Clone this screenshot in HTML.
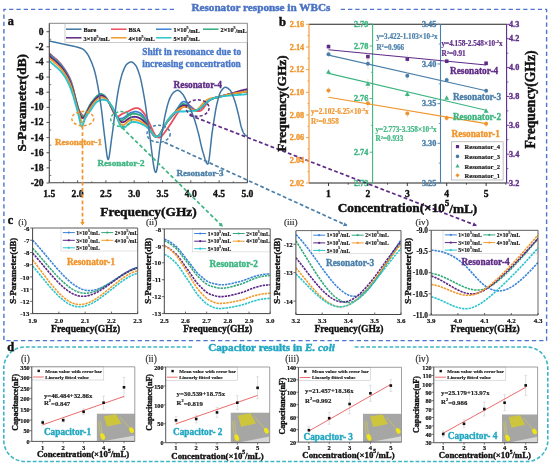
<!DOCTYPE html>
<html><head><meta charset="utf-8"><title>Resonator response in WBCs</title>
<style>html,body{margin:0;padding:0;background:#fff;width:550px;height:466px;overflow:hidden;}</style>
</head><body>
<svg width="550" height="466" viewBox="0 0 550 466" style="display:block;filter:blur(0.3px)" font-family='"Liberation Serif", serif'>
<rect x="0" y="0" width="550" height="466" fill="#ffffff"/>
<path d="M174.00,9.40 L3.90,9.40 L3.90,340.60 L546.60,340.60 L546.60,9.40 L340.00,9.40" fill="none" stroke="#4f74cc" stroke-width="1.4" stroke-dasharray="4.3 3" stroke-linejoin="round" stroke-linecap="butt" />
<text x="191.40" y="6.50" font-size="11.2" fill="#4a72c4" text-anchor="start" font-weight="bold" dominant-baseline="central"  stroke="#4a72c4" stroke-width="0.45">Resonator response in WBCs</text>
<text x="7.80" y="21.40" font-size="12.2" fill="#111" text-anchor="start" font-weight="bold" dominant-baseline="central"  stroke="#111" stroke-width="0.45">a</text>
<clipPath id="clipA"><rect x="49.3" y="23.3" width="198.1" height="159.5"/></clipPath>
<g clip-path="url(#clipA)">
<path d="M46.47,50.23 L47.26,51.14 L48.04,52.00 L48.83,52.80 L49.62,53.56 L50.40,54.29 L51.19,54.99 L51.98,55.68 L52.76,56.35 L53.55,57.01 L54.34,57.68 L55.12,58.36 L55.91,59.05 L56.70,59.77 L57.48,60.52 L58.27,61.31 L59.06,62.14 L59.84,63.02 L60.63,63.93 L61.42,64.89 L62.20,65.90 L62.99,66.94 L63.78,68.04 L64.56,69.18 L65.35,70.36 L66.14,71.59 L66.92,72.87 L67.71,74.20 L68.50,75.59 L69.28,77.12 L70.07,78.83 L70.86,80.78 L71.64,83.03 L72.43,85.64 L73.22,88.65 L74.01,92.07 L74.79,95.68 L75.58,99.26 L76.37,102.60 L77.15,105.47 L77.94,107.75 L78.73,109.54 L79.51,110.98 L80.30,112.22 L81.09,113.41 L81.87,114.68 L82.66,116.01 L83.45,117.15 L84.23,117.86 L85.02,117.95 L85.81,117.31 L86.59,115.83 L87.38,113.50 L88.17,110.71 L88.95,108.00 L89.74,105.80 L90.53,104.09 L91.31,102.79 L92.10,101.81 L92.89,101.06 L93.67,100.45 L94.46,99.87 L95.25,99.27 L96.03,98.62 L96.82,97.97 L97.61,97.32 L98.39,96.72 L99.18,96.19 L99.97,95.75 L100.75,95.44 L101.54,95.27 L102.33,95.27 L103.11,95.46 L103.90,95.84 L104.69,96.39 L105.47,97.13 L106.26,98.05 L107.05,99.14 L107.83,100.40 L108.62,101.84 L109.41,103.44 L110.19,105.16 L110.98,106.95 L111.77,108.74 L112.55,110.47 L113.34,112.10 L114.13,113.56 L114.91,114.79 L115.70,115.74 L116.49,116.35 L117.27,116.57 L118.06,116.46 L118.85,116.11 L119.63,115.60 L120.42,115.05 L121.21,114.53 L121.99,114.06 L122.78,113.65 L123.57,113.27 L124.36,112.92 L125.14,112.58 L125.93,112.26 L126.72,111.94 L127.50,111.60 L128.29,111.25 L129.08,110.87 L129.86,110.47 L130.65,110.05 L131.44,109.64 L132.22,109.25 L133.01,108.90 L133.80,108.58 L134.58,108.33 L135.37,108.15 L136.16,108.06 L136.94,108.06 L137.73,108.19 L138.52,108.43 L139.30,108.79 L140.09,109.26 L140.88,109.86 L141.66,110.57 L142.45,111.39 L143.24,112.33 L144.02,113.37 L144.81,114.53 L145.60,115.80 L146.38,117.17 L147.17,118.64 L147.96,120.18 L148.74,121.79 L149.53,123.44 L150.32,125.14 L151.10,126.85 L151.89,128.57 L152.68,130.26 L153.46,131.87 L154.25,133.36 L155.04,134.68 L155.82,135.80 L156.61,136.66 L157.40,137.22 L158.18,137.50 L158.97,137.52 L159.76,137.30 L160.54,136.88 L161.33,136.29 L162.12,135.54 L162.90,134.67 L163.69,133.72 L164.48,132.70 L165.26,131.64 L166.05,130.56 L166.84,129.46 L167.62,128.34 L168.41,127.19 L169.20,126.04 L169.98,124.86 L170.77,123.67 L171.56,122.47 L172.34,121.26 L173.13,120.04 L173.92,118.81 L174.71,117.57 L175.49,116.33 L176.28,115.10 L177.07,113.88 L177.85,112.69 L178.64,111.54 L179.43,110.45 L180.21,109.43 L181.00,108.49 L181.79,107.64 L182.57,106.90 L183.36,106.27 L184.15,105.78 L184.93,105.42 L185.72,105.18 L186.51,105.07 L187.29,105.09 L188.08,105.22 L188.87,105.47 L189.65,105.83 L190.44,106.30 L191.23,106.85 L192.01,107.46 L192.80,108.10 L193.59,108.74 L194.37,109.36 L195.16,109.92 L195.95,110.41 L196.73,110.78 L197.52,111.04 L198.31,111.17 L199.09,111.16 L199.88,111.00 L200.67,110.68 L201.45,110.18 L202.24,109.50 L203.03,108.64 L203.81,107.64 L204.60,106.53 L205.39,105.36 L206.17,104.18 L206.96,103.03 L207.75,101.94 L208.53,100.96 L209.32,100.13 L210.11,99.47 L210.89,98.95 L211.68,98.55 L212.47,98.24 L213.25,98.02 L214.04,97.86 L214.83,97.73 L215.61,97.61 L216.40,97.49 L217.19,97.36 L217.97,97.20 L218.76,97.02 L219.55,96.83 L220.33,96.63 L221.12,96.41 L221.91,96.20 L222.69,95.98 L223.48,95.75 L224.27,95.53 L225.06,95.32 L225.84,95.11 L226.63,94.91 L227.42,94.72 L228.20,94.53 L228.99,94.36 L229.78,94.19 L230.56,94.02 L231.35,93.86 L232.14,93.71 L232.92,93.57 L233.71,93.42 L234.50,93.29 L235.28,93.16 L236.07,93.03 L236.86,92.90 L237.64,92.78 L238.43,92.67 L239.22,92.55 L240.00,92.44 L240.79,92.33 L241.58,92.23 L242.36,92.12 L243.15,92.02 L243.94,91.91 L244.72,91.81 L245.51,91.71 L246.30,91.61 L247.08,91.50 L247.87,91.40 L248.66,91.30 L249.44,91.19 L250.23,91.09" fill="none" stroke="#ee4f5d" stroke-width="1.8" stroke-linejoin="round" stroke-linecap="round" />
<path d="M46.47,50.99 L47.26,51.89 L48.04,52.74 L48.83,53.55 L49.62,54.32 L50.40,55.06 L51.19,55.78 L51.98,56.47 L52.76,57.15 L53.55,57.82 L54.34,58.50 L55.12,59.17 L55.91,59.86 L56.70,60.56 L57.48,61.29 L58.27,62.05 L59.06,62.84 L59.84,63.66 L60.63,64.53 L61.42,65.45 L62.20,66.42 L62.99,67.44 L63.78,68.53 L64.56,69.68 L65.35,70.89 L66.14,72.18 L66.92,73.55 L67.71,75.00 L68.50,76.55 L69.28,78.22 L70.07,80.04 L70.86,82.03 L71.64,84.23 L72.43,86.65 L73.22,89.34 L74.01,92.27 L74.79,95.37 L75.58,98.55 L76.37,101.71 L77.15,104.77 L77.94,107.64 L78.73,110.24 L79.51,112.51 L80.30,114.38 L81.09,115.79 L81.87,116.65 L82.66,116.92 L83.45,116.64 L84.23,115.90 L85.02,114.82 L85.81,113.50 L86.59,112.01 L87.38,110.43 L88.17,108.83 L88.95,107.29 L89.74,105.85 L90.53,104.53 L91.31,103.30 L92.10,102.17 L92.89,101.10 L93.67,100.11 L94.46,99.17 L95.25,98.27 L96.03,97.43 L96.82,96.66 L97.61,95.97 L98.39,95.39 L99.18,94.93 L99.97,94.60 L100.75,94.43 L101.54,94.42 L102.33,94.60 L103.11,94.97 L103.90,95.51 L104.69,96.22 L105.47,97.08 L106.26,98.09 L107.05,99.23 L107.83,100.49 L108.62,101.86 L109.41,103.32 L110.19,104.86 L110.98,106.44 L111.77,108.04 L112.55,109.61 L113.34,111.15 L114.13,112.60 L114.91,113.96 L115.70,115.17 L116.49,116.23 L117.27,117.09 L118.06,117.77 L118.85,118.25 L119.63,118.56 L120.42,118.69 L121.21,118.66 L121.99,118.48 L122.78,118.17 L123.57,117.76 L124.36,117.27 L125.14,116.72 L125.93,116.13 L126.72,115.52 L127.50,114.91 L128.29,114.33 L129.08,113.80 L129.86,113.33 L130.65,112.91 L131.44,112.55 L132.22,112.25 L133.01,112.01 L133.80,111.84 L134.58,111.73 L135.37,111.69 L136.16,111.72 L136.94,111.82 L137.73,111.99 L138.52,112.24 L139.30,112.58 L140.09,113.01 L140.88,113.55 L141.66,114.21 L142.45,115.00 L143.24,115.92 L144.02,116.99 L144.81,118.21 L145.60,119.60 L146.38,121.15 L147.17,122.82 L147.96,124.57 L148.74,126.35 L149.53,128.12 L150.32,129.82 L151.10,131.41 L151.89,132.85 L152.68,134.11 L153.46,135.17 L154.25,136.00 L155.04,136.58 L155.82,136.89 L156.61,136.91 L157.40,136.61 L158.18,136.02 L158.97,135.18 L159.76,134.13 L160.54,132.92 L161.33,131.60 L162.12,130.20 L162.90,128.76 L163.69,127.34 L164.48,125.98 L165.26,124.71 L166.05,123.55 L166.84,122.48 L167.62,121.48 L168.41,120.53 L169.20,119.63 L169.98,118.75 L170.77,117.87 L171.56,116.98 L172.34,116.07 L173.13,115.11 L173.92,114.10 L174.71,113.01 L175.49,111.83 L176.28,110.57 L177.07,109.28 L177.85,107.98 L178.64,106.71 L179.43,105.51 L180.21,104.41 L181.00,103.44 L181.79,102.64 L182.57,102.05 L183.36,101.70 L184.15,101.61 L184.93,101.77 L185.72,102.14 L186.51,102.68 L187.29,103.35 L188.08,104.12 L188.87,104.96 L189.65,105.82 L190.44,106.67 L191.23,107.49 L192.01,108.25 L192.80,108.93 L193.59,109.50 L194.37,109.95 L195.16,110.25 L195.95,110.38 L196.73,110.32 L197.52,110.09 L198.31,109.72 L199.09,109.23 L199.88,108.63 L200.67,107.96 L201.45,107.23 L202.24,106.48 L203.03,105.71 L203.81,104.94 L204.60,104.18 L205.39,103.44 L206.17,102.72 L206.96,102.03 L207.75,101.39 L208.53,100.80 L209.32,100.27 L210.11,99.81 L210.89,99.39 L211.68,99.03 L212.47,98.71 L213.25,98.42 L214.04,98.16 L214.83,97.92 L215.61,97.70 L216.40,97.48 L217.19,97.27 L217.97,97.06 L218.76,96.85 L219.55,96.65 L220.33,96.44 L221.12,96.25 L221.91,96.05 L222.69,95.86 L223.48,95.67 L224.27,95.49 L225.06,95.31 L225.84,95.13 L226.63,94.96 L227.42,94.79 L228.20,94.62 L228.99,94.46 L229.78,94.31 L230.56,94.15 L231.35,94.00 L232.14,93.85 L232.92,93.71 L233.71,93.57 L234.50,93.43 L235.28,93.29 L236.07,93.16 L236.86,93.03 L237.64,92.90 L238.43,92.77 L239.22,92.65 L240.00,92.53 L240.79,92.41 L241.58,92.29 L242.36,92.17 L243.15,92.06 L243.94,91.94 L244.72,91.83 L245.51,91.72 L246.30,91.61 L247.08,91.51 L247.87,91.40 L248.66,91.29 L249.44,91.19 L250.23,91.09" fill="none" stroke="#3b84d8" stroke-width="1.8" stroke-linejoin="round" stroke-linecap="round" />
<path d="M46.47,52.13 L47.26,53.02 L48.04,53.87 L48.83,54.68 L49.62,55.46 L50.40,56.21 L51.19,56.93 L51.98,57.63 L52.76,58.31 L53.55,58.99 L54.34,59.67 L55.12,60.34 L55.91,61.03 L56.70,61.72 L57.48,62.43 L58.27,63.17 L59.06,63.93 L59.84,64.73 L60.63,65.57 L61.42,66.47 L62.20,67.41 L62.99,68.42 L63.78,69.50 L64.56,70.66 L65.35,71.89 L66.14,73.22 L66.92,74.64 L67.71,76.17 L68.50,77.81 L69.28,79.56 L70.07,81.45 L70.86,83.47 L71.64,85.63 L72.43,87.95 L73.22,90.42 L74.01,93.06 L74.79,95.81 L75.58,98.64 L76.37,101.51 L77.15,104.37 L77.94,107.17 L78.73,109.79 L79.51,112.11 L80.30,114.02 L81.09,115.42 L81.87,116.28 L82.66,116.54 L83.45,116.25 L84.23,115.52 L85.02,114.44 L85.81,113.12 L86.59,111.64 L87.38,110.06 L88.17,108.46 L88.95,106.91 L89.74,105.48 L90.53,104.15 L91.31,102.93 L92.10,101.80 L92.89,100.74 L93.67,99.74 L94.46,98.79 L95.25,97.88 L96.03,97.03 L96.82,96.24 L97.61,95.54 L98.39,94.95 L99.18,94.48 L99.97,94.16 L100.75,94.00 L101.54,94.02 L102.33,94.25 L103.11,94.67 L103.90,95.28 L104.69,96.06 L105.47,96.98 L106.26,98.04 L107.05,99.22 L107.83,100.50 L108.62,101.86 L109.41,103.29 L110.19,104.76 L110.98,106.27 L111.77,107.78 L112.55,109.30 L113.34,110.79 L114.13,112.24 L114.91,113.64 L115.70,114.95 L116.49,116.18 L117.27,117.30 L118.06,118.28 L118.85,119.10 L119.63,119.73 L120.42,120.14 L121.21,120.32 L121.99,120.27 L122.78,120.03 L123.57,119.64 L124.36,119.12 L125.14,118.51 L125.93,117.84 L126.72,117.16 L127.50,116.48 L128.29,115.86 L129.08,115.31 L129.86,114.84 L130.65,114.47 L131.44,114.17 L132.22,113.95 L133.01,113.80 L133.80,113.73 L134.58,113.72 L135.37,113.78 L136.16,113.89 L136.94,114.06 L137.73,114.28 L138.52,114.56 L139.30,114.91 L140.09,115.32 L140.88,115.83 L141.66,116.42 L142.45,117.11 L143.24,117.92 L144.02,118.84 L144.81,119.90 L145.60,121.09 L146.38,122.42 L147.17,123.86 L147.96,125.36 L148.74,126.91 L149.53,128.46 L150.32,129.97 L151.10,131.42 L151.89,132.77 L152.68,133.98 L153.46,135.02 L154.25,135.86 L155.04,136.48 L155.82,136.83 L156.61,136.89 L157.40,136.64 L158.18,136.08 L158.97,135.26 L159.76,134.23 L160.54,133.03 L161.33,131.70 L162.12,130.29 L162.90,128.84 L163.69,127.39 L164.48,125.99 L165.26,124.69 L166.05,123.47 L166.84,122.35 L167.62,121.30 L168.41,120.31 L169.20,119.36 L169.98,118.45 L170.77,117.56 L171.56,116.68 L172.34,115.79 L173.13,114.89 L173.92,113.95 L174.71,112.97 L175.49,111.93 L176.28,110.85 L177.07,109.75 L177.85,108.67 L178.64,107.64 L179.43,106.67 L180.21,105.81 L181.00,105.08 L181.79,104.51 L182.57,104.12 L183.36,103.95 L184.15,104.02 L184.93,104.30 L185.72,104.74 L186.51,105.32 L187.29,105.99 L188.08,106.70 L188.87,107.41 L189.65,108.09 L190.44,108.70 L191.23,109.23 L192.01,109.67 L192.80,110.01 L193.59,110.26 L194.37,110.41 L195.16,110.44 L195.95,110.37 L196.73,110.18 L197.52,109.88 L198.31,109.49 L199.09,109.01 L199.88,108.46 L200.67,107.85 L201.45,107.19 L202.24,106.48 L203.03,105.75 L203.81,105.01 L204.60,104.25 L205.39,103.50 L206.17,102.78 L206.96,102.08 L207.75,101.42 L208.53,100.81 L209.32,100.27 L210.11,99.79 L210.89,99.37 L211.68,99.01 L212.47,98.69 L213.25,98.40 L214.04,98.14 L214.83,97.91 L215.61,97.69 L216.40,97.48 L217.19,97.27 L217.97,97.06 L218.76,96.86 L219.55,96.65 L220.33,96.45 L221.12,96.25 L221.91,96.06 L222.69,95.86 L223.48,95.68 L224.27,95.49 L225.06,95.31 L225.84,95.13 L226.63,94.96 L227.42,94.79 L228.20,94.62 L228.99,94.46 L229.78,94.30 L230.56,94.15 L231.35,93.99 L232.14,93.85 L232.92,93.70 L233.71,93.56 L234.50,93.42 L235.28,93.28 L236.07,93.15 L236.86,93.02 L237.64,92.89 L238.43,92.77 L239.22,92.64 L240.00,92.52 L240.79,92.40 L241.58,92.29 L242.36,92.17 L243.15,92.06 L243.94,91.94 L244.72,91.83 L245.51,91.72 L246.30,91.61 L247.08,91.51 L247.87,91.40 L248.66,91.29 L249.44,91.19 L250.23,91.09" fill="none" stroke="#33a97a" stroke-width="1.8" stroke-linejoin="round" stroke-linecap="round" />
<path d="M46.47,52.88 L47.26,53.78 L48.04,54.63 L48.83,55.44 L49.62,56.22 L50.40,56.96 L51.19,57.67 L51.98,58.37 L52.76,59.06 L53.55,59.73 L54.34,60.41 L55.12,61.08 L55.91,61.77 L56.70,62.47 L57.48,63.19 L58.27,63.93 L59.06,64.71 L59.84,65.52 L60.63,66.38 L61.42,67.28 L62.20,68.24 L62.99,69.26 L63.78,70.34 L64.56,71.49 L65.35,72.72 L66.14,74.03 L66.92,75.42 L67.71,76.91 L68.50,78.50 L69.28,80.22 L70.07,82.07 L70.86,84.07 L71.64,86.25 L72.43,88.62 L73.22,91.20 L74.01,93.99 L74.79,96.91 L75.58,99.92 L76.37,102.94 L77.15,105.90 L77.94,108.73 L78.73,111.34 L79.51,113.64 L80.30,115.52 L81.09,116.93 L81.87,117.79 L82.66,118.05 L83.45,117.77 L84.23,117.03 L85.02,115.96 L85.81,114.64 L86.59,113.15 L87.38,111.57 L88.17,109.97 L88.95,108.42 L89.74,106.98 L90.53,105.65 L91.31,104.42 L92.10,103.28 L92.89,102.22 L93.67,101.23 L94.46,100.30 L95.25,99.42 L96.03,98.60 L96.82,97.84 L97.61,97.17 L98.39,96.61 L99.18,96.15 L99.97,95.82 L100.75,95.62 L101.54,95.58 L102.33,95.71 L103.11,96.00 L103.90,96.45 L104.69,97.05 L105.47,97.78 L106.26,98.64 L107.05,99.62 L107.83,100.70 L108.62,101.88 L109.41,103.15 L110.19,104.49 L110.98,105.88 L111.77,107.32 L112.55,108.80 L113.34,110.29 L114.13,111.78 L114.91,113.26 L115.70,114.72 L116.49,116.13 L117.27,117.50 L118.06,118.77 L118.85,119.91 L119.63,120.86 L120.42,121.58 L121.21,122.04 L121.99,122.24 L122.78,122.22 L123.57,122.02 L124.36,121.66 L125.14,121.19 L125.93,120.64 L126.72,120.04 L127.50,119.44 L128.29,118.87 L129.08,118.36 L129.86,117.92 L130.65,117.55 L131.44,117.26 L132.22,117.04 L133.01,116.88 L133.80,116.79 L134.58,116.77 L135.37,116.81 L136.16,116.92 L136.94,117.09 L137.73,117.31 L138.52,117.60 L139.30,117.95 L140.09,118.37 L140.88,118.85 L141.66,119.41 L142.45,120.04 L143.24,120.74 L144.02,121.52 L144.81,122.39 L145.60,123.33 L146.38,124.36 L147.17,125.45 L147.96,126.60 L148.74,127.79 L149.53,129.00 L150.32,130.22 L151.10,131.44 L151.89,132.63 L152.68,133.76 L153.46,134.78 L154.25,135.65 L155.04,136.32 L155.82,136.74 L156.61,136.88 L157.40,136.68 L158.18,136.17 L158.97,135.38 L159.76,134.37 L160.54,133.17 L161.33,131.84 L162.12,130.41 L162.90,128.94 L163.69,127.45 L164.48,126.01 L165.26,124.65 L166.05,123.39 L166.84,122.21 L167.62,121.10 L168.41,120.06 L169.20,119.07 L169.98,118.14 L170.77,117.23 L171.56,116.36 L172.34,115.50 L173.13,114.64 L173.92,113.79 L174.71,112.92 L175.49,112.03 L176.28,111.13 L177.07,110.24 L177.85,109.37 L178.64,108.54 L179.43,107.77 L180.21,107.08 L181.00,106.49 L181.79,106.01 L182.57,105.66 L183.36,105.47 L184.15,105.44 L184.93,105.56 L185.72,105.81 L186.51,106.16 L187.29,106.59 L188.08,107.07 L188.87,107.58 L189.65,108.10 L190.44,108.60 L191.23,109.07 L192.01,109.49 L192.80,109.85 L193.59,110.13 L194.37,110.32 L195.16,110.40 L195.95,110.37 L196.73,110.21 L197.52,109.92 L198.31,109.53 L199.09,109.05 L199.88,108.49 L200.67,107.87 L201.45,107.20 L202.24,106.48 L203.03,105.74 L203.81,104.99 L204.60,104.24 L205.39,103.49 L206.17,102.77 L206.96,102.07 L207.75,101.41 L208.53,100.81 L209.32,100.27 L210.11,99.79 L210.89,99.37 L211.68,99.00 L212.47,98.68 L213.25,98.39 L214.04,98.13 L214.83,97.90 L215.61,97.69 L216.40,97.48 L217.19,97.28 L217.97,97.09 L218.76,96.89 L219.55,96.70 L220.33,96.51 L221.12,96.32 L221.91,96.12 L222.69,95.93 L223.48,95.73 L224.27,95.53 L225.06,95.32 L225.84,95.10 L226.63,94.88 L227.42,94.66 L228.20,94.43 L228.99,94.19 L229.78,93.96 L230.56,93.72 L231.35,93.47 L232.14,93.23 L232.92,92.99 L233.71,92.74 L234.50,92.50 L235.28,92.25 L236.07,92.01 L236.86,91.78 L237.64,91.54 L238.43,91.31 L239.22,91.09 L240.00,90.87 L240.79,90.65 L241.58,90.45 L242.36,90.25 L243.15,90.06 L243.94,89.87 L244.72,89.70 L245.51,89.54 L246.30,89.39 L247.08,89.25 L247.87,89.12 L248.66,89.00 L249.44,88.90 L250.23,88.82" fill="none" stroke="#5b2585" stroke-width="1.8" stroke-linejoin="round" stroke-linecap="round" />
<path d="M46.47,54.77 L47.26,55.67 L48.04,56.53 L48.83,57.33 L49.62,58.11 L50.40,58.85 L51.19,59.56 L51.98,60.26 L52.76,60.94 L53.55,61.61 L54.34,62.28 L55.12,62.96 L55.91,63.65 L56.70,64.35 L57.48,65.08 L58.27,65.83 L59.06,66.61 L59.84,67.44 L60.63,68.30 L61.42,69.22 L62.20,70.18 L62.99,71.20 L63.78,72.29 L64.56,73.44 L65.35,74.66 L66.14,75.95 L66.92,77.33 L67.71,78.79 L68.50,80.35 L69.28,82.03 L70.07,83.86 L70.86,85.86 L71.64,88.05 L72.43,90.46 L73.22,93.11 L74.01,95.99 L74.79,99.01 L75.58,102.05 L76.37,105.00 L77.15,107.75 L77.94,110.26 L78.73,112.69 L79.51,115.22 L80.30,118.00 L81.09,120.69 L81.87,122.56 L82.66,122.90 L83.45,121.82 L84.23,119.91 L85.02,117.78 L85.81,115.90 L86.59,114.28 L87.38,112.86 L88.17,111.57 L88.95,110.32 L89.74,109.08 L90.53,107.85 L91.31,106.63 L92.10,105.44 L92.89,104.29 L93.67,103.21 L94.46,102.20 L95.25,101.28 L96.03,100.45 L96.82,99.72 L97.61,99.08 L98.39,98.55 L99.18,98.12 L99.97,97.81 L100.75,97.60 L101.54,97.52 L102.33,97.55 L103.11,97.69 L103.90,97.96 L104.69,98.34 L105.47,98.84 L106.26,99.44 L107.05,100.16 L107.83,100.99 L108.62,101.92 L109.41,102.95 L110.19,104.08 L110.98,105.31 L111.77,106.63 L112.55,108.02 L113.34,109.50 L114.13,111.05 L114.91,112.66 L115.70,114.33 L116.49,116.06 L117.27,117.83 L118.06,119.57 L118.85,121.21 L119.63,122.63 L120.42,123.77 L121.21,124.53 L121.99,124.92 L122.78,125.00 L123.57,124.81 L124.36,124.42 L125.14,123.87 L125.93,123.21 L126.72,122.51 L127.50,121.80 L128.29,121.15 L129.08,120.61 L129.86,120.18 L130.65,119.87 L131.44,119.65 L132.22,119.52 L133.01,119.47 L133.80,119.49 L134.58,119.58 L135.37,119.71 L136.16,119.89 L136.94,120.10 L137.73,120.34 L138.52,120.60 L139.30,120.88 L140.09,121.20 L140.88,121.56 L141.66,121.96 L142.45,122.41 L143.24,122.92 L144.02,123.49 L144.81,124.12 L145.60,124.82 L146.38,125.60 L147.17,126.44 L147.96,127.35 L148.74,128.31 L149.53,129.32 L150.32,130.37 L151.10,131.45 L151.89,132.56 L152.68,133.64 L153.46,134.64 L154.25,135.52 L155.04,136.22 L155.82,136.69 L156.61,136.86 L157.40,136.71 L158.18,136.22 L158.97,135.46 L159.76,134.47 L160.54,133.28 L161.33,131.94 L162.12,130.51 L162.90,129.01 L163.69,127.50 L164.48,126.03 L165.26,124.62 L166.05,123.31 L166.84,122.07 L167.62,120.91 L168.41,119.82 L169.20,118.79 L169.98,117.82 L170.77,116.90 L171.56,116.03 L172.34,115.20 L173.13,114.40 L173.92,113.63 L174.71,112.88 L175.49,112.14 L176.28,111.43 L177.07,110.74 L177.85,110.08 L178.64,109.46 L179.43,108.89 L180.21,108.38 L181.00,107.92 L181.79,107.53 L182.57,107.22 L183.36,106.99 L184.15,106.85 L184.93,106.79 L185.72,106.82 L186.51,106.93 L187.29,107.12 L188.08,107.38 L188.87,107.70 L189.65,108.10 L190.44,108.55 L191.23,109.03 L192.01,109.49 L192.80,109.91 L193.59,110.24 L194.37,110.45 L195.16,110.51 L195.95,110.36 L196.73,109.99 L197.52,109.44 L198.31,108.73 L199.09,107.90 L199.88,107.00 L200.67,106.05 L201.45,105.10 L202.24,104.19 L203.03,103.33 L203.81,102.55 L204.60,101.82 L205.39,101.17 L206.17,100.58 L206.96,100.05 L207.75,99.59 L208.53,99.20 L209.32,98.87 L210.11,98.60 L210.89,98.38 L211.68,98.20 L212.47,98.06 L213.25,97.93 L214.04,97.83 L214.83,97.72 L215.61,97.62 L216.40,97.49 L217.19,97.35 L217.97,97.19 L218.76,97.01 L219.55,96.82 L220.33,96.62 L221.12,96.41 L221.91,96.19 L222.69,95.97 L223.48,95.75 L224.27,95.53 L225.06,95.32 L225.84,95.11 L226.63,94.91 L227.42,94.72 L228.20,94.54 L228.99,94.36 L229.78,94.19 L230.56,94.03 L231.35,93.87 L232.14,93.72 L232.92,93.57 L233.71,93.43 L234.50,93.29 L235.28,93.16 L236.07,93.03 L236.86,92.91 L237.64,92.79 L238.43,92.67 L239.22,92.56 L240.00,92.45 L240.79,92.34 L241.58,92.23 L242.36,92.12 L243.15,92.02 L243.94,91.92 L244.72,91.81 L245.51,91.71 L246.30,91.61 L247.08,91.51 L247.87,91.40 L248.66,91.30 L249.44,91.19 L250.23,91.09" fill="none" stroke="#f39a2b" stroke-width="1.8" stroke-linejoin="round" stroke-linecap="round" />
<path d="M46.47,57.80 L47.26,58.70 L48.04,59.55 L48.83,60.36 L49.62,61.13 L50.40,61.88 L51.19,62.60 L51.98,63.30 L52.76,63.99 L53.55,64.67 L54.34,65.35 L55.12,66.02 L55.91,66.70 L56.70,67.40 L57.48,68.11 L58.27,68.84 L59.06,69.60 L59.84,70.40 L60.63,71.24 L61.42,72.12 L62.20,73.07 L62.99,74.08 L63.78,75.15 L64.56,76.31 L65.35,77.55 L66.14,78.88 L66.92,80.31 L67.71,81.85 L68.50,83.50 L69.28,85.26 L70.07,87.16 L70.86,89.18 L71.64,91.34 L72.43,93.64 L73.22,96.09 L74.01,98.69 L74.79,101.41 L75.58,104.23 L76.37,107.12 L77.15,110.06 L77.94,113.06 L78.73,116.22 L79.51,119.67 L80.30,123.17 L81.09,125.84 L81.87,126.73 L82.66,125.64 L83.45,123.36 L84.23,120.71 L85.02,118.47 L85.81,116.77 L86.59,115.47 L87.38,114.44 L88.17,113.53 L88.95,112.60 L89.74,111.56 L90.53,110.42 L91.31,109.20 L92.10,107.96 L92.89,106.74 L93.67,105.56 L94.46,104.48 L95.25,103.52 L96.03,102.70 L96.82,101.99 L97.61,101.40 L98.39,100.92 L99.18,100.53 L99.97,100.22 L100.75,100.00 L101.54,99.84 L102.33,99.75 L103.11,99.71 L103.90,99.75 L104.69,99.86 L105.47,100.07 L106.26,100.37 L107.05,100.78 L107.83,101.30 L108.62,101.95 L109.41,102.74 L110.19,103.66 L110.98,104.71 L111.77,105.90 L112.55,107.23 L113.34,108.70 L114.13,110.31 L114.91,112.06 L115.70,113.95 L116.49,115.98 L117.27,118.14 L118.06,120.35 L118.85,122.47 L119.63,124.37 L120.42,125.94 L121.21,127.06 L121.99,127.72 L122.78,128.00 L123.57,127.95 L124.36,127.63 L125.14,127.11 L125.93,126.44 L126.72,125.70 L127.50,124.93 L128.29,124.21 L129.08,123.58 L129.86,123.07 L130.65,122.68 L131.44,122.38 L132.22,122.17 L133.01,122.05 L133.80,122.00 L134.58,122.02 L135.37,122.10 L136.16,122.22 L136.94,122.39 L137.73,122.59 L138.52,122.82 L139.30,123.07 L140.09,123.36 L140.88,123.68 L141.66,124.03 L142.45,124.42 L143.24,124.84 L144.02,125.29 L144.81,125.78 L145.60,126.32 L146.38,126.89 L147.17,127.50 L147.96,128.17 L148.74,128.89 L149.53,129.68 L150.32,130.53 L151.10,131.46 L151.89,132.46 L152.68,133.49 L153.46,134.48 L154.25,135.37 L155.04,136.10 L155.82,136.62 L156.61,136.85 L157.40,136.74 L158.18,136.31 L158.97,135.59 L159.76,134.62 L160.54,133.45 L161.33,132.12 L162.12,130.67 L162.90,129.15 L163.69,127.60 L164.48,126.06 L165.26,124.56 L166.05,123.14 L166.84,121.79 L167.62,120.52 L168.41,119.32 L169.20,118.20 L169.98,117.16 L170.77,116.21 L171.56,115.34 L172.34,114.56 L173.13,113.88 L173.92,113.28 L174.71,112.78 L175.49,112.38 L176.28,112.07 L177.07,111.84 L177.85,111.67 L178.64,111.57 L179.43,111.51 L180.21,111.48 L181.00,111.48 L181.79,111.49 L182.57,111.51 L183.36,111.51 L184.15,111.50 L184.93,111.46 L185.72,111.42 L186.51,111.36 L187.29,111.30 L188.08,111.24 L188.87,111.18 L189.65,111.13 L190.44,111.09 L191.23,111.06 L192.01,111.02 L192.80,110.96 L193.59,110.87 L194.37,110.75 L195.16,110.58 L195.95,110.36 L196.73,110.07 L197.52,109.73 L198.31,109.32 L199.09,108.85 L199.88,108.34 L200.67,107.77 L201.45,107.15 L202.24,106.49 L203.03,105.79 L203.81,105.06 L204.60,104.31 L205.39,103.56 L206.17,102.83 L206.96,102.11 L207.75,101.44 L208.53,100.82 L209.32,100.26 L210.11,99.77 L210.89,99.34 L211.68,98.96 L212.47,98.63 L213.25,98.35 L214.04,98.09 L214.83,97.87 L215.61,97.67 L216.40,97.49 L217.19,97.31 L217.97,97.15 L218.76,96.99 L219.55,96.84 L220.33,96.71 L221.12,96.58 L221.91,96.46 L222.69,96.34 L223.48,96.23 L224.27,96.13 L225.06,96.03 L225.84,95.94 L226.63,95.86 L227.42,95.78 L228.20,95.70 L228.99,95.63 L229.78,95.56 L230.56,95.49 L231.35,95.43 L232.14,95.37 L232.92,95.31 L233.71,95.25 L234.50,95.20 L235.28,95.14 L236.07,95.09 L236.86,95.03 L237.64,94.98 L238.43,94.92 L239.22,94.87 L240.00,94.81 L240.79,94.75 L241.58,94.68 L242.36,94.62 L243.15,94.55 L243.94,94.48 L244.72,94.40 L245.51,94.32 L246.30,94.24 L247.08,94.15 L247.87,94.05 L248.66,93.95 L249.44,93.85 L250.23,93.73" fill="none" stroke="#2ac5cc" stroke-width="1.8" stroke-linejoin="round" stroke-linecap="round" />
<path d="M46.47,40.40 L46.88,40.49 L47.29,40.57 L47.70,40.66 L48.10,40.75 L48.51,40.84 L48.92,40.92 L49.33,41.01 L49.74,41.10 L50.15,41.19 L50.55,41.28 L50.96,41.36 L51.37,41.45 L51.78,41.54 L52.19,41.63 L52.60,41.72 L53.00,41.81 L53.41,41.90 L53.82,41.98 L54.23,42.07 L54.64,42.16 L55.05,42.25 L55.45,42.34 L55.86,42.43 L56.27,42.52 L56.68,42.61 L57.09,42.70 L57.50,42.79 L57.90,42.87 L58.31,42.96 L58.72,43.05 L59.13,43.14 L59.54,43.23 L59.95,43.32 L60.35,43.41 L60.76,43.50 L61.17,43.59 L61.58,43.68 L61.99,43.77 L62.40,43.86 L62.80,43.95 L63.21,44.04 L63.62,44.13 L64.03,44.22 L64.44,44.31 L64.85,44.40 L65.25,44.49 L65.66,44.58 L66.07,44.67 L66.48,44.76 L66.89,44.84 L67.30,44.93 L67.70,45.01 L68.11,45.10 L68.52,45.18 L68.93,45.26 L69.34,45.34 L69.75,45.43 L70.15,45.51 L70.56,45.59 L70.97,45.67 L71.38,45.75 L71.79,45.83 L72.20,45.92 L72.60,46.00 L73.01,46.09 L73.42,46.18 L73.83,46.27 L74.24,46.36 L74.65,46.45 L75.05,46.55 L75.46,46.64 L75.87,46.75 L76.28,46.85 L76.69,46.96 L77.10,47.07 L77.50,47.18 L77.91,47.30 L78.32,47.42 L78.73,47.54 L79.14,47.66 L79.55,47.79 L79.95,47.92 L80.36,48.07 L80.77,48.22 L81.18,48.38 L81.59,48.55 L82.00,48.74 L82.40,48.95 L82.81,49.17 L83.22,49.42 L83.63,49.72 L84.04,50.05 L84.45,50.42 L84.85,50.82 L85.26,51.25 L85.67,51.70 L86.08,52.18 L86.49,52.67 L86.90,53.19 L87.30,53.78 L87.71,54.42 L88.12,55.12 L88.53,55.86 L88.94,56.65 L89.35,57.46 L89.75,58.31 L90.16,59.17 L90.57,60.05 L90.98,60.97 L91.39,61.92 L91.80,62.91 L92.20,63.94 L92.61,65.02 L93.02,66.15 L93.43,67.34 L93.84,68.59 L94.25,69.91 L94.65,71.29 L95.06,72.81 L95.47,74.48 L95.88,76.27 L96.29,78.18 L96.70,80.19 L97.10,82.28 L97.51,84.43 L97.92,86.62 L98.33,88.88 L98.74,91.25 L99.15,93.73 L99.55,96.31 L99.96,98.98 L100.37,101.75 L100.78,104.59 L101.19,107.52 L101.60,110.55 L102.00,113.84 L102.41,117.35 L102.82,120.99 L103.23,124.67 L103.64,128.32 L104.05,131.87 L104.45,135.21 L104.86,138.31 L105.27,141.58 L105.68,145.07 L106.09,148.58 L106.50,151.92 L106.90,154.88 L107.31,157.27 L107.72,158.89 L108.13,159.54 L108.54,159.11 L108.95,157.73 L109.35,155.60 L109.76,152.90 L110.17,149.84 L110.58,146.58 L110.99,143.32 L111.40,140.26 L111.80,137.45 L112.21,134.52 L112.62,131.45 L113.03,128.28 L113.44,125.07 L113.85,121.85 L114.25,118.67 L114.66,115.56 L115.07,112.57 L115.48,109.55 L115.89,106.49 L116.30,103.43 L116.70,100.43 L117.11,97.54 L117.52,94.81 L117.93,92.28 L118.34,90.03 L118.75,87.96 L119.15,85.95 L119.56,84.02 L119.97,82.17 L120.38,80.40 L120.79,78.73 L121.20,77.15 L121.60,75.67 L122.01,74.30 L122.42,73.05 L122.83,71.93 L123.24,70.89 L123.65,69.88 L124.05,68.91 L124.46,67.99 L124.87,67.13 L125.28,66.35 L125.69,65.65 L126.10,65.05 L126.50,64.55 L126.91,64.17 L127.32,63.84 L127.73,63.52 L128.14,63.22 L128.55,62.94 L128.95,62.68 L129.36,62.46 L129.77,62.27 L130.18,62.12 L130.59,62.02 L131.00,61.97 L131.40,61.97 L131.81,62.05 L132.22,62.21 L132.63,62.44 L133.04,62.72 L133.45,63.05 L133.85,63.42 L134.26,63.83 L134.67,64.26 L135.08,64.71 L135.49,65.17 L135.90,65.74 L136.30,66.43 L136.71,67.22 L137.12,68.12 L137.53,69.10 L137.94,70.15 L138.35,71.27 L138.75,72.45 L139.16,73.66 L139.57,74.94 L139.98,76.37 L140.39,77.94 L140.80,79.65 L141.20,81.47 L141.61,83.39 L142.02,85.41 L142.43,87.50 L142.84,89.67 L143.25,91.88 L143.65,94.15 L144.06,96.43 L144.47,98.74 L144.88,101.19 L145.29,103.79 L145.70,106.54 L146.10,109.40 L146.51,112.35 L146.92,115.36 L147.33,118.39 L147.74,121.43 L148.15,124.45 L148.55,127.42 L148.96,130.31 L149.37,133.09 L149.78,135.86 L150.19,138.85 L150.60,142.03 L151.00,145.33 L151.41,148.70 L151.82,152.07 L152.23,155.38 L152.64,158.56 L153.05,161.57 L153.45,164.33 L153.86,166.78 L154.27,168.87 L154.68,170.53 L155.09,171.70 L155.50,172.32 L155.90,172.32 L156.31,171.55 L156.72,170.11 L157.13,168.09 L157.54,165.60 L157.95,162.73 L158.35,159.58 L158.76,156.26 L159.17,152.87 L159.58,149.51 L159.99,146.28 L160.40,143.28 L160.80,140.62 L161.21,138.12 L161.62,135.57 L162.03,132.98 L162.44,130.40 L162.85,127.83 L163.25,125.31 L163.66,122.86 L164.07,120.51 L164.48,118.29 L164.89,116.21 L165.30,114.31 L165.70,112.53 L166.11,110.79 L166.52,109.09 L166.93,107.45 L167.34,105.88 L167.75,104.38 L168.15,102.97 L168.56,101.66 L168.97,100.46 L169.38,99.38 L169.79,98.42 L170.20,97.57 L170.60,96.75 L171.01,95.98 L171.42,95.25 L171.83,94.58 L172.24,93.96 L172.65,93.41 L173.05,92.92 L173.46,92.51 L173.87,92.18 L174.28,91.89 L174.69,91.60 L175.10,91.33 L175.50,91.08 L175.91,90.86 L176.32,90.66 L176.73,90.51 L177.14,90.40 L177.55,90.34 L177.95,90.34 L178.36,90.41 L178.77,90.57 L179.18,90.79 L179.59,91.06 L180.00,91.39 L180.40,91.76 L180.81,92.15 L181.22,92.57 L181.63,93.01 L182.04,93.44 L182.45,93.88 L182.85,94.38 L183.26,94.95 L183.67,95.59 L184.08,96.29 L184.49,97.04 L184.90,97.83 L185.30,98.66 L185.71,99.51 L186.12,100.38 L186.53,101.26 L186.94,102.14 L187.35,103.02 L187.75,103.88 L188.16,104.72 L188.57,105.56 L188.98,106.40 L189.39,107.25 L189.80,108.11 L190.20,108.98 L190.61,109.87 L191.02,110.77 L191.43,111.70 L191.84,112.65 L192.25,113.63 L192.65,114.64 L193.06,115.68 L193.47,116.75 L193.88,117.88 L194.29,119.06 L194.70,120.29 L195.10,121.58 L195.51,122.91 L195.92,124.28 L196.33,125.69 L196.74,127.13 L197.15,128.60 L197.55,130.09 L197.96,131.59 L198.37,133.13 L198.78,134.77 L199.19,136.51 L199.60,138.33 L200.00,140.18 L200.41,142.04 L200.82,143.88 L201.23,145.68 L201.64,147.39 L202.05,149.00 L202.45,150.47 L202.86,151.79 L203.27,153.15 L203.68,154.54 L204.09,155.94 L204.50,157.32 L204.90,158.66 L205.31,159.91 L205.72,161.05 L206.13,162.06 L206.54,162.89 L206.95,163.53 L207.35,163.94 L207.76,164.09 L208.17,163.60 L208.58,162.16 L208.99,159.92 L209.40,157.04 L209.80,153.67 L210.21,149.97 L210.62,146.08 L211.03,142.18 L211.44,138.42 L211.85,134.94 L212.25,131.91 L212.66,129.22 L213.07,126.49 L213.48,123.76 L213.89,121.04 L214.30,118.37 L214.70,115.77 L215.11,113.26 L215.52,110.88 L215.93,108.64 L216.34,106.57 L216.75,104.70 L217.15,102.99 L217.56,101.31 L217.97,99.68 L218.38,98.11 L218.79,96.64 L219.20,95.28 L219.60,94.05 L220.01,92.99 L220.42,92.10 L220.83,91.42 L221.24,90.83 L221.65,90.27 L222.05,89.73 L222.46,89.22 L222.87,88.76 L223.28,88.35 L223.69,87.99 L224.10,87.70 L224.50,87.49 L224.91,87.35 L225.32,87.30 L225.73,87.33 L226.14,87.42 L226.55,87.55 L226.95,87.74 L227.36,87.96 L227.77,88.23 L228.18,88.52 L228.59,88.84 L229.00,89.18 L229.40,89.54 L229.81,89.91 L230.22,90.35 L230.63,90.91 L231.04,91.59 L231.45,92.37 L231.85,93.24 L232.26,94.19 L232.67,95.20 L233.08,96.25 L233.49,97.34 L233.90,98.46 L234.30,99.57 L234.71,100.73 L235.12,102.00 L235.53,103.36 L235.94,104.81 L236.35,106.32 L236.75,107.89 L237.16,109.49 L237.57,111.10 L237.98,112.72 L238.39,114.33 L238.80,116.05 L239.20,117.91 L239.61,119.85 L240.02,121.80 L240.43,123.69 L240.84,125.45 L241.25,127.01 L241.65,128.30 L242.06,129.37 L242.47,130.40 L242.88,131.37 L243.29,132.27 L243.70,133.09 L244.10,133.79 L244.51,134.37 L244.92,134.80 L245.33,135.09 L245.74,135.34 L246.15,135.58 L246.55,135.80 L246.96,136.01 L247.37,136.19 L247.78,136.36 L248.19,136.50 L248.60,136.63 L249.00,136.72 L249.41,136.79 L249.82,136.84 L250.23,136.85" fill="none" stroke="#3f76a3" stroke-width="1.5" stroke-linejoin="round" stroke-linecap="round" />
</g>
<line x1="49.30" y1="23.30" x2="247.40" y2="23.30" stroke="#777" stroke-width="0.9" />
<line x1="247.40" y1="23.30" x2="247.40" y2="182.80" stroke="#555" stroke-width="0.9" />
<line x1="49.30" y1="23.30" x2="49.30" y2="182.80" stroke="#444" stroke-width="1.1" />
<line x1="49.30" y1="182.80" x2="247.40" y2="182.80" stroke="#444" stroke-width="1.1" />
<line x1="46.50" y1="31.70" x2="49.30" y2="31.70" stroke="#444" stroke-width="0.9" />
<text x="43.60" y="31.20" font-size="9.6" fill="#111" text-anchor="end" font-weight="bold" dominant-baseline="central"  stroke="#111" stroke-width="0.35">0</text>
<line x1="46.50" y1="46.83" x2="49.30" y2="46.83" stroke="#444" stroke-width="0.9" />
<text x="43.60" y="46.33" font-size="9.6" fill="#111" text-anchor="end" font-weight="bold" dominant-baseline="central"  stroke="#111" stroke-width="0.35">-2</text>
<line x1="46.50" y1="61.96" x2="49.30" y2="61.96" stroke="#444" stroke-width="0.9" />
<text x="43.60" y="61.46" font-size="9.6" fill="#111" text-anchor="end" font-weight="bold" dominant-baseline="central"  stroke="#111" stroke-width="0.35">-4</text>
<line x1="46.50" y1="77.09" x2="49.30" y2="77.09" stroke="#444" stroke-width="0.9" />
<text x="43.60" y="76.59" font-size="9.6" fill="#111" text-anchor="end" font-weight="bold" dominant-baseline="central"  stroke="#111" stroke-width="0.35">-6</text>
<line x1="46.50" y1="92.22" x2="49.30" y2="92.22" stroke="#444" stroke-width="0.9" />
<text x="43.60" y="91.72" font-size="9.6" fill="#111" text-anchor="end" font-weight="bold" dominant-baseline="central"  stroke="#111" stroke-width="0.35">-8</text>
<line x1="46.50" y1="107.35" x2="49.30" y2="107.35" stroke="#444" stroke-width="0.9" />
<text x="43.60" y="106.85" font-size="9.6" fill="#111" text-anchor="end" font-weight="bold" dominant-baseline="central"  stroke="#111" stroke-width="0.35">-10</text>
<line x1="46.50" y1="122.48" x2="49.30" y2="122.48" stroke="#444" stroke-width="0.9" />
<text x="43.60" y="121.98" font-size="9.6" fill="#111" text-anchor="end" font-weight="bold" dominant-baseline="central"  stroke="#111" stroke-width="0.35">-12</text>
<line x1="46.50" y1="137.61" x2="49.30" y2="137.61" stroke="#444" stroke-width="0.9" />
<text x="43.60" y="137.11" font-size="9.6" fill="#111" text-anchor="end" font-weight="bold" dominant-baseline="central"  stroke="#111" stroke-width="0.35">-14</text>
<line x1="46.50" y1="152.74" x2="49.30" y2="152.74" stroke="#444" stroke-width="0.9" />
<text x="43.60" y="152.24" font-size="9.6" fill="#111" text-anchor="end" font-weight="bold" dominant-baseline="central"  stroke="#111" stroke-width="0.35">-16</text>
<line x1="46.50" y1="167.87" x2="49.30" y2="167.87" stroke="#444" stroke-width="0.9" />
<text x="43.60" y="167.37" font-size="9.6" fill="#111" text-anchor="end" font-weight="bold" dominant-baseline="central"  stroke="#111" stroke-width="0.35">-18</text>
<line x1="46.50" y1="183.00" x2="49.30" y2="183.00" stroke="#444" stroke-width="0.9" />
<text x="43.60" y="182.50" font-size="9.6" fill="#111" text-anchor="end" font-weight="bold" dominant-baseline="central"  stroke="#111" stroke-width="0.35">-20</text>
<line x1="49.30" y1="39.27" x2="51.30" y2="39.27" stroke="#444" stroke-width="0.7" />
<line x1="49.30" y1="54.39" x2="51.30" y2="54.39" stroke="#444" stroke-width="0.7" />
<line x1="49.30" y1="69.53" x2="51.30" y2="69.53" stroke="#444" stroke-width="0.7" />
<line x1="49.30" y1="84.66" x2="51.30" y2="84.66" stroke="#444" stroke-width="0.7" />
<line x1="49.30" y1="99.79" x2="51.30" y2="99.79" stroke="#444" stroke-width="0.7" />
<line x1="49.30" y1="114.92" x2="51.30" y2="114.92" stroke="#444" stroke-width="0.7" />
<line x1="49.30" y1="130.04" x2="51.30" y2="130.04" stroke="#444" stroke-width="0.7" />
<line x1="49.30" y1="145.18" x2="51.30" y2="145.18" stroke="#444" stroke-width="0.7" />
<line x1="49.30" y1="160.31" x2="51.30" y2="160.31" stroke="#444" stroke-width="0.7" />
<line x1="49.30" y1="175.44" x2="51.30" y2="175.44" stroke="#444" stroke-width="0.7" />
<line x1="49.30" y1="182.80" x2="49.30" y2="180.30" stroke="#444" stroke-width="0.9" />
<text x="49.30" y="193.70" font-size="9.6" fill="#111" text-anchor="middle" font-weight="bold" dominant-baseline="central"  stroke="#111" stroke-width="0.35">1.5</text>
<line x1="63.45" y1="182.80" x2="63.45" y2="181.30" stroke="#444" stroke-width="0.7" />
<line x1="77.60" y1="182.80" x2="77.60" y2="180.30" stroke="#444" stroke-width="0.9" />
<text x="77.60" y="193.70" font-size="9.6" fill="#111" text-anchor="middle" font-weight="bold" dominant-baseline="central"  stroke="#111" stroke-width="0.35">2.0</text>
<line x1="91.75" y1="182.80" x2="91.75" y2="181.30" stroke="#444" stroke-width="0.7" />
<line x1="105.90" y1="182.80" x2="105.90" y2="180.30" stroke="#444" stroke-width="0.9" />
<text x="105.90" y="193.70" font-size="9.6" fill="#111" text-anchor="middle" font-weight="bold" dominant-baseline="central"  stroke="#111" stroke-width="0.35">2.5</text>
<line x1="120.05" y1="182.80" x2="120.05" y2="181.30" stroke="#444" stroke-width="0.7" />
<line x1="134.20" y1="182.80" x2="134.20" y2="180.30" stroke="#444" stroke-width="0.9" />
<text x="134.20" y="193.70" font-size="9.6" fill="#111" text-anchor="middle" font-weight="bold" dominant-baseline="central"  stroke="#111" stroke-width="0.35">3.0</text>
<line x1="148.35" y1="182.80" x2="148.35" y2="181.30" stroke="#444" stroke-width="0.7" />
<line x1="162.50" y1="182.80" x2="162.50" y2="180.30" stroke="#444" stroke-width="0.9" />
<text x="162.50" y="193.70" font-size="9.6" fill="#111" text-anchor="middle" font-weight="bold" dominant-baseline="central"  stroke="#111" stroke-width="0.35">3.5</text>
<line x1="176.65" y1="182.80" x2="176.65" y2="181.30" stroke="#444" stroke-width="0.7" />
<line x1="190.80" y1="182.80" x2="190.80" y2="180.30" stroke="#444" stroke-width="0.9" />
<text x="190.80" y="193.70" font-size="9.6" fill="#111" text-anchor="middle" font-weight="bold" dominant-baseline="central"  stroke="#111" stroke-width="0.35">4.0</text>
<line x1="204.95" y1="182.80" x2="204.95" y2="181.30" stroke="#444" stroke-width="0.7" />
<line x1="219.10" y1="182.80" x2="219.10" y2="180.30" stroke="#444" stroke-width="0.9" />
<text x="219.10" y="193.70" font-size="9.6" fill="#111" text-anchor="middle" font-weight="bold" dominant-baseline="central"  stroke="#111" stroke-width="0.35">4.5</text>
<line x1="233.25" y1="182.80" x2="233.25" y2="181.30" stroke="#444" stroke-width="0.7" />
<line x1="247.40" y1="182.80" x2="247.40" y2="180.30" stroke="#444" stroke-width="0.9" />
<text x="247.40" y="193.70" font-size="9.6" fill="#111" text-anchor="middle" font-weight="bold" dominant-baseline="central"  stroke="#111" stroke-width="0.35">5.0</text>
<text x="148.50" y="211.80" font-size="13.4" fill="#111" text-anchor="middle" font-weight="bold" dominant-baseline="central"  stroke="#111" stroke-width="0.45">Frequency(GHz)</text>
<text x="21.90" y="102.80" font-size="13.3" fill="#111" text-anchor="middle" font-weight="bold" transform="rotate(-90 21.90 102.80)" dominant-baseline="central"  stroke="#111" stroke-width="0.45">S-Parameter(dB)</text>
<rect x="65.00" y="23.30" width="182.40" height="19.10" stroke="#aaa" stroke-width="0.6" fill="none" />
<line x1="66.00" y1="29.20" x2="81.50" y2="29.20" stroke="#3f76a3" stroke-width="1.5" />
<text x="83.50" y="29.50" font-size="6.3" fill="#111" text-anchor="start" font-weight="bold" dominant-baseline="central"  stroke="#111" stroke-width="0.18">Bare</text>
<line x1="111.00" y1="29.20" x2="126.50" y2="29.20" stroke="#ee4f5d" stroke-width="1.5" />
<text x="128.50" y="29.50" font-size="6.3" fill="#111" text-anchor="start" font-weight="bold" dominant-baseline="central"  stroke="#111" stroke-width="0.18">BSA</text>
<line x1="156.00" y1="29.20" x2="171.50" y2="29.20" stroke="#3b84d8" stroke-width="1.5" />
<text x="173.50" y="29.50" font-size="6.3" fill="#111" text-anchor="start" font-weight="bold" dominant-baseline="central"  stroke="#111" stroke-width="0.18">1×10<tspan dy="-2.5" font-size="4">5</tspan><tspan dy="2.5">/mL</tspan></text>
<line x1="203.00" y1="29.20" x2="218.50" y2="29.20" stroke="#33a97a" stroke-width="1.5" />
<text x="220.50" y="29.50" font-size="6.3" fill="#111" text-anchor="start" font-weight="bold" dominant-baseline="central"  stroke="#111" stroke-width="0.18">2×10<tspan dy="-2.5" font-size="4">5</tspan><tspan dy="2.5">/mL</tspan></text>
<line x1="66.00" y1="37.80" x2="81.50" y2="37.80" stroke="#5b2585" stroke-width="1.5" />
<text x="83.50" y="38.10" font-size="6.3" fill="#111" text-anchor="start" font-weight="bold" dominant-baseline="central"  stroke="#111" stroke-width="0.18">3×10<tspan dy="-2.5" font-size="4">5</tspan><tspan dy="2.5">/mL</tspan></text>
<line x1="111.00" y1="37.80" x2="126.50" y2="37.80" stroke="#f39a2b" stroke-width="1.5" />
<text x="128.50" y="38.10" font-size="6.3" fill="#111" text-anchor="start" font-weight="bold" dominant-baseline="central"  stroke="#111" stroke-width="0.18">4×10<tspan dy="-2.5" font-size="4">5</tspan><tspan dy="2.5">/mL</tspan></text>
<line x1="156.00" y1="37.80" x2="171.50" y2="37.80" stroke="#2ac5cc" stroke-width="1.5" />
<text x="173.50" y="38.10" font-size="6.3" fill="#111" text-anchor="start" font-weight="bold" dominant-baseline="central"  stroke="#111" stroke-width="0.18">5×10<tspan dy="-2.5" font-size="4">5</tspan><tspan dy="2.5">/mL</tspan></text>
<text x="142.30" y="52.30" font-size="9.4" fill="#4a78c8" text-anchor="start" font-weight="bold" dominant-baseline="central"  stroke="#4a78c8" stroke-width="0.35">Shift in resonance due to</text>
<text x="142.30" y="63.80" font-size="9.4" fill="#4a78c8" text-anchor="start" font-weight="bold" dominant-baseline="central"  stroke="#4a78c8" stroke-width="0.35">increasing concentration</text>
<text x="55.00" y="142.30" font-size="9.1" fill="#f0952c" text-anchor="start" font-weight="bold" dominant-baseline="central"  stroke="#f0952c" stroke-width="0.35">Resonator-1</text>
<text x="97.50" y="162.60" font-size="9.1" fill="#3db581" text-anchor="start" font-weight="bold" dominant-baseline="central"  stroke="#3db581" stroke-width="0.35">Resonator-2</text>
<text x="176.40" y="172.50" font-size="9.1" fill="#4a7fa9" text-anchor="start" font-weight="bold" dominant-baseline="central"  stroke="#4a7fa9" stroke-width="0.35">Resonator-3</text>
<text x="173.60" y="84.70" font-size="9.3" fill="#5e2b86" text-anchor="start" font-weight="bold" dominant-baseline="central"  stroke="#5e2b86" stroke-width="0.35">Resonator-4</text>
<ellipse cx="82.8" cy="118.6" rx="11" ry="7.2" fill="none" stroke="#f0952c" stroke-width="1.5" stroke-dasharray="3 2.2"/>
<ellipse cx="121.2" cy="119.1" rx="10.5" ry="7.5" fill="none" stroke="#3db581" stroke-width="1.5" stroke-dasharray="3 2.2"/>
<ellipse cx="158.6" cy="133.8" rx="11.6" ry="8.5" fill="none" stroke="#4a7fa9" stroke-width="1.5" stroke-dasharray="3 2.2"/>
<ellipse cx="197.6" cy="108" rx="11.5" ry="8.2" fill="none" stroke="#5e2b86" stroke-width="1.5" stroke-dasharray="3 2.2"/>
<line x1="82.50" y1="126.00" x2="82.50" y2="222.00" stroke="#f0952c" stroke-width="1.7" stroke-dasharray="3.8 2.4" />
<line x1="121.90" y1="127.50" x2="222.50" y2="226.30" stroke="#3db581" stroke-width="1.7" stroke-dasharray="3.8 2.4" />
<line x1="164.40" y1="142.30" x2="347.00" y2="225.60" stroke="#4a7fa9" stroke-width="1.7" stroke-dasharray="3.8 2.4" />
<line x1="189.50" y1="115.20" x2="476.40" y2="225.50" stroke="#5e2b86" stroke-width="1.7" stroke-dasharray="3.8 2.4" />
<path d="M82.50,225.50 L80.30,222.00 L84.70,222.00 Z" fill="#f0952c"/>
<path d="M222.80,226.70 L218.76,225.82 L221.85,222.68 Z" fill="#3db581"/>
<path d="M347.00,225.60 L342.90,226.15 L344.73,222.15 Z" fill="#4a7fa9"/>
<path d="M476.40,225.50 L472.34,226.30 L473.92,222.19 Z" fill="#5e2b86"/>
<text x="279.00" y="21.90" font-size="12.6" fill="#111" text-anchor="start" font-weight="bold" dominant-baseline="central"  stroke="#111" stroke-width="0.45">b</text>
<line x1="309.00" y1="24.30" x2="506.60" y2="24.30" stroke="#222" stroke-width="1.1" />
<line x1="309.00" y1="183.00" x2="506.60" y2="183.00" stroke="#222" stroke-width="1.1" />
<line x1="309.00" y1="24.30" x2="309.00" y2="183.00" stroke="#f0952c" stroke-width="1.1" />
<line x1="372.60" y1="24.30" x2="372.60" y2="183.00" stroke="#3db581" stroke-width="1.1" />
<line x1="440.50" y1="24.30" x2="440.50" y2="183.00" stroke="#4a7fa9" stroke-width="1.1" />
<line x1="506.60" y1="24.30" x2="506.60" y2="183.00" stroke="#5e2b86" stroke-width="1.1" />
<line x1="306.00" y1="24.30" x2="309.00" y2="24.30" stroke="#f0952c" stroke-width="0.9" />
<text x="304.20" y="24.50" font-size="8.2" fill="#f0952c" text-anchor="end" font-weight="bold" dominant-baseline="central"  stroke="#f0952c" stroke-width="0.35">2.16</text>
<line x1="307.20" y1="35.63" x2="309.00" y2="35.63" stroke="#f0952c" stroke-width="0.7" />
<line x1="306.00" y1="46.97" x2="309.00" y2="46.97" stroke="#f0952c" stroke-width="0.9" />
<text x="304.20" y="47.17" font-size="8.2" fill="#f0952c" text-anchor="end" font-weight="bold" dominant-baseline="central"  stroke="#f0952c" stroke-width="0.35">2.14</text>
<line x1="307.20" y1="58.30" x2="309.00" y2="58.30" stroke="#f0952c" stroke-width="0.7" />
<line x1="306.00" y1="69.64" x2="309.00" y2="69.64" stroke="#f0952c" stroke-width="0.9" />
<text x="304.20" y="69.84" font-size="8.2" fill="#f0952c" text-anchor="end" font-weight="bold" dominant-baseline="central"  stroke="#f0952c" stroke-width="0.35">2.12</text>
<line x1="307.20" y1="80.97" x2="309.00" y2="80.97" stroke="#f0952c" stroke-width="0.7" />
<line x1="306.00" y1="92.31" x2="309.00" y2="92.31" stroke="#f0952c" stroke-width="0.9" />
<text x="304.20" y="92.51" font-size="8.2" fill="#f0952c" text-anchor="end" font-weight="bold" dominant-baseline="central"  stroke="#f0952c" stroke-width="0.35">2.10</text>
<line x1="307.20" y1="103.64" x2="309.00" y2="103.64" stroke="#f0952c" stroke-width="0.7" />
<line x1="306.00" y1="114.98" x2="309.00" y2="114.98" stroke="#f0952c" stroke-width="0.9" />
<text x="304.20" y="115.18" font-size="8.2" fill="#f0952c" text-anchor="end" font-weight="bold" dominant-baseline="central"  stroke="#f0952c" stroke-width="0.35">2.08</text>
<line x1="307.20" y1="126.31" x2="309.00" y2="126.31" stroke="#f0952c" stroke-width="0.7" />
<line x1="306.00" y1="137.65" x2="309.00" y2="137.65" stroke="#f0952c" stroke-width="0.9" />
<text x="304.20" y="137.85" font-size="8.2" fill="#f0952c" text-anchor="end" font-weight="bold" dominant-baseline="central"  stroke="#f0952c" stroke-width="0.35">2.06</text>
<line x1="307.20" y1="148.98" x2="309.00" y2="148.98" stroke="#f0952c" stroke-width="0.7" />
<line x1="306.00" y1="160.32" x2="309.00" y2="160.32" stroke="#f0952c" stroke-width="0.9" />
<text x="304.20" y="160.52" font-size="8.2" fill="#f0952c" text-anchor="end" font-weight="bold" dominant-baseline="central"  stroke="#f0952c" stroke-width="0.35">2.04</text>
<line x1="307.20" y1="171.65" x2="309.00" y2="171.65" stroke="#f0952c" stroke-width="0.7" />
<line x1="306.00" y1="182.99" x2="309.00" y2="182.99" stroke="#f0952c" stroke-width="0.9" />
<text x="304.20" y="183.19" font-size="8.2" fill="#f0952c" text-anchor="end" font-weight="bold" dominant-baseline="central"  stroke="#f0952c" stroke-width="0.35">2.02</text>
<line x1="369.60" y1="24.00" x2="372.60" y2="24.00" stroke="#3db581" stroke-width="0.9" />
<text x="368.30" y="24.20" font-size="8.2" fill="#3db581" text-anchor="end" font-weight="bold" dominant-baseline="central"  stroke="#3db581" stroke-width="0.35">2.79</text>
<line x1="369.60" y1="46.00" x2="372.60" y2="46.00" stroke="#3db581" stroke-width="0.9" />
<text x="368.30" y="46.20" font-size="8.2" fill="#3db581" text-anchor="end" font-weight="bold" dominant-baseline="central"  stroke="#3db581" stroke-width="0.35">2.78</text>
<line x1="369.60" y1="98.50" x2="372.60" y2="98.50" stroke="#3db581" stroke-width="0.9" />
<text x="368.30" y="98.70" font-size="8.2" fill="#3db581" text-anchor="end" font-weight="bold" dominant-baseline="central"  stroke="#3db581" stroke-width="0.35">2.76</text>
<line x1="369.60" y1="152.20" x2="372.60" y2="152.20" stroke="#3db581" stroke-width="0.9" />
<text x="368.30" y="152.40" font-size="8.2" fill="#3db581" text-anchor="end" font-weight="bold" dominant-baseline="central"  stroke="#3db581" stroke-width="0.35">2.74</text>
<line x1="369.60" y1="183.00" x2="372.60" y2="183.00" stroke="#3db581" stroke-width="0.9" />
<text x="368.30" y="183.20" font-size="8.2" fill="#3db581" text-anchor="end" font-weight="bold" dominant-baseline="central"  stroke="#3db581" stroke-width="0.35">2.73</text>
<line x1="370.80" y1="72.30" x2="372.60" y2="72.30" stroke="#3db581" stroke-width="0.7" />
<line x1="370.80" y1="125.40" x2="372.60" y2="125.40" stroke="#3db581" stroke-width="0.7" />
<line x1="437.50" y1="24.30" x2="440.50" y2="24.30" stroke="#4a7fa9" stroke-width="0.9" />
<text x="436.30" y="24.50" font-size="8.2" fill="#4a7fa9" text-anchor="end" font-weight="bold" dominant-baseline="central"  stroke="#4a7fa9" stroke-width="0.35">3.45</text>
<line x1="438.70" y1="44.10" x2="440.50" y2="44.10" stroke="#4a7fa9" stroke-width="0.7" />
<line x1="437.50" y1="63.97" x2="440.50" y2="63.97" stroke="#4a7fa9" stroke-width="0.9" />
<text x="436.30" y="64.17" font-size="8.2" fill="#4a7fa9" text-anchor="end" font-weight="bold" dominant-baseline="central"  stroke="#4a7fa9" stroke-width="0.35">3.40</text>
<line x1="438.70" y1="83.77" x2="440.50" y2="83.77" stroke="#4a7fa9" stroke-width="0.7" />
<line x1="437.50" y1="103.64" x2="440.50" y2="103.64" stroke="#4a7fa9" stroke-width="0.9" />
<text x="436.30" y="103.84" font-size="8.2" fill="#4a7fa9" text-anchor="end" font-weight="bold" dominant-baseline="central"  stroke="#4a7fa9" stroke-width="0.35">3.35</text>
<line x1="438.70" y1="123.44" x2="440.50" y2="123.44" stroke="#4a7fa9" stroke-width="0.7" />
<line x1="437.50" y1="143.31" x2="440.50" y2="143.31" stroke="#4a7fa9" stroke-width="0.9" />
<text x="436.30" y="143.51" font-size="8.2" fill="#4a7fa9" text-anchor="end" font-weight="bold" dominant-baseline="central"  stroke="#4a7fa9" stroke-width="0.35">3.30</text>
<line x1="438.70" y1="163.11" x2="440.50" y2="163.11" stroke="#4a7fa9" stroke-width="0.7" />
<line x1="437.50" y1="182.98" x2="440.50" y2="182.98" stroke="#4a7fa9" stroke-width="0.9" />
<text x="436.30" y="183.18" font-size="8.2" fill="#4a7fa9" text-anchor="end" font-weight="bold" dominant-baseline="central"  stroke="#4a7fa9" stroke-width="0.35">3.25</text>
<line x1="506.60" y1="24.30" x2="509.60" y2="24.30" stroke="#5e2b86" stroke-width="0.9" />
<text x="509.00" y="24.50" font-size="8.2" fill="#5e2b86" text-anchor="start" font-weight="bold" dominant-baseline="central"  stroke="#5e2b86" stroke-width="0.35">4.3</text>
<line x1="506.60" y1="38.73" x2="509.60" y2="38.73" stroke="#5e2b86" stroke-width="0.9" />
<text x="509.00" y="38.93" font-size="8.2" fill="#5e2b86" text-anchor="start" font-weight="bold" dominant-baseline="central"  stroke="#5e2b86" stroke-width="0.35">4.2</text>
<line x1="506.60" y1="67.59" x2="509.60" y2="67.59" stroke="#5e2b86" stroke-width="0.9" />
<text x="509.00" y="67.79" font-size="8.2" fill="#5e2b86" text-anchor="start" font-weight="bold" dominant-baseline="central"  stroke="#5e2b86" stroke-width="0.35">4.0</text>
<line x1="506.60" y1="96.45" x2="509.60" y2="96.45" stroke="#5e2b86" stroke-width="0.9" />
<text x="509.00" y="96.65" font-size="8.2" fill="#5e2b86" text-anchor="start" font-weight="bold" dominant-baseline="central"  stroke="#5e2b86" stroke-width="0.35">3.8</text>
<line x1="506.60" y1="125.31" x2="509.60" y2="125.31" stroke="#5e2b86" stroke-width="0.9" />
<text x="509.00" y="125.51" font-size="8.2" fill="#5e2b86" text-anchor="start" font-weight="bold" dominant-baseline="central"  stroke="#5e2b86" stroke-width="0.35">3.6</text>
<line x1="506.60" y1="154.17" x2="509.60" y2="154.17" stroke="#5e2b86" stroke-width="0.9" />
<text x="509.00" y="154.37" font-size="8.2" fill="#5e2b86" text-anchor="start" font-weight="bold" dominant-baseline="central"  stroke="#5e2b86" stroke-width="0.35">3.4</text>
<line x1="506.60" y1="183.03" x2="509.60" y2="183.03" stroke="#5e2b86" stroke-width="0.9" />
<text x="509.00" y="183.23" font-size="8.2" fill="#5e2b86" text-anchor="start" font-weight="bold" dominant-baseline="central"  stroke="#5e2b86" stroke-width="0.35">3.2</text>
<line x1="506.60" y1="53.16" x2="508.40" y2="53.16" stroke="#5e2b86" stroke-width="0.7" />
<line x1="506.60" y1="82.02" x2="508.40" y2="82.02" stroke="#5e2b86" stroke-width="0.7" />
<line x1="506.60" y1="110.88" x2="508.40" y2="110.88" stroke="#5e2b86" stroke-width="0.7" />
<line x1="506.60" y1="139.74" x2="508.40" y2="139.74" stroke="#5e2b86" stroke-width="0.7" />
<line x1="506.60" y1="168.60" x2="508.40" y2="168.60" stroke="#5e2b86" stroke-width="0.7" />
<line x1="328.50" y1="183.00" x2="328.50" y2="186.00" stroke="#222" stroke-width="0.9" />
<text x="328.50" y="193.50" font-size="9.6" fill="#111" text-anchor="middle" font-weight="bold" dominant-baseline="central"  stroke="#111" stroke-width="0.35">1</text>
<line x1="367.90" y1="183.00" x2="367.90" y2="186.00" stroke="#222" stroke-width="0.9" />
<text x="367.90" y="193.50" font-size="9.6" fill="#111" text-anchor="middle" font-weight="bold" dominant-baseline="central"  stroke="#111" stroke-width="0.35">2</text>
<line x1="407.30" y1="183.00" x2="407.30" y2="186.00" stroke="#222" stroke-width="0.9" />
<text x="407.30" y="193.50" font-size="9.6" fill="#111" text-anchor="middle" font-weight="bold" dominant-baseline="central"  stroke="#111" stroke-width="0.35">3</text>
<line x1="446.70" y1="183.00" x2="446.70" y2="186.00" stroke="#222" stroke-width="0.9" />
<text x="446.70" y="193.50" font-size="9.6" fill="#111" text-anchor="middle" font-weight="bold" dominant-baseline="central"  stroke="#111" stroke-width="0.35">4</text>
<line x1="486.10" y1="183.00" x2="486.10" y2="186.00" stroke="#222" stroke-width="0.9" />
<text x="486.10" y="193.50" font-size="9.6" fill="#111" text-anchor="middle" font-weight="bold" dominant-baseline="central"  stroke="#111" stroke-width="0.35">5</text>
<line x1="348.20" y1="183.00" x2="348.20" y2="184.80" stroke="#222" stroke-width="0.7" />
<line x1="387.60" y1="183.00" x2="387.60" y2="184.80" stroke="#222" stroke-width="0.7" />
<line x1="427.00" y1="183.00" x2="427.00" y2="184.80" stroke="#222" stroke-width="0.7" />
<line x1="466.40" y1="183.00" x2="466.40" y2="184.80" stroke="#222" stroke-width="0.7" />
<line x1="505.80" y1="183.00" x2="505.80" y2="184.80" stroke="#222" stroke-width="0.7" />
<text x="407.50" y="207.80" font-size="13.3" fill="#111" text-anchor="middle" font-weight="bold" dominant-baseline="central"  stroke="#111" stroke-width="0.45">Concentration(×10<tspan dy="-5" font-size="8.5">5</tspan><tspan dy="5">/mL)</tspan></text>
<text x="281.00" y="103.50" font-size="13.4" fill="#111" text-anchor="middle" font-weight="bold" transform="rotate(-90 281.00 103.50)" dominant-baseline="central"  stroke="#111" stroke-width="0.45">Frequency(GHz)</text>
<text x="530.80" y="99.50" font-size="13.6" fill="#111" text-anchor="middle" font-weight="bold" transform="rotate(-90 530.80 99.50)" dominant-baseline="central"  stroke="#111" stroke-width="0.45">Frequency(GHz)</text>
<line x1="328.50" y1="49.76" x2="486.10" y2="64.96" stroke="#5e2b86" stroke-width="1.1" />
<line x1="328.50" y1="55.10" x2="486.10" y2="90.82" stroke="#4a7fa9" stroke-width="1.1" />
<line x1="328.50" y1="73.40" x2="486.10" y2="110.24" stroke="#3db581" stroke-width="1.1" />
<line x1="328.50" y1="97.25" x2="486.10" y2="123.62" stroke="#f0952c" stroke-width="1.1" />
<line x1="328.50" y1="43.60" x2="328.50" y2="49.60" stroke="#cfcfcf" stroke-width="0.6" />
<line x1="367.90" y1="51.60" x2="367.90" y2="61.60" stroke="#cfcfcf" stroke-width="0.6" />
<line x1="407.30" y1="55.10" x2="407.30" y2="63.10" stroke="#cfcfcf" stroke-width="0.6" />
<line x1="446.70" y1="58.20" x2="446.70" y2="64.20" stroke="#cfcfcf" stroke-width="0.6" />
<line x1="486.10" y1="60.30" x2="486.10" y2="66.30" stroke="#cfcfcf" stroke-width="0.6" />
<line x1="328.50" y1="51.30" x2="328.50" y2="57.30" stroke="#cfcfcf" stroke-width="0.6" />
<line x1="367.90" y1="58.80" x2="367.90" y2="68.80" stroke="#cfcfcf" stroke-width="0.6" />
<line x1="407.30" y1="71.80" x2="407.30" y2="79.80" stroke="#cfcfcf" stroke-width="0.6" />
<line x1="446.70" y1="77.10" x2="446.70" y2="83.10" stroke="#cfcfcf" stroke-width="0.6" />
<line x1="486.10" y1="87.80" x2="486.10" y2="93.80" stroke="#cfcfcf" stroke-width="0.6" />
<line x1="328.50" y1="69.00" x2="328.50" y2="75.00" stroke="#cfcfcf" stroke-width="0.6" />
<line x1="367.90" y1="78.90" x2="367.90" y2="88.90" stroke="#cfcfcf" stroke-width="0.6" />
<line x1="407.30" y1="90.20" x2="407.30" y2="98.20" stroke="#cfcfcf" stroke-width="0.6" />
<line x1="446.70" y1="95.00" x2="446.70" y2="101.00" stroke="#cfcfcf" stroke-width="0.6" />
<line x1="486.10" y1="108.00" x2="486.10" y2="114.00" stroke="#cfcfcf" stroke-width="0.6" />
<line x1="328.50" y1="87.40" x2="328.50" y2="93.40" stroke="#cfcfcf" stroke-width="0.6" />
<line x1="367.90" y1="98.30" x2="367.90" y2="108.30" stroke="#cfcfcf" stroke-width="0.6" />
<line x1="407.30" y1="109.60" x2="407.30" y2="117.60" stroke="#cfcfcf" stroke-width="0.6" />
<line x1="446.70" y1="115.10" x2="446.70" y2="121.10" stroke="#cfcfcf" stroke-width="0.6" />
<line x1="486.10" y1="120.80" x2="486.10" y2="126.80" stroke="#cfcfcf" stroke-width="0.6" />
<rect x="326.70" y="44.80" width="3.60" height="3.60" stroke="none" stroke-width="0" fill="#5e2b86" />
<rect x="366.10" y="54.80" width="3.60" height="3.60" stroke="none" stroke-width="0" fill="#5e2b86" />
<rect x="405.50" y="57.30" width="3.60" height="3.60" stroke="none" stroke-width="0" fill="#5e2b86" />
<rect x="444.90" y="59.40" width="3.60" height="3.60" stroke="none" stroke-width="0" fill="#5e2b86" />
<rect x="484.30" y="61.50" width="3.60" height="3.60" stroke="none" stroke-width="0" fill="#5e2b86" />
<circle cx="328.50" cy="54.30" r="2.0" fill="#4a7fa9"/>
<circle cx="367.90" cy="63.80" r="2.0" fill="#4a7fa9"/>
<circle cx="407.30" cy="75.80" r="2.0" fill="#4a7fa9"/>
<circle cx="446.70" cy="80.10" r="2.0" fill="#4a7fa9"/>
<circle cx="486.10" cy="90.80" r="2.0" fill="#4a7fa9"/>
<path d="M328.50,69.40 L331.00,73.80 L326.00,73.80 Z" fill="#3db581"/>
<path d="M367.90,81.30 L370.40,85.70 L365.40,85.70 Z" fill="#3db581"/>
<path d="M407.30,91.60 L409.80,96.00 L404.80,96.00 Z" fill="#3db581"/>
<path d="M446.70,95.40 L449.20,99.80 L444.20,99.80 Z" fill="#3db581"/>
<path d="M486.10,108.40 L488.60,112.80 L483.60,112.80 Z" fill="#3db581"/>
<circle cx="328.50" cy="90.40" r="2.0" fill="#f0952c"/>
<circle cx="367.90" cy="103.30" r="2.0" fill="#f0952c"/>
<circle cx="407.30" cy="113.60" r="2.0" fill="#f0952c"/>
<circle cx="446.70" cy="118.10" r="2.0" fill="#f0952c"/>
<circle cx="486.10" cy="123.80" r="2.0" fill="#f0952c"/>
<text x="376.40" y="37.30" font-size="7.2" fill="#4a7fa9" text-anchor="start" font-weight="bold" dominant-baseline="central"  stroke="#4a7fa9" stroke-width="0.18">y=3.422-1.103×10<tspan dy="-2.6" font-size="4.6">-2</tspan><tspan dy="2.6">x</tspan></text>
<text x="376.40" y="47.50" font-size="7.2" fill="#4a7fa9" text-anchor="start" font-weight="bold" dominant-baseline="central"  stroke="#4a7fa9" stroke-width="0.18">R<tspan dy="-2.6" font-size="4.6">2</tspan><tspan dy="2.6">=0.966</tspan></text>
<text x="441.50" y="44.00" font-size="7.2" fill="#5e2b86" text-anchor="start" font-weight="bold" dominant-baseline="central"  stroke="#5e2b86" stroke-width="0.18">y=4.158-2.548×10<tspan dy="-2.6" font-size="4.6">-2</tspan><tspan dy="2.6">x</tspan></text>
<text x="441.50" y="54.30" font-size="7.2" fill="#5e2b86" text-anchor="start" font-weight="bold" dominant-baseline="central"  stroke="#5e2b86" stroke-width="0.18">R<tspan dy="-2.6" font-size="4.6">2</tspan><tspan dy="2.6">=0.91</tspan></text>
<text x="311.00" y="111.80" font-size="7.2" fill="#f0952c" text-anchor="start" font-weight="bold" dominant-baseline="central"  stroke="#f0952c" stroke-width="0.18">y=2.102-6.25×10<tspan dy="-2.6" font-size="4.6">-3</tspan><tspan dy="2.6">x</tspan></text>
<text x="311.00" y="122.30" font-size="7.2" fill="#f0952c" text-anchor="start" font-weight="bold" dominant-baseline="central"  stroke="#f0952c" stroke-width="0.18">R<tspan dy="-2.6" font-size="4.6">2</tspan><tspan dy="2.6">=0.958</tspan></text>
<text x="375.50" y="129.60" font-size="7.2" fill="#3db581" text-anchor="start" font-weight="bold" dominant-baseline="central"  stroke="#3db581" stroke-width="0.18">y=2.773-3.358×10<tspan dy="-2.6" font-size="4.6">-3</tspan><tspan dy="2.6">x</tspan></text>
<text x="375.50" y="139.30" font-size="7.2" fill="#3db581" text-anchor="start" font-weight="bold" dominant-baseline="central"  stroke="#3db581" stroke-width="0.18">R<tspan dy="-2.6" font-size="4.6">2</tspan><tspan dy="2.6">=0.933</tspan></text>
<text x="450.00" y="70.80" font-size="9.3" fill="#5e2b86" text-anchor="start" font-weight="bold" dominant-baseline="central"  stroke="#5e2b86" stroke-width="0.35">Resonator-4</text>
<text x="452.90" y="96.80" font-size="9.3" fill="#4a7fa9" text-anchor="start" font-weight="bold" dominant-baseline="central"  stroke="#4a7fa9" stroke-width="0.35">Resonator-3</text>
<text x="452.90" y="116.90" font-size="9.3" fill="#3db581" text-anchor="start" font-weight="bold" dominant-baseline="central"  stroke="#3db581" stroke-width="0.35">Resonator-2</text>
<text x="451.60" y="133.70" font-size="9.3" fill="#f0952c" text-anchor="start" font-weight="bold" dominant-baseline="central"  stroke="#f0952c" stroke-width="0.35">Resonator-1</text>
<rect x="451.60" y="141.80" width="51.50" height="38.20" stroke="#999" stroke-width="0.6" fill="#fff" />
<rect x="455.90" y="145.00" width="3.20" height="3.20" stroke="none" stroke-width="0" fill="#5e2b86" />
<text x="464.50" y="146.80" font-size="6.6" fill="#222" text-anchor="start" font-weight="bold" dominant-baseline="central"  stroke="#222" stroke-width="0.18">Resonator_4</text>
<circle cx="457.50" cy="156.40" r="1.8" fill="#4a7fa9"/>
<text x="464.50" y="156.60" font-size="6.6" fill="#222" text-anchor="start" font-weight="bold" dominant-baseline="central"  stroke="#222" stroke-width="0.18">Resonator_3</text>
<path d="M457.50,163.80 L459.50,167.40 L455.50,167.40 Z" fill="#3db581"/>
<text x="464.50" y="166.10" font-size="6.6" fill="#222" text-anchor="start" font-weight="bold" dominant-baseline="central"  stroke="#222" stroke-width="0.18">Resonator_2</text>
<path d="M457.50,173.20 L459.60,175.30 L457.50,177.40 L455.40,175.30 Z" fill="#f0952c"/>
<text x="464.50" y="175.50" font-size="6.6" fill="#222" text-anchor="start" font-weight="bold" dominant-baseline="central"  stroke="#222" stroke-width="0.18">Resonator_1</text>
<text x="7.80" y="220.20" font-size="12.0" fill="#111" text-anchor="start" font-weight="bold" dominant-baseline="central"  stroke="#111" stroke-width="0.45">c</text>
<clipPath id="clipC32"><rect x="32.60" y="228.00" width="105.10" height="85.60"/></clipPath>
<rect x="61.00" y="228.00" width="76.70" height="23.00" stroke="#c8c8c8" stroke-width="0.5" fill="#fff" />
<g clip-path="url(#clipC32)">
<path d="M32.60,240.23 L33.48,241.16 L34.37,242.10 L35.25,243.06 L36.13,244.04 L37.02,245.02 L37.90,246.02 L38.78,247.02 L39.67,248.04 L40.55,249.06 L41.43,250.09 L42.32,251.13 L43.20,252.18 L44.08,253.22 L44.96,254.28 L45.85,255.33 L46.73,256.39 L47.61,257.44 L48.50,258.50 L49.38,259.56 L50.26,260.61 L51.15,261.66 L52.03,262.71 L52.91,263.75 L53.80,264.79 L54.68,265.82 L55.56,266.84 L56.45,267.85 L57.33,268.86 L58.21,269.85 L59.10,270.83 L59.98,271.80 L60.86,272.76 L61.75,273.70 L62.63,274.63 L63.51,275.54 L64.39,276.43 L65.28,277.30 L66.16,278.16 L67.04,278.99 L67.93,279.81 L68.81,280.60 L69.69,281.37 L70.58,282.11 L71.46,282.84 L72.34,283.53 L73.23,284.20 L74.11,284.84 L74.99,285.45 L75.88,286.03 L76.76,286.58 L77.64,287.11 L78.53,287.59 L79.41,288.05 L80.29,288.47 L81.18,288.85 L82.06,289.20 L82.94,289.51 L83.83,289.79 L84.71,290.02 L85.59,290.21 L86.47,290.37 L87.36,290.48 L88.24,290.55 L89.12,290.58 L90.01,290.57 L90.89,290.53 L91.77,290.45 L92.66,290.34 L93.54,290.19 L94.42,290.01 L95.31,289.80 L96.19,289.56 L97.07,289.29 L97.96,288.99 L98.84,288.67 L99.72,288.32 L100.61,287.95 L101.49,287.56 L102.37,287.15 L103.26,286.71 L104.14,286.26 L105.02,285.79 L105.91,285.30 L106.79,284.80 L107.67,284.28 L108.55,283.75 L109.44,283.21 L110.32,282.66 L111.20,282.10 L112.09,281.53 L112.97,280.96 L113.85,280.38 L114.74,279.80 L115.62,279.21 L116.50,278.62 L117.39,278.03 L118.27,277.44 L119.15,276.86 L120.04,276.27 L120.92,275.69 L121.80,275.12 L122.69,274.55 L123.57,273.99 L124.45,273.44 L125.34,272.91 L126.22,272.38 L127.10,271.86 L127.98,271.36 L128.87,270.88 L129.75,270.41 L130.63,269.96 L131.52,269.52 L132.40,269.11 L133.28,268.72 L134.17,268.35 L135.05,268.01 L135.93,267.69 L136.82,267.40 L137.70,267.13" fill="none" stroke="#3b84d8" stroke-width="1.6" stroke-dasharray="2.4 0.9" stroke-linejoin="round" stroke-linecap="butt" />
<path d="M32.60,248.18 L33.48,249.14 L34.37,250.11 L35.25,251.09 L36.13,252.09 L37.02,253.09 L37.90,254.10 L38.78,255.11 L39.67,256.14 L40.55,257.16 L41.43,258.19 L42.32,259.23 L43.20,260.26 L44.08,261.30 L44.96,262.34 L45.85,263.37 L46.73,264.40 L47.61,265.43 L48.50,266.46 L49.38,267.48 L50.26,268.50 L51.15,269.51 L52.03,270.51 L52.91,271.50 L53.80,272.48 L54.68,273.46 L55.56,274.42 L56.45,275.36 L57.33,276.30 L58.21,277.22 L59.10,278.12 L59.98,279.01 L60.86,279.88 L61.75,280.73 L62.63,281.56 L63.51,282.37 L64.39,283.16 L65.28,283.93 L66.16,284.67 L67.04,285.39 L67.93,286.09 L68.81,286.76 L69.69,287.40 L70.58,288.01 L71.46,288.59 L72.34,289.15 L73.23,289.67 L74.11,290.16 L74.99,290.62 L75.88,291.04 L76.76,291.43 L77.64,291.78 L78.53,292.09 L79.41,292.37 L80.29,292.61 L81.18,292.80 L82.06,292.96 L82.94,293.08 L83.83,293.16 L84.71,293.20 L85.59,293.20 L86.47,293.17 L87.36,293.11 L88.24,293.01 L89.12,292.88 L90.01,292.72 L90.89,292.53 L91.77,292.31 L92.66,292.06 L93.54,291.78 L94.42,291.48 L95.31,291.16 L96.19,290.81 L97.07,290.44 L97.96,290.05 L98.84,289.63 L99.72,289.20 L100.61,288.75 L101.49,288.29 L102.37,287.81 L103.26,287.31 L104.14,286.80 L105.02,286.28 L105.91,285.75 L106.79,285.21 L107.67,284.65 L108.55,284.10 L109.44,283.53 L110.32,282.96 L111.20,282.38 L112.09,281.80 L112.97,281.22 L113.85,280.63 L114.74,280.05 L115.62,279.46 L116.50,278.88 L117.39,278.30 L118.27,277.73 L119.15,277.16 L120.04,276.59 L120.92,276.04 L121.80,275.49 L122.69,274.95 L123.57,274.43 L124.45,273.91 L125.34,273.41 L126.22,272.92 L127.10,272.45 L127.98,271.99 L128.87,271.55 L129.75,271.13 L130.63,270.73 L131.52,270.35 L132.40,269.99 L133.28,269.65 L134.17,269.34 L135.05,269.05 L135.93,268.79 L136.82,268.56 L137.70,268.35" fill="none" stroke="#33a97a" stroke-width="1.6" stroke-dasharray="2.4 0.9" stroke-linejoin="round" stroke-linecap="butt" />
<path d="M32.60,253.07 L33.48,254.05 L34.37,255.05 L35.25,256.06 L36.13,257.07 L37.02,258.09 L37.90,259.12 L38.78,260.16 L39.67,261.20 L40.55,262.25 L41.43,263.29 L42.32,264.34 L43.20,265.39 L44.08,266.44 L44.96,267.49 L45.85,268.54 L46.73,269.58 L47.61,270.62 L48.50,271.65 L49.38,272.67 L50.26,273.69 L51.15,274.70 L52.03,275.70 L52.91,276.69 L53.80,277.66 L54.68,278.63 L55.56,279.58 L56.45,280.51 L57.33,281.43 L58.21,282.33 L59.10,283.21 L59.98,284.07 L60.86,284.91 L61.75,285.74 L62.63,286.53 L63.51,287.31 L64.39,288.06 L65.28,288.78 L66.16,289.48 L67.04,290.15 L67.93,290.79 L68.81,291.40 L69.69,291.98 L70.58,292.53 L71.46,293.05 L72.34,293.53 L73.23,293.98 L74.11,294.39 L74.99,294.76 L75.88,295.09 L76.76,295.39 L77.64,295.64 L78.53,295.86 L79.41,296.03 L80.29,296.16 L81.18,296.25 L82.06,296.30 L82.94,296.31 L83.83,296.28 L84.71,296.22 L85.59,296.12 L86.47,295.99 L87.36,295.83 L88.24,295.63 L89.12,295.41 L90.01,295.15 L90.89,294.87 L91.77,294.55 L92.66,294.22 L93.54,293.85 L94.42,293.47 L95.31,293.06 L96.19,292.62 L97.07,292.17 L97.96,291.70 L98.84,291.21 L99.72,290.70 L100.61,290.17 L101.49,289.63 L102.37,289.08 L103.26,288.51 L104.14,287.93 L105.02,287.34 L105.91,286.74 L106.79,286.13 L107.67,285.51 L108.55,284.89 L109.44,284.26 L110.32,283.62 L111.20,282.99 L112.09,282.35 L112.97,281.71 L113.85,281.07 L114.74,280.43 L115.62,279.79 L116.50,279.16 L117.39,278.53 L118.27,277.90 L119.15,277.28 L120.04,276.67 L120.92,276.07 L121.80,275.48 L122.69,274.90 L123.57,274.33 L124.45,273.77 L125.34,273.23 L126.22,272.70 L127.10,272.19 L127.98,271.70 L128.87,271.23 L129.75,270.77 L130.63,270.34 L131.52,269.93 L132.40,269.54 L133.28,269.17 L134.17,268.83 L135.05,268.52 L135.93,268.23 L136.82,267.97 L137.70,267.74" fill="none" stroke="#5b2585" stroke-width="1.6" stroke-dasharray="2.4 0.9" stroke-linejoin="round" stroke-linecap="butt" />
<path d="M32.60,259.79 L33.48,260.94 L34.37,262.09 L35.25,263.25 L36.13,264.42 L37.02,265.59 L37.90,266.77 L38.78,267.95 L39.67,269.13 L40.55,270.32 L41.43,271.50 L42.32,272.68 L43.20,273.86 L44.08,275.03 L44.96,276.20 L45.85,277.36 L46.73,278.51 L47.61,279.65 L48.50,280.78 L49.38,281.91 L50.26,283.01 L51.15,284.11 L52.03,285.19 L52.91,286.25 L53.80,287.30 L54.68,288.32 L55.56,289.33 L56.45,290.31 L57.33,291.27 L58.21,292.21 L59.10,293.13 L59.98,294.01 L60.86,294.87 L61.75,295.71 L62.63,296.51 L63.51,297.28 L64.39,298.01 L65.28,298.72 L66.16,299.39 L67.04,300.02 L67.93,300.62 L68.81,301.18 L69.69,301.70 L70.58,302.18 L71.46,302.61 L72.34,303.01 L73.23,303.35 L74.11,303.66 L74.99,303.91 L75.88,304.12 L76.76,304.29 L77.64,304.41 L78.53,304.48 L79.41,304.51 L80.29,304.50 L81.18,304.45 L82.06,304.37 L82.94,304.24 L83.83,304.08 L84.71,303.88 L85.59,303.65 L86.47,303.38 L87.36,303.08 L88.24,302.76 L89.12,302.40 L90.01,302.01 L90.89,301.60 L91.77,301.16 L92.66,300.69 L93.54,300.20 L94.42,299.69 L95.31,299.15 L96.19,298.60 L97.07,298.03 L97.96,297.43 L98.84,296.83 L99.72,296.20 L100.61,295.56 L101.49,294.91 L102.37,294.24 L103.26,293.57 L104.14,292.88 L105.02,292.19 L105.91,291.48 L106.79,290.77 L107.67,290.06 L108.55,289.34 L109.44,288.62 L110.32,287.89 L111.20,287.17 L112.09,286.44 L112.97,285.72 L113.85,285.00 L114.74,284.28 L115.62,283.57 L116.50,282.87 L117.39,282.17 L118.27,281.48 L119.15,280.80 L120.04,280.13 L120.92,279.47 L121.80,278.83 L122.69,278.20 L123.57,277.58 L124.45,276.99 L125.34,276.41 L126.22,275.85 L127.10,275.30 L127.98,274.78 L128.87,274.29 L129.75,273.81 L130.63,273.36 L131.52,272.94 L132.40,272.54 L133.28,272.18 L134.17,271.84 L135.05,271.53 L135.93,271.25 L136.82,271.01 L137.70,270.80" fill="none" stroke="#f39a2b" stroke-width="1.6" stroke-dasharray="2.4 0.9" stroke-linejoin="round" stroke-linecap="butt" />
<path d="M32.60,265.91 L33.48,266.95 L34.37,268.00 L35.25,269.05 L36.13,270.12 L37.02,271.19 L37.90,272.26 L38.78,273.34 L39.67,274.42 L40.55,275.51 L41.43,276.59 L42.32,277.67 L43.20,278.75 L44.08,279.83 L44.96,280.90 L45.85,281.97 L46.73,283.03 L47.61,284.08 L48.50,285.12 L49.38,286.15 L50.26,287.17 L51.15,288.18 L52.03,289.18 L52.91,290.16 L53.80,291.12 L54.68,292.07 L55.56,292.99 L56.45,293.90 L57.33,294.79 L58.21,295.65 L59.10,296.49 L59.98,297.31 L60.86,298.10 L61.75,298.87 L62.63,299.61 L63.51,300.31 L64.39,300.99 L65.28,301.64 L66.16,302.25 L67.04,302.83 L67.93,303.38 L68.81,303.89 L69.69,304.36 L70.58,304.79 L71.46,305.19 L72.34,305.54 L73.23,305.85 L74.11,306.12 L74.99,306.35 L75.88,306.53 L76.76,306.66 L77.64,306.76 L78.53,306.81 L79.41,306.82 L80.29,306.80 L81.18,306.73 L82.06,306.63 L82.94,306.50 L83.83,306.33 L84.71,306.12 L85.59,305.88 L86.47,305.61 L87.36,305.31 L88.24,304.99 L89.12,304.63 L90.01,304.24 L90.89,303.83 L91.77,303.40 L92.66,302.94 L93.54,302.46 L94.42,301.95 L95.31,301.43 L96.19,300.89 L97.07,300.32 L97.96,299.74 L98.84,299.15 L99.72,298.54 L100.61,297.91 L101.49,297.27 L102.37,296.62 L103.26,295.96 L104.14,295.29 L105.02,294.61 L105.91,293.92 L106.79,293.23 L107.67,292.53 L108.55,291.83 L109.44,291.12 L110.32,290.41 L111.20,289.70 L112.09,288.99 L112.97,288.28 L113.85,287.57 L114.74,286.87 L115.62,286.17 L116.50,285.48 L117.39,284.79 L118.27,284.11 L119.15,283.44 L120.04,282.77 L120.92,282.12 L121.80,281.48 L122.69,280.86 L123.57,280.24 L124.45,279.65 L125.34,279.07 L126.22,278.50 L127.10,277.96 L127.98,277.43 L128.87,276.93 L129.75,276.44 L130.63,275.98 L131.52,275.55 L132.40,275.13 L133.28,274.75 L134.17,274.39 L135.05,274.06 L135.93,273.76 L136.82,273.49 L137.70,273.25" fill="none" stroke="#2ac5cc" stroke-width="1.6" stroke-dasharray="2.4 0.9" stroke-linejoin="round" stroke-linecap="butt" />
</g>
<line x1="62.80" y1="232.60" x2="74.80" y2="232.60" stroke="#3b84d8" stroke-width="1.0" />
<circle cx="68.80" cy="232.60" r="1.1" fill="#3b84d8"/>
<text x="76.30" y="232.80" font-size="5.6" fill="#222" text-anchor="start" font-weight="bold" dominant-baseline="central"  stroke="#222" stroke-width="0.18">1×10<tspan dy="-2.2" font-size="3.8">5</tspan><tspan dy="2.2">/mL</tspan></text>
<line x1="101.30" y1="232.60" x2="113.30" y2="232.60" stroke="#33a97a" stroke-width="1.0" />
<circle cx="107.30" cy="232.60" r="1.1" fill="#33a97a"/>
<text x="114.80" y="232.80" font-size="5.6" fill="#222" text-anchor="start" font-weight="bold" dominant-baseline="central"  stroke="#222" stroke-width="0.18">2×10<tspan dy="-2.2" font-size="3.8">5</tspan><tspan dy="2.2">/mL</tspan></text>
<line x1="62.80" y1="240.30" x2="74.80" y2="240.30" stroke="#5b2585" stroke-width="1.0" />
<circle cx="68.80" cy="240.30" r="1.1" fill="#5b2585"/>
<text x="76.30" y="240.50" font-size="5.6" fill="#222" text-anchor="start" font-weight="bold" dominant-baseline="central"  stroke="#222" stroke-width="0.18">3×10<tspan dy="-2.2" font-size="3.8">5</tspan><tspan dy="2.2">/mL</tspan></text>
<line x1="101.30" y1="240.30" x2="113.30" y2="240.30" stroke="#f39a2b" stroke-width="1.0" />
<circle cx="107.30" cy="240.30" r="1.1" fill="#f39a2b"/>
<text x="114.80" y="240.50" font-size="5.6" fill="#222" text-anchor="start" font-weight="bold" dominant-baseline="central"  stroke="#222" stroke-width="0.18">4×10<tspan dy="-2.2" font-size="3.8">5</tspan><tspan dy="2.2">/mL</tspan></text>
<line x1="62.80" y1="247.80" x2="74.80" y2="247.80" stroke="#2ac5cc" stroke-width="1.0" />
<circle cx="68.80" cy="247.80" r="1.1" fill="#2ac5cc"/>
<text x="76.30" y="248.00" font-size="5.6" fill="#222" text-anchor="start" font-weight="bold" dominant-baseline="central"  stroke="#222" stroke-width="0.18">5×10<tspan dy="-2.2" font-size="3.8">5</tspan><tspan dy="2.2">/mL</tspan></text>
<line x1="32.60" y1="228.00" x2="137.70" y2="228.00" stroke="#555" stroke-width="0.9" />
<line x1="137.70" y1="228.00" x2="137.70" y2="313.60" stroke="#555" stroke-width="0.9" />
<line x1="32.60" y1="228.00" x2="32.60" y2="313.60" stroke="#444" stroke-width="1.0" />
<line x1="32.60" y1="313.60" x2="137.70" y2="313.60" stroke="#444" stroke-width="1.0" />
<line x1="30.10" y1="228.00" x2="32.60" y2="228.00" stroke="#444" stroke-width="0.8" />
<text x="29.40" y="228.20" font-size="6.8" fill="#111" text-anchor="end" font-weight="bold" dominant-baseline="central"  stroke="#111" stroke-width="0.18">-6</text>
<line x1="30.10" y1="240.23" x2="32.60" y2="240.23" stroke="#444" stroke-width="0.8" />
<text x="29.40" y="240.43" font-size="6.8" fill="#111" text-anchor="end" font-weight="bold" dominant-baseline="central"  stroke="#111" stroke-width="0.18">-7</text>
<line x1="30.10" y1="252.46" x2="32.60" y2="252.46" stroke="#444" stroke-width="0.8" />
<text x="29.40" y="252.66" font-size="6.8" fill="#111" text-anchor="end" font-weight="bold" dominant-baseline="central"  stroke="#111" stroke-width="0.18">-8</text>
<line x1="30.10" y1="264.69" x2="32.60" y2="264.69" stroke="#444" stroke-width="0.8" />
<text x="29.40" y="264.89" font-size="6.8" fill="#111" text-anchor="end" font-weight="bold" dominant-baseline="central"  stroke="#111" stroke-width="0.18">-9</text>
<line x1="30.10" y1="276.91" x2="32.60" y2="276.91" stroke="#444" stroke-width="0.8" />
<text x="29.40" y="277.11" font-size="6.8" fill="#111" text-anchor="end" font-weight="bold" dominant-baseline="central"  stroke="#111" stroke-width="0.18">-10</text>
<line x1="30.10" y1="289.14" x2="32.60" y2="289.14" stroke="#444" stroke-width="0.8" />
<text x="29.40" y="289.34" font-size="6.8" fill="#111" text-anchor="end" font-weight="bold" dominant-baseline="central"  stroke="#111" stroke-width="0.18">-11</text>
<line x1="30.10" y1="301.37" x2="32.60" y2="301.37" stroke="#444" stroke-width="0.8" />
<text x="29.40" y="301.57" font-size="6.8" fill="#111" text-anchor="end" font-weight="bold" dominant-baseline="central"  stroke="#111" stroke-width="0.18">-12</text>
<line x1="30.10" y1="313.60" x2="32.60" y2="313.60" stroke="#444" stroke-width="0.8" />
<text x="29.40" y="313.80" font-size="6.8" fill="#111" text-anchor="end" font-weight="bold" dominant-baseline="central"  stroke="#111" stroke-width="0.18">-13</text>
<line x1="32.60" y1="313.60" x2="32.60" y2="311.60" stroke="#444" stroke-width="0.8" />
<text x="32.60" y="320.80" font-size="7.0" fill="#111" text-anchor="middle" font-weight="bold" dominant-baseline="central"  stroke="#111" stroke-width="0.18">1.9</text>
<line x1="58.88" y1="313.60" x2="58.88" y2="311.60" stroke="#444" stroke-width="0.8" />
<text x="58.88" y="320.80" font-size="7.0" fill="#111" text-anchor="middle" font-weight="bold" dominant-baseline="central"  stroke="#111" stroke-width="0.18">2.0</text>
<line x1="85.15" y1="313.60" x2="85.15" y2="311.60" stroke="#444" stroke-width="0.8" />
<text x="85.15" y="320.80" font-size="7.0" fill="#111" text-anchor="middle" font-weight="bold" dominant-baseline="central"  stroke="#111" stroke-width="0.18">2.1</text>
<line x1="111.43" y1="313.60" x2="111.43" y2="311.60" stroke="#444" stroke-width="0.8" />
<text x="111.43" y="320.80" font-size="7.0" fill="#111" text-anchor="middle" font-weight="bold" dominant-baseline="central"  stroke="#111" stroke-width="0.18">2.2</text>
<line x1="137.70" y1="313.60" x2="137.70" y2="311.60" stroke="#444" stroke-width="0.8" />
<text x="137.70" y="320.80" font-size="7.0" fill="#111" text-anchor="middle" font-weight="bold" dominant-baseline="central"  stroke="#111" stroke-width="0.18">2.3</text>
<text x="85.65" y="328.00" font-size="9.6" fill="#111" text-anchor="middle" font-weight="bold" dominant-baseline="central"  stroke="#111" stroke-width="0.35">Frequency(GHz)</text>
<text x="13.20" y="270.80" font-size="9.0" fill="#111" text-anchor="middle" font-weight="bold" transform="rotate(-90 13.20 270.80)" dominant-baseline="central"  stroke="#111" stroke-width="0.35">S-Parameter(dB)</text>
<text x="66.90" y="262.00" font-size="9.3" fill="#f0952c" text-anchor="start" font-weight="bold" dominant-baseline="central"  stroke="#f0952c" stroke-width="0.35">Resonator-1</text>
<text x="18.20" y="221.60" font-size="9.2" fill="#333" text-anchor="start" font-weight="normal" dominant-baseline="central"  stroke="#333" stroke-width="0.2">(i)</text>
<clipPath id="clipC164"><rect x="164.30" y="228.90" width="105.90" height="84.70"/></clipPath>
<rect x="192.40" y="228.90" width="77.80" height="23.00" stroke="#c8c8c8" stroke-width="0.5" fill="#fff" />
<g clip-path="url(#clipC164)">
<path d="M164.30,239.06 L165.19,239.39 L166.08,239.77 L166.97,240.19 L167.86,240.65 L168.75,241.15 L169.64,241.69 L170.53,242.27 L171.42,242.87 L172.31,243.50 L173.20,244.16 L174.09,244.84 L174.98,245.54 L175.87,246.30 L176.76,247.15 L177.65,248.07 L178.54,249.05 L179.43,250.09 L180.32,251.18 L181.21,252.30 L182.10,253.44 L182.99,254.60 L183.88,255.75 L184.77,256.91 L185.66,258.04 L186.55,259.14 L187.44,260.22 L188.33,261.34 L189.22,262.49 L190.11,263.66 L191.00,264.84 L191.89,266.03 L192.78,267.22 L193.67,268.39 L194.56,269.53 L195.45,270.64 L196.34,271.70 L197.23,272.71 L198.12,273.65 L199.01,274.52 L199.90,275.33 L200.79,276.13 L201.68,276.93 L202.57,277.71 L203.46,278.46 L204.35,279.19 L205.24,279.87 L206.13,280.50 L207.02,281.08 L207.91,281.59 L208.80,282.03 L209.69,282.39 L210.58,282.68 L211.47,282.95 L212.36,283.22 L213.25,283.47 L214.14,283.71 L215.03,283.94 L215.92,284.14 L216.81,284.32 L217.69,284.48 L218.58,284.61 L219.47,284.71 L220.36,284.77 L221.25,284.80 L222.14,284.80 L223.03,284.76 L223.92,284.71 L224.81,284.63 L225.70,284.54 L226.59,284.42 L227.48,284.29 L228.37,284.15 L229.26,283.98 L230.15,283.81 L231.04,283.62 L231.93,283.43 L232.82,283.23 L233.71,283.02 L234.60,282.80 L235.49,282.58 L236.38,282.36 L237.27,282.14 L238.16,281.92 L239.05,281.71 L239.94,281.49 L240.83,281.27 L241.72,281.01 L242.61,280.74 L243.50,280.44 L244.39,280.13 L245.28,279.81 L246.17,279.47 L247.06,279.13 L247.95,278.79 L248.84,278.44 L249.73,278.10 L250.62,277.76 L251.51,277.44 L252.40,277.12 L253.29,276.83 L254.18,276.55 L255.07,276.29 L255.96,276.06 L256.85,275.82 L257.74,275.59 L258.63,275.37 L259.52,275.15 L260.41,274.95 L261.30,274.76 L262.19,274.59 L263.08,274.45 L263.97,274.33 L264.86,274.22 L265.75,274.12 L266.64,274.03 L267.53,273.95 L268.42,273.88 L269.31,273.83 L270.20,273.79" fill="none" stroke="#3b84d8" stroke-width="1.6" stroke-dasharray="2.4 0.9" stroke-linejoin="round" stroke-linecap="butt" />
<path d="M164.30,240.76 L165.19,241.10 L166.08,241.49 L166.97,241.92 L167.86,242.40 L168.75,242.92 L169.64,243.48 L170.53,244.08 L171.42,244.71 L172.31,245.36 L173.20,246.04 L174.09,246.75 L174.98,247.47 L175.87,248.26 L176.76,249.14 L177.65,250.10 L178.54,251.12 L179.43,252.20 L180.32,253.32 L181.21,254.48 L182.10,255.67 L182.99,256.87 L183.88,258.07 L184.77,259.26 L185.66,260.44 L186.55,261.58 L187.44,262.70 L188.33,263.86 L189.22,265.05 L190.11,266.26 L191.00,267.49 L191.89,268.73 L192.78,269.95 L193.67,271.17 L194.56,272.35 L195.45,273.50 L196.34,274.60 L197.23,275.65 L198.12,276.63 L199.01,277.53 L199.90,278.36 L200.79,279.20 L201.68,280.02 L202.57,280.83 L203.46,281.62 L204.35,282.37 L205.24,283.07 L206.13,283.73 L207.02,284.33 L207.91,284.86 L208.80,285.32 L209.69,285.69 L210.58,285.99 L211.47,286.27 L212.36,286.55 L213.25,286.81 L214.14,287.06 L215.03,287.29 L215.92,287.50 L216.81,287.69 L217.69,287.86 L218.58,287.99 L219.47,288.09 L220.36,288.16 L221.25,288.19 L222.14,288.18 L223.03,288.15 L223.92,288.08 L224.81,288.00 L225.70,287.89 L226.59,287.75 L227.48,287.60 L228.37,287.43 L229.26,287.25 L230.15,287.04 L231.04,286.83 L231.93,286.61 L232.82,286.37 L233.71,286.13 L234.60,285.88 L235.49,285.63 L236.38,285.38 L237.27,285.12 L238.16,284.87 L239.05,284.62 L239.94,284.37 L240.83,284.11 L241.72,283.82 L242.61,283.50 L243.50,283.16 L244.39,282.80 L245.28,282.43 L246.17,282.04 L247.06,281.65 L247.95,281.25 L248.84,280.85 L249.73,280.46 L250.62,280.07 L251.51,279.69 L252.40,279.33 L253.29,278.99 L254.18,278.67 L255.07,278.37 L255.96,278.10 L256.85,277.83 L257.74,277.56 L258.63,277.30 L259.52,277.05 L260.41,276.82 L261.30,276.60 L262.19,276.41 L263.08,276.24 L263.97,276.10 L264.86,275.98 L265.75,275.87 L266.64,275.76 L267.53,275.67 L268.42,275.59 L269.31,275.53 L270.20,275.49" fill="none" stroke="#33a97a" stroke-width="1.6" stroke-dasharray="2.4 0.9" stroke-linejoin="round" stroke-linecap="butt" />
<path d="M164.30,245.84 L165.19,246.20 L166.08,246.62 L166.97,247.09 L167.86,247.60 L168.75,248.16 L169.64,248.76 L170.53,249.40 L171.42,250.07 L172.31,250.77 L173.20,251.50 L174.09,252.26 L174.98,253.03 L175.87,253.88 L176.76,254.82 L177.65,255.84 L178.54,256.94 L179.43,258.10 L180.32,259.30 L181.21,260.55 L182.10,261.81 L182.99,263.10 L183.88,264.38 L184.77,265.66 L185.66,266.92 L186.55,268.15 L187.44,269.35 L188.33,270.59 L189.22,271.86 L190.11,273.17 L191.00,274.48 L191.89,275.81 L192.78,277.12 L193.67,278.42 L194.56,279.69 L195.45,280.92 L196.34,282.10 L197.23,283.22 L198.12,284.27 L199.01,285.24 L199.90,286.13 L200.79,287.02 L201.68,287.90 L202.57,288.76 L203.46,289.59 L204.35,290.39 L205.24,291.14 L206.13,291.84 L207.02,292.49 L207.91,293.06 L208.80,293.56 L209.69,293.98 L210.58,294.32 L211.47,294.64 L212.36,294.96 L213.25,295.27 L214.14,295.55 L215.03,295.82 L215.92,296.05 L216.81,296.25 L217.69,296.42 L218.58,296.55 L219.47,296.63 L220.36,296.66 L221.25,296.65 L222.14,296.62 L223.03,296.56 L223.92,296.48 L224.81,296.39 L225.70,296.28 L226.59,296.15 L227.48,296.00 L228.37,295.84 L229.26,295.67 L230.15,295.49 L231.04,295.29 L231.93,295.09 L232.82,294.88 L233.71,294.67 L234.60,294.45 L235.49,294.22 L236.38,294.00 L237.27,293.77 L238.16,293.54 L239.05,293.32 L239.94,293.10 L240.83,292.86 L241.72,292.59 L242.61,292.30 L243.50,291.98 L244.39,291.65 L245.28,291.30 L246.17,290.94 L247.06,290.57 L247.95,290.20 L248.84,289.82 L249.73,289.45 L250.62,289.09 L251.51,288.74 L252.40,288.40 L253.29,288.07 L254.18,287.77 L255.07,287.50 L255.96,287.24 L256.85,286.99 L257.74,286.74 L258.63,286.50 L259.52,286.26 L260.41,286.05 L261.30,285.84 L262.19,285.66 L263.08,285.51 L263.97,285.38 L264.86,285.26 L265.75,285.16 L266.64,285.06 L267.53,284.97 L268.42,284.90 L269.31,284.84 L270.20,284.80" fill="none" stroke="#5b2585" stroke-width="1.6" stroke-dasharray="2.4 0.9" stroke-linejoin="round" stroke-linecap="butt" />
<path d="M164.30,245.84 L165.19,246.25 L166.08,246.72 L166.97,247.25 L167.86,247.84 L168.75,248.47 L169.64,249.15 L170.53,249.87 L171.42,250.63 L172.31,251.43 L173.20,252.26 L174.09,253.11 L174.98,253.99 L175.87,254.95 L176.76,256.02 L177.65,257.18 L178.54,258.42 L179.43,259.73 L180.32,261.10 L181.21,262.51 L182.10,263.94 L182.99,265.40 L183.88,266.86 L184.77,268.31 L185.66,269.73 L186.55,271.13 L187.44,272.49 L188.33,273.89 L189.22,275.33 L190.11,276.81 L191.00,278.30 L191.89,279.80 L192.78,281.29 L193.67,282.77 L194.56,284.21 L195.45,285.60 L196.34,286.94 L197.23,288.21 L198.12,289.40 L199.01,290.49 L199.90,291.50 L200.79,292.51 L201.68,293.49 L202.57,294.46 L203.46,295.39 L204.35,296.29 L205.24,297.13 L206.13,297.93 L207.02,298.66 L207.91,299.31 L208.80,299.89 L209.69,300.38 L210.58,300.80 L211.47,301.20 L212.36,301.59 L213.25,301.97 L214.14,302.32 L215.03,302.63 L215.92,302.91 L216.81,303.14 L217.69,303.30 L218.58,303.41 L219.47,303.44 L220.36,303.42 L221.25,303.40 L222.14,303.35 L223.03,303.29 L223.92,303.21 L224.81,303.12 L225.70,303.02 L226.59,302.91 L227.48,302.78 L228.37,302.65 L229.26,302.50 L230.15,302.35 L231.04,302.19 L231.93,302.02 L232.82,301.85 L233.71,301.67 L234.60,301.49 L235.49,301.31 L236.38,301.12 L237.27,300.94 L238.16,300.75 L239.05,300.56 L239.94,300.38 L240.83,300.18 L241.72,299.96 L242.61,299.71 L243.50,299.44 L244.39,299.16 L245.28,298.86 L246.17,298.55 L247.06,298.23 L247.95,297.91 L248.84,297.59 L249.73,297.27 L250.62,296.95 L251.51,296.65 L252.40,296.36 L253.29,296.08 L254.18,295.82 L255.07,295.58 L255.96,295.37 L256.85,295.15 L257.74,294.93 L258.63,294.73 L259.52,294.53 L260.41,294.34 L261.30,294.16 L262.19,294.01 L263.08,293.88 L263.97,293.77 L264.86,293.67 L265.75,293.58 L266.64,293.49 L267.53,293.42 L268.42,293.35 L269.31,293.30 L270.20,293.27" fill="none" stroke="#f39a2b" stroke-width="1.6" stroke-dasharray="2.4 0.9" stroke-linejoin="round" stroke-linecap="butt" />
<path d="M164.30,254.31 L165.19,254.70 L166.08,255.14 L166.97,255.64 L167.86,256.19 L168.75,256.78 L169.64,257.42 L170.53,258.10 L171.42,258.82 L172.31,259.57 L173.20,260.35 L174.09,261.15 L174.98,261.98 L175.87,262.89 L176.76,263.89 L177.65,264.98 L178.54,266.15 L179.43,267.38 L180.32,268.67 L181.21,270.00 L182.10,271.35 L182.99,272.72 L183.88,274.09 L184.77,275.46 L185.66,276.80 L186.55,278.11 L187.44,279.39 L188.33,280.71 L189.22,282.07 L190.11,283.46 L191.00,284.86 L191.89,286.27 L192.78,287.68 L193.67,289.06 L194.56,290.42 L195.45,291.73 L196.34,292.99 L197.23,294.19 L198.12,295.30 L199.01,296.33 L199.90,297.29 L200.79,298.23 L201.68,299.16 L202.57,300.07 L203.46,300.95 L204.35,301.79 L205.24,302.59 L206.13,303.33 L207.02,304.02 L207.91,304.64 L208.80,305.18 L209.69,305.64 L210.58,306.03 L211.47,306.41 L212.36,306.78 L213.25,307.14 L214.14,307.47 L215.03,307.76 L215.92,308.02 L216.81,308.23 L217.69,308.39 L218.58,308.49 L219.47,308.52 L220.36,308.51 L221.25,308.48 L222.14,308.43 L223.03,308.37 L223.92,308.30 L224.81,308.21 L225.70,308.10 L226.59,307.99 L227.48,307.86 L228.37,307.73 L229.26,307.58 L230.15,307.43 L231.04,307.27 L231.93,307.10 L232.82,306.93 L233.71,306.75 L234.60,306.57 L235.49,306.39 L236.38,306.21 L237.27,306.02 L238.16,305.83 L239.05,305.65 L239.94,305.46 L240.83,305.26 L241.72,305.04 L242.61,304.79 L243.50,304.52 L244.39,304.24 L245.28,303.94 L246.17,303.63 L247.06,303.31 L247.95,302.99 L248.84,302.67 L249.73,302.35 L250.62,302.03 L251.51,301.73 L252.40,301.44 L253.29,301.16 L254.18,300.90 L255.07,300.67 L255.96,300.45 L256.85,300.23 L257.74,300.02 L258.63,299.81 L259.52,299.61 L260.41,299.42 L261.30,299.25 L262.19,299.09 L263.08,298.96 L263.97,298.85 L264.86,298.75 L265.75,298.66 L266.64,298.57 L267.53,298.50 L268.42,298.44 L269.31,298.39 L270.20,298.35" fill="none" stroke="#2ac5cc" stroke-width="1.6" stroke-dasharray="2.4 0.9" stroke-linejoin="round" stroke-linecap="butt" />
</g>
<line x1="194.20" y1="233.50" x2="206.20" y2="233.50" stroke="#3b84d8" stroke-width="1.0" />
<circle cx="200.20" cy="233.50" r="1.1" fill="#3b84d8"/>
<text x="207.70" y="233.70" font-size="5.6" fill="#222" text-anchor="start" font-weight="bold" dominant-baseline="central"  stroke="#222" stroke-width="0.18">1×10<tspan dy="-2.2" font-size="3.8">5</tspan><tspan dy="2.2">/mL</tspan></text>
<line x1="232.70" y1="233.50" x2="244.70" y2="233.50" stroke="#33a97a" stroke-width="1.0" />
<circle cx="238.70" cy="233.50" r="1.1" fill="#33a97a"/>
<text x="246.20" y="233.70" font-size="5.6" fill="#222" text-anchor="start" font-weight="bold" dominant-baseline="central"  stroke="#222" stroke-width="0.18">2×10<tspan dy="-2.2" font-size="3.8">5</tspan><tspan dy="2.2">/mL</tspan></text>
<line x1="194.20" y1="241.20" x2="206.20" y2="241.20" stroke="#5b2585" stroke-width="1.0" />
<circle cx="200.20" cy="241.20" r="1.1" fill="#5b2585"/>
<text x="207.70" y="241.40" font-size="5.6" fill="#222" text-anchor="start" font-weight="bold" dominant-baseline="central"  stroke="#222" stroke-width="0.18">3×10<tspan dy="-2.2" font-size="3.8">5</tspan><tspan dy="2.2">/mL</tspan></text>
<line x1="232.70" y1="241.20" x2="244.70" y2="241.20" stroke="#f39a2b" stroke-width="1.0" />
<circle cx="238.70" cy="241.20" r="1.1" fill="#f39a2b"/>
<text x="246.20" y="241.40" font-size="5.6" fill="#222" text-anchor="start" font-weight="bold" dominant-baseline="central"  stroke="#222" stroke-width="0.18">4×10<tspan dy="-2.2" font-size="3.8">5</tspan><tspan dy="2.2">/mL</tspan></text>
<line x1="194.20" y1="248.70" x2="206.20" y2="248.70" stroke="#2ac5cc" stroke-width="1.0" />
<circle cx="200.20" cy="248.70" r="1.1" fill="#2ac5cc"/>
<text x="207.70" y="248.90" font-size="5.6" fill="#222" text-anchor="start" font-weight="bold" dominant-baseline="central"  stroke="#222" stroke-width="0.18">5×10<tspan dy="-2.2" font-size="3.8">5</tspan><tspan dy="2.2">/mL</tspan></text>
<line x1="164.30" y1="228.90" x2="270.20" y2="228.90" stroke="#555" stroke-width="0.9" />
<line x1="270.20" y1="228.90" x2="270.20" y2="313.60" stroke="#555" stroke-width="0.9" />
<line x1="164.30" y1="228.90" x2="164.30" y2="313.60" stroke="#444" stroke-width="1.0" />
<line x1="164.30" y1="313.60" x2="270.20" y2="313.60" stroke="#444" stroke-width="1.0" />
<line x1="161.80" y1="228.90" x2="164.30" y2="228.90" stroke="#444" stroke-width="0.8" />
<text x="161.10" y="229.10" font-size="6.8" fill="#111" text-anchor="end" font-weight="bold" dominant-baseline="central"  stroke="#111" stroke-width="0.18">-8</text>
<line x1="161.80" y1="245.84" x2="164.30" y2="245.84" stroke="#444" stroke-width="0.8" />
<text x="161.10" y="246.04" font-size="6.8" fill="#111" text-anchor="end" font-weight="bold" dominant-baseline="central"  stroke="#111" stroke-width="0.18">-9</text>
<line x1="161.80" y1="262.78" x2="164.30" y2="262.78" stroke="#444" stroke-width="0.8" />
<text x="161.10" y="262.98" font-size="6.8" fill="#111" text-anchor="end" font-weight="bold" dominant-baseline="central"  stroke="#111" stroke-width="0.18">-10</text>
<line x1="161.80" y1="279.72" x2="164.30" y2="279.72" stroke="#444" stroke-width="0.8" />
<text x="161.10" y="279.92" font-size="6.8" fill="#111" text-anchor="end" font-weight="bold" dominant-baseline="central"  stroke="#111" stroke-width="0.18">-11</text>
<line x1="161.80" y1="296.66" x2="164.30" y2="296.66" stroke="#444" stroke-width="0.8" />
<text x="161.10" y="296.86" font-size="6.8" fill="#111" text-anchor="end" font-weight="bold" dominant-baseline="central"  stroke="#111" stroke-width="0.18">-12</text>
<line x1="161.80" y1="313.60" x2="164.30" y2="313.60" stroke="#444" stroke-width="0.8" />
<text x="161.10" y="313.80" font-size="6.8" fill="#111" text-anchor="end" font-weight="bold" dominant-baseline="central"  stroke="#111" stroke-width="0.18">-13</text>
<line x1="164.30" y1="313.60" x2="164.30" y2="311.60" stroke="#444" stroke-width="0.8" />
<text x="164.30" y="320.80" font-size="7.0" fill="#111" text-anchor="middle" font-weight="bold" dominant-baseline="central"  stroke="#111" stroke-width="0.18">2.5</text>
<line x1="185.48" y1="313.60" x2="185.48" y2="311.60" stroke="#444" stroke-width="0.8" />
<text x="185.48" y="320.80" font-size="7.0" fill="#111" text-anchor="middle" font-weight="bold" dominant-baseline="central"  stroke="#111" stroke-width="0.18">2.6</text>
<line x1="206.66" y1="313.60" x2="206.66" y2="311.60" stroke="#444" stroke-width="0.8" />
<text x="206.66" y="320.80" font-size="7.0" fill="#111" text-anchor="middle" font-weight="bold" dominant-baseline="central"  stroke="#111" stroke-width="0.18">2.7</text>
<line x1="227.84" y1="313.60" x2="227.84" y2="311.60" stroke="#444" stroke-width="0.8" />
<text x="227.84" y="320.80" font-size="7.0" fill="#111" text-anchor="middle" font-weight="bold" dominant-baseline="central"  stroke="#111" stroke-width="0.18">2.8</text>
<line x1="249.02" y1="313.60" x2="249.02" y2="311.60" stroke="#444" stroke-width="0.8" />
<text x="249.02" y="320.80" font-size="7.0" fill="#111" text-anchor="middle" font-weight="bold" dominant-baseline="central"  stroke="#111" stroke-width="0.18">2.9</text>
<line x1="270.20" y1="313.60" x2="270.20" y2="311.60" stroke="#444" stroke-width="0.8" />
<text x="270.20" y="320.80" font-size="7.0" fill="#111" text-anchor="middle" font-weight="bold" dominant-baseline="central"  stroke="#111" stroke-width="0.18">3.0</text>
<text x="217.75" y="328.00" font-size="9.6" fill="#111" text-anchor="middle" font-weight="bold" dominant-baseline="central"  stroke="#111" stroke-width="0.35">Frequency(GHz)</text>
<text x="147.80" y="270.80" font-size="9.0" fill="#111" text-anchor="middle" font-weight="bold" transform="rotate(-90 147.80 270.80)" dominant-baseline="central"  stroke="#111" stroke-width="0.35">S-Parameter(dB)</text>
<text x="209.60" y="264.00" font-size="9.3" fill="#3db581" text-anchor="start" font-weight="bold" dominant-baseline="central"  stroke="#3db581" stroke-width="0.35">Resonator-2</text>
<text x="146.00" y="221.60" font-size="9.2" fill="#333" text-anchor="start" font-weight="normal" dominant-baseline="central"  stroke="#333" stroke-width="0.2">(ii)</text>
<clipPath id="clipC295"><rect x="295.90" y="230.60" width="105.10" height="83.90"/></clipPath>
<rect x="311.40" y="230.60" width="89.60" height="23.00" stroke="#c8c8c8" stroke-width="0.5" fill="#fff" />
<g clip-path="url(#clipC295)">
<path d="M295.90,234.58 L296.78,235.43 L297.67,236.31 L298.55,237.23 L299.43,238.17 L300.32,239.14 L301.20,240.14 L302.08,241.17 L302.97,242.22 L303.85,243.29 L304.73,244.38 L305.62,245.50 L306.50,246.63 L307.38,247.78 L308.26,248.94 L309.15,250.12 L310.03,251.31 L310.91,252.52 L311.80,253.73 L312.68,254.95 L313.56,256.18 L314.45,257.42 L315.33,258.66 L316.21,259.90 L317.10,261.15 L317.98,262.39 L318.86,263.64 L319.75,264.88 L320.63,266.12 L321.51,267.35 L322.40,268.57 L323.28,269.79 L324.16,271.00 L325.05,272.20 L325.93,273.38 L326.81,274.55 L327.69,275.70 L328.58,276.84 L329.46,277.96 L330.34,279.06 L331.23,280.14 L332.11,281.20 L332.99,282.24 L333.88,283.25 L334.76,284.23 L335.64,285.18 L336.53,286.11 L337.41,287.00 L338.29,287.86 L339.18,288.69 L340.06,289.49 L340.94,290.24 L341.83,290.96 L342.71,291.64 L343.59,292.28 L344.48,292.88 L345.36,293.43 L346.24,293.94 L347.13,294.40 L348.01,294.82 L348.89,295.19 L349.77,295.50 L350.66,295.77 L351.54,295.98 L352.42,296.13 L353.31,296.23 L354.19,296.27 L355.07,296.26 L355.96,296.18 L356.84,296.04 L357.72,295.84 L358.61,295.57 L359.49,295.24 L360.37,294.84 L361.26,294.38 L362.14,293.85 L363.02,293.27 L363.91,292.63 L364.79,291.94 L365.67,291.19 L366.56,290.39 L367.44,289.54 L368.32,288.64 L369.21,287.69 L370.09,286.71 L370.97,285.68 L371.85,284.61 L372.74,283.50 L373.62,282.36 L374.50,281.19 L375.39,279.98 L376.27,278.74 L377.15,277.47 L378.04,276.18 L378.92,274.87 L379.80,273.53 L380.69,272.17 L381.57,270.80 L382.45,269.41 L383.34,268.00 L384.22,266.58 L385.10,265.16 L385.99,263.72 L386.87,262.28 L387.75,260.83 L388.64,259.39 L389.52,257.94 L390.40,256.49 L391.28,255.05 L392.17,253.61 L393.05,252.18 L393.93,250.76 L394.82,249.35 L395.70,247.96 L396.58,246.58 L397.47,245.22 L398.35,243.87 L399.23,242.55 L400.12,241.26 L401.00,239.99" fill="none" stroke="#3b84d8" stroke-width="1.6" stroke-dasharray="2.4 0.9" stroke-linejoin="round" stroke-linecap="butt" />
<path d="M295.90,240.84 L296.78,242.22 L297.67,243.62 L298.55,245.03 L299.43,246.45 L300.32,247.87 L301.20,249.30 L302.08,250.74 L302.97,252.18 L303.85,253.63 L304.73,255.07 L305.62,256.52 L306.50,257.97 L307.38,259.41 L308.26,260.85 L309.15,262.29 L310.03,263.72 L310.91,265.15 L311.80,266.56 L312.68,267.97 L313.56,269.37 L314.45,270.75 L315.33,272.13 L316.21,273.49 L317.10,274.83 L317.98,276.15 L318.86,277.46 L319.75,278.75 L320.63,280.02 L321.51,281.27 L322.40,282.49 L323.28,283.69 L324.16,284.87 L325.05,286.02 L325.93,287.14 L326.81,288.23 L327.69,289.29 L328.58,290.32 L329.46,291.32 L330.34,292.29 L331.23,293.21 L332.11,294.11 L332.99,294.96 L333.88,295.78 L334.76,296.55 L335.64,297.29 L336.53,297.98 L337.41,298.63 L338.29,299.24 L339.18,299.79 L340.06,300.30 L340.94,300.77 L341.83,301.18 L342.71,301.54 L343.59,301.85 L344.48,302.10 L345.36,302.30 L346.24,302.45 L347.13,302.53 L348.01,302.56 L348.89,302.53 L349.77,302.44 L350.66,302.29 L351.54,302.09 L352.42,301.83 L353.31,301.51 L354.19,301.14 L355.07,300.72 L355.96,300.26 L356.84,299.74 L357.72,299.17 L358.61,298.56 L359.49,297.91 L360.37,297.21 L361.26,296.47 L362.14,295.69 L363.02,294.88 L363.91,294.02 L364.79,293.13 L365.67,292.20 L366.56,291.25 L367.44,290.26 L368.32,289.23 L369.21,288.19 L370.09,287.11 L370.97,286.00 L371.85,284.88 L372.74,283.72 L373.62,282.55 L374.50,281.36 L375.39,280.14 L376.27,278.91 L377.15,277.66 L378.04,276.40 L378.92,275.12 L379.80,273.83 L380.69,272.53 L381.57,271.22 L382.45,269.91 L383.34,268.58 L384.22,267.25 L385.10,265.92 L385.99,264.58 L386.87,263.25 L387.75,261.91 L388.64,260.57 L389.52,259.24 L390.40,257.91 L391.28,256.59 L392.17,255.28 L393.05,253.97 L393.93,252.67 L394.82,251.39 L395.70,250.12 L396.58,248.86 L397.47,247.62 L398.35,246.39 L399.23,245.18 L400.12,244.00 L401.00,242.83" fill="none" stroke="#33a97a" stroke-width="1.6" stroke-dasharray="2.4 0.9" stroke-linejoin="round" stroke-linecap="butt" />
<path d="M295.90,257.62 L296.78,258.74 L297.67,259.87 L298.55,261.00 L299.43,262.15 L300.32,263.29 L301.20,264.45 L302.08,265.60 L302.97,266.76 L303.85,267.92 L304.73,269.07 L305.62,270.23 L306.50,271.38 L307.38,272.53 L308.26,273.68 L309.15,274.81 L310.03,275.95 L310.91,277.07 L311.80,278.18 L312.68,279.28 L313.56,280.37 L314.45,281.45 L315.33,282.51 L316.21,283.55 L317.10,284.58 L317.98,285.60 L318.86,286.59 L319.75,287.56 L320.63,288.51 L321.51,289.44 L322.40,290.35 L323.28,291.23 L324.16,292.08 L325.05,292.91 L325.93,293.71 L326.81,294.48 L327.69,295.22 L328.58,295.93 L329.46,296.60 L330.34,297.24 L331.23,297.85 L332.11,298.42 L332.99,298.95 L333.88,299.44 L334.76,299.89 L335.64,300.30 L336.53,300.67 L337.41,301.00 L338.29,301.28 L339.18,301.52 L340.06,301.71 L340.94,301.85 L341.83,301.94 L342.71,301.98 L343.59,301.98 L344.48,301.91 L345.36,301.80 L346.24,301.64 L347.13,301.43 L348.01,301.18 L348.89,300.88 L349.77,300.53 L350.66,300.14 L351.54,299.70 L352.42,299.23 L353.31,298.71 L354.19,298.16 L355.07,297.56 L355.96,296.93 L356.84,296.27 L357.72,295.57 L358.61,294.83 L359.49,294.06 L360.37,293.26 L361.26,292.43 L362.14,291.57 L363.02,290.68 L363.91,289.77 L364.79,288.83 L365.67,287.86 L366.56,286.87 L367.44,285.86 L368.32,284.82 L369.21,283.76 L370.09,282.69 L370.97,281.60 L371.85,280.49 L372.74,279.36 L373.62,278.22 L374.50,277.06 L375.39,275.89 L376.27,274.71 L377.15,273.52 L378.04,272.32 L378.92,271.11 L379.80,269.90 L380.69,268.68 L381.57,267.45 L382.45,266.22 L383.34,264.98 L384.22,263.75 L385.10,262.51 L385.99,261.27 L386.87,260.04 L387.75,258.81 L388.64,257.58 L389.52,256.36 L390.40,255.14 L391.28,253.93 L392.17,252.73 L393.05,251.54 L393.93,250.35 L394.82,249.18 L395.70,248.03 L396.58,246.88 L397.47,245.75 L398.35,244.64 L399.23,243.54 L400.12,242.47 L401.00,241.41" fill="none" stroke="#5b2585" stroke-width="1.6" stroke-dasharray="2.4 0.9" stroke-linejoin="round" stroke-linecap="butt" />
<path d="M295.90,267.86 L296.78,268.91 L297.67,269.97 L298.55,271.03 L299.43,272.10 L300.32,273.17 L301.20,274.25 L302.08,275.33 L302.97,276.41 L303.85,277.49 L304.73,278.56 L305.62,279.64 L306.50,280.70 L307.38,281.77 L308.26,282.83 L309.15,283.88 L310.03,284.92 L310.91,285.95 L311.80,286.97 L312.68,287.98 L313.56,288.97 L314.45,289.95 L315.33,290.92 L316.21,291.87 L317.10,292.79 L317.98,293.71 L318.86,294.59 L319.75,295.46 L320.63,296.31 L321.51,297.13 L322.40,297.93 L323.28,298.70 L324.16,299.44 L325.05,300.16 L325.93,300.84 L326.81,301.49 L327.69,302.12 L328.58,302.71 L329.46,303.26 L330.34,303.78 L331.23,304.26 L332.11,304.71 L332.99,305.11 L333.88,305.48 L334.76,305.80 L335.64,306.08 L336.53,306.32 L337.41,306.51 L338.29,306.66 L339.18,306.76 L340.06,306.81 L340.94,306.82 L341.83,306.77 L342.71,306.67 L343.59,306.53 L344.48,306.34 L345.36,306.10 L346.24,305.82 L347.13,305.50 L348.01,305.13 L348.89,304.73 L349.77,304.28 L350.66,303.79 L351.54,303.26 L352.42,302.70 L353.31,302.10 L354.19,301.46 L355.07,300.80 L355.96,300.09 L356.84,299.36 L357.72,298.59 L358.61,297.80 L359.49,296.97 L360.37,296.12 L361.26,295.24 L362.14,294.33 L363.02,293.40 L363.91,292.44 L364.79,291.47 L365.67,290.46 L366.56,289.44 L367.44,288.40 L368.32,287.34 L369.21,286.26 L370.09,285.17 L370.97,284.06 L371.85,282.93 L372.74,281.79 L373.62,280.64 L374.50,279.48 L375.39,278.31 L376.27,277.12 L377.15,275.93 L378.04,274.73 L378.92,273.52 L379.80,272.31 L380.69,271.10 L381.57,269.88 L382.45,268.65 L383.34,267.43 L384.22,266.21 L385.10,264.98 L385.99,263.76 L386.87,262.54 L387.75,261.33 L388.64,260.12 L389.52,258.91 L390.40,257.72 L391.28,256.53 L392.17,255.35 L393.05,254.17 L393.93,253.01 L394.82,251.87 L395.70,250.73 L396.58,249.61 L397.47,248.50 L398.35,247.41 L399.23,246.34 L400.12,245.29 L401.00,244.25" fill="none" stroke="#f39a2b" stroke-width="1.6" stroke-dasharray="2.4 0.9" stroke-linejoin="round" stroke-linecap="butt" />
<path d="M295.90,273.83 L296.78,274.70 L297.67,275.58 L298.55,276.46 L299.43,277.36 L300.32,278.26 L301.20,279.16 L302.08,280.07 L302.97,280.97 L303.85,281.88 L304.73,282.79 L305.62,283.70 L306.50,284.61 L307.38,285.51 L308.26,286.41 L309.15,287.30 L310.03,288.19 L310.91,289.07 L311.80,289.94 L312.68,290.81 L313.56,291.66 L314.45,292.50 L315.33,293.32 L316.21,294.13 L317.10,294.93 L317.98,295.71 L318.86,296.48 L319.75,297.22 L320.63,297.95 L321.51,298.65 L322.40,299.34 L323.28,300.00 L324.16,300.64 L325.05,301.25 L325.93,301.84 L326.81,302.40 L327.69,302.93 L328.58,303.43 L329.46,303.90 L330.34,304.35 L331.23,304.76 L332.11,305.13 L332.99,305.47 L333.88,305.78 L334.76,306.05 L335.64,306.28 L336.53,306.47 L337.41,306.62 L338.29,306.73 L339.18,306.80 L340.06,306.83 L340.94,306.81 L341.83,306.74 L342.71,306.64 L343.59,306.49 L344.48,306.30 L345.36,306.07 L346.24,305.79 L347.13,305.48 L348.01,305.13 L348.89,304.75 L349.77,304.32 L350.66,303.87 L351.54,303.37 L352.42,302.85 L353.31,302.29 L354.19,301.69 L355.07,301.07 L355.96,300.42 L356.84,299.74 L357.72,299.03 L358.61,298.29 L359.49,297.53 L360.37,296.74 L361.26,295.93 L362.14,295.09 L363.02,294.23 L363.91,293.35 L364.79,292.44 L365.67,291.52 L366.56,290.58 L367.44,289.62 L368.32,288.64 L369.21,287.65 L370.09,286.64 L370.97,285.61 L371.85,284.57 L372.74,283.52 L373.62,282.46 L374.50,281.39 L375.39,280.30 L376.27,279.21 L377.15,278.11 L378.04,277.00 L378.92,275.88 L379.80,274.76 L380.69,273.63 L381.57,272.50 L382.45,271.37 L383.34,270.24 L384.22,269.10 L385.10,267.97 L385.99,266.83 L386.87,265.70 L387.75,264.57 L388.64,263.44 L389.52,262.31 L390.40,261.20 L391.28,260.08 L392.17,258.98 L393.05,257.88 L393.93,256.79 L394.82,255.72 L395.70,254.65 L396.58,253.59 L397.47,252.55 L398.35,251.52 L399.23,250.50 L400.12,249.50 L401.00,248.52" fill="none" stroke="#2ac5cc" stroke-width="1.6" stroke-dasharray="2.4 0.9" stroke-linejoin="round" stroke-linecap="butt" />
</g>
<line x1="313.20" y1="235.20" x2="325.20" y2="235.20" stroke="#3b84d8" stroke-width="1.0" />
<circle cx="319.20" cy="235.20" r="1.1" fill="#3b84d8"/>
<text x="326.70" y="235.40" font-size="5.6" fill="#222" text-anchor="start" font-weight="bold" dominant-baseline="central"  stroke="#222" stroke-width="0.18">1×10<tspan dy="-2.2" font-size="3.8">5</tspan><tspan dy="2.2">/mL</tspan></text>
<line x1="351.70" y1="235.20" x2="363.70" y2="235.20" stroke="#33a97a" stroke-width="1.0" />
<circle cx="357.70" cy="235.20" r="1.1" fill="#33a97a"/>
<text x="365.20" y="235.40" font-size="5.6" fill="#222" text-anchor="start" font-weight="bold" dominant-baseline="central"  stroke="#222" stroke-width="0.18">2×10<tspan dy="-2.2" font-size="3.8">5</tspan><tspan dy="2.2">/mL</tspan></text>
<line x1="313.20" y1="242.90" x2="325.20" y2="242.90" stroke="#5b2585" stroke-width="1.0" />
<circle cx="319.20" cy="242.90" r="1.1" fill="#5b2585"/>
<text x="326.70" y="243.10" font-size="5.6" fill="#222" text-anchor="start" font-weight="bold" dominant-baseline="central"  stroke="#222" stroke-width="0.18">3×10<tspan dy="-2.2" font-size="3.8">5</tspan><tspan dy="2.2">/mL</tspan></text>
<line x1="351.70" y1="242.90" x2="363.70" y2="242.90" stroke="#f39a2b" stroke-width="1.0" />
<circle cx="357.70" cy="242.90" r="1.1" fill="#f39a2b"/>
<text x="365.20" y="243.10" font-size="5.6" fill="#222" text-anchor="start" font-weight="bold" dominant-baseline="central"  stroke="#222" stroke-width="0.18">4×10<tspan dy="-2.2" font-size="3.8">5</tspan><tspan dy="2.2">/mL</tspan></text>
<line x1="313.20" y1="250.40" x2="325.20" y2="250.40" stroke="#2ac5cc" stroke-width="1.0" />
<circle cx="319.20" cy="250.40" r="1.1" fill="#2ac5cc"/>
<text x="326.70" y="250.60" font-size="5.6" fill="#222" text-anchor="start" font-weight="bold" dominant-baseline="central"  stroke="#222" stroke-width="0.18">5×10<tspan dy="-2.2" font-size="3.8">5</tspan><tspan dy="2.2">/mL</tspan></text>
<line x1="295.90" y1="230.60" x2="401.00" y2="230.60" stroke="#555" stroke-width="0.9" />
<line x1="401.00" y1="230.60" x2="401.00" y2="314.50" stroke="#555" stroke-width="0.9" />
<line x1="295.90" y1="230.60" x2="295.90" y2="314.50" stroke="#444" stroke-width="1.0" />
<line x1="295.90" y1="314.50" x2="401.00" y2="314.50" stroke="#444" stroke-width="1.0" />
<line x1="293.40" y1="244.25" x2="295.90" y2="244.25" stroke="#444" stroke-width="0.8" />
<text x="292.70" y="244.45" font-size="6.8" fill="#111" text-anchor="end" font-weight="bold" dominant-baseline="central"  stroke="#111" stroke-width="0.18">-12</text>
<line x1="293.40" y1="272.69" x2="295.90" y2="272.69" stroke="#444" stroke-width="0.8" />
<text x="292.70" y="272.89" font-size="6.8" fill="#111" text-anchor="end" font-weight="bold" dominant-baseline="central"  stroke="#111" stroke-width="0.18">-13</text>
<line x1="293.40" y1="301.13" x2="295.90" y2="301.13" stroke="#444" stroke-width="0.8" />
<text x="292.70" y="301.33" font-size="6.8" fill="#111" text-anchor="end" font-weight="bold" dominant-baseline="central"  stroke="#111" stroke-width="0.18">-14</text>
<line x1="295.90" y1="314.50" x2="295.90" y2="312.50" stroke="#444" stroke-width="0.8" />
<text x="295.90" y="320.80" font-size="7.0" fill="#111" text-anchor="middle" font-weight="bold" dominant-baseline="central"  stroke="#111" stroke-width="0.18">3.2</text>
<line x1="322.17" y1="314.50" x2="322.17" y2="312.50" stroke="#444" stroke-width="0.8" />
<text x="322.17" y="320.80" font-size="7.0" fill="#111" text-anchor="middle" font-weight="bold" dominant-baseline="central"  stroke="#111" stroke-width="0.18">3.3</text>
<line x1="348.45" y1="314.50" x2="348.45" y2="312.50" stroke="#444" stroke-width="0.8" />
<text x="348.45" y="320.80" font-size="7.0" fill="#111" text-anchor="middle" font-weight="bold" dominant-baseline="central"  stroke="#111" stroke-width="0.18">3.4</text>
<line x1="374.72" y1="314.50" x2="374.72" y2="312.50" stroke="#444" stroke-width="0.8" />
<text x="374.72" y="320.80" font-size="7.0" fill="#111" text-anchor="middle" font-weight="bold" dominant-baseline="central"  stroke="#111" stroke-width="0.18">3.5</text>
<line x1="401.00" y1="314.50" x2="401.00" y2="312.50" stroke="#444" stroke-width="0.8" />
<text x="401.00" y="320.80" font-size="7.0" fill="#111" text-anchor="middle" font-weight="bold" dominant-baseline="central"  stroke="#111" stroke-width="0.18">3.6</text>
<text x="348.95" y="328.00" font-size="9.6" fill="#111" text-anchor="middle" font-weight="bold" dominant-baseline="central"  stroke="#111" stroke-width="0.35">Frequency(GHz)</text>
<text x="276.80" y="270.80" font-size="9.0" fill="#111" text-anchor="middle" font-weight="bold" transform="rotate(-90 276.80 270.80)" dominant-baseline="central"  stroke="#111" stroke-width="0.35">S-Parameter(dB)</text>
<text x="326.00" y="263.30" font-size="9.3" fill="#4a7fa9" text-anchor="start" font-weight="bold" dominant-baseline="central"  stroke="#4a7fa9" stroke-width="0.35">Resonator-3</text>
<text x="283.90" y="221.60" font-size="9.2" fill="#333" text-anchor="start" font-weight="normal" dominant-baseline="central"  stroke="#333" stroke-width="0.2">(iii)</text>
<clipPath id="clipC431"><rect x="431.20" y="230.30" width="106.80" height="84.70"/></clipPath>
<rect x="443.00" y="230.30" width="95.00" height="23.00" stroke="#c8c8c8" stroke-width="0.5" fill="#fff" />
<g clip-path="url(#clipC431)">
<path d="M431.20,250.20 L432.10,250.25 L432.99,250.32 L433.89,250.40 L434.79,250.49 L435.69,250.60 L436.58,250.73 L437.48,250.87 L438.38,251.03 L439.28,251.21 L440.17,251.40 L441.07,251.61 L441.97,251.85 L442.87,252.10 L443.76,252.37 L444.66,252.66 L445.56,252.97 L446.46,253.30 L447.35,253.65 L448.25,254.02 L449.15,254.41 L450.05,254.83 L450.94,255.27 L451.84,255.73 L452.74,256.22 L453.64,256.73 L454.53,257.26 L455.43,257.82 L456.33,258.40 L457.23,259.01 L458.12,259.65 L459.02,260.31 L459.92,260.99 L460.82,261.71 L461.71,262.45 L462.61,263.22 L463.51,264.02 L464.41,264.85 L465.30,265.70 L466.20,266.59 L467.10,267.50 L468.00,268.44 L468.89,269.40 L469.79,270.38 L470.69,271.37 L471.59,272.36 L472.48,273.37 L473.38,274.37 L474.28,275.37 L475.18,276.37 L476.07,277.35 L476.97,278.32 L477.87,279.27 L478.77,280.20 L479.66,281.10 L480.56,281.97 L481.46,282.81 L482.36,283.61 L483.25,284.37 L484.15,285.09 L485.05,285.77 L485.95,286.41 L486.84,287.01 L487.74,287.56 L488.64,288.07 L489.54,288.54 L490.43,288.97 L491.33,289.36 L492.23,289.70 L493.13,290.00 L494.02,290.26 L494.92,290.47 L495.82,290.64 L496.72,290.76 L497.61,290.84 L498.51,290.88 L499.41,290.87 L500.31,290.81 L501.20,290.72 L502.10,290.58 L503.00,290.41 L503.90,290.19 L504.79,289.94 L505.69,289.64 L506.59,289.31 L507.49,288.95 L508.38,288.55 L509.28,288.12 L510.18,287.65 L511.08,287.16 L511.97,286.63 L512.87,286.08 L513.77,285.49 L514.67,284.88 L515.56,284.24 L516.46,283.57 L517.36,282.88 L518.26,282.17 L519.15,281.44 L520.05,280.68 L520.95,279.90 L521.85,279.10 L522.74,278.29 L523.64,277.45 L524.54,276.60 L525.44,275.73 L526.33,274.85 L527.23,273.96 L528.13,273.05 L529.03,272.13 L529.92,271.19 L530.82,270.25 L531.72,269.30 L532.62,268.35 L533.51,267.38 L534.41,266.41 L535.31,265.43 L536.21,264.45 L537.10,263.47 L538.00,262.49" fill="none" stroke="#3b84d8" stroke-width="1.6" stroke-dasharray="2.4 0.9" stroke-linejoin="round" stroke-linecap="butt" />
<path d="M431.20,273.50 L432.10,273.60 L432.99,273.73 L433.89,273.89 L434.79,274.07 L435.69,274.29 L436.58,274.52 L437.48,274.78 L438.38,275.06 L439.28,275.37 L440.17,275.69 L441.07,276.03 L441.97,276.38 L442.87,276.76 L443.76,277.14 L444.66,277.54 L445.56,277.95 L446.46,278.37 L447.35,278.81 L448.25,279.25 L449.15,279.69 L450.05,280.14 L450.94,280.60 L451.84,281.06 L452.74,281.52 L453.64,281.98 L454.53,282.44 L455.43,282.90 L456.33,283.36 L457.23,283.81 L458.12,284.25 L459.02,284.69 L459.92,285.12 L460.82,285.54 L461.71,285.95 L462.61,286.35 L463.51,286.73 L464.41,287.10 L465.30,287.46 L466.20,287.79 L467.10,288.11 L468.00,288.41 L468.89,288.69 L469.79,288.94 L470.69,289.18 L471.59,289.38 L472.48,289.56 L473.38,289.72 L474.28,289.85 L475.18,289.94 L476.07,290.01 L476.97,290.04 L477.87,290.04 L478.77,290.01 L479.66,289.94 L480.56,289.83 L481.46,289.68 L482.36,289.50 L483.25,289.27 L484.15,289.01 L485.05,288.70 L485.95,288.37 L486.84,287.99 L487.74,287.59 L488.64,287.15 L489.54,286.67 L490.43,286.17 L491.33,285.64 L492.23,285.08 L493.13,284.49 L494.02,283.88 L494.92,283.25 L495.82,282.59 L496.72,281.90 L497.61,281.20 L498.51,280.48 L499.41,279.73 L500.31,278.98 L501.20,278.20 L502.10,277.41 L503.00,276.60 L503.90,275.79 L504.79,274.96 L505.69,274.12 L506.59,273.27 L507.49,272.40 L508.38,271.53 L509.28,270.65 L510.18,269.76 L511.08,268.86 L511.97,267.95 L512.87,267.03 L513.77,266.11 L514.67,265.17 L515.56,264.23 L516.46,263.28 L517.36,262.32 L518.26,261.35 L519.15,260.38 L520.05,259.40 L520.95,258.41 L521.85,257.42 L522.74,256.42 L523.64,255.42 L524.54,254.41 L525.44,253.39 L526.33,252.37 L527.23,251.35 L528.13,250.32 L529.03,249.28 L529.92,248.25 L530.82,247.20 L531.72,246.16 L532.62,245.11 L533.51,244.06 L534.41,243.01 L535.31,241.95 L536.21,240.89 L537.10,239.83 L538.00,238.77" fill="none" stroke="#33a97a" stroke-width="1.6" stroke-dasharray="2.4 0.9" stroke-linejoin="round" stroke-linecap="butt" />
<path d="M431.20,276.04 L432.10,276.32 L432.99,276.62 L433.89,276.95 L434.79,277.31 L435.69,277.69 L436.58,278.09 L437.48,278.51 L438.38,278.94 L439.28,279.40 L440.17,279.87 L441.07,280.35 L441.97,280.85 L442.87,281.35 L443.76,281.87 L444.66,282.39 L445.56,282.92 L446.46,283.45 L447.35,283.98 L448.25,284.52 L449.15,285.06 L450.05,285.59 L450.94,286.12 L451.84,286.65 L452.74,287.17 L453.64,287.68 L454.53,288.19 L455.43,288.68 L456.33,289.16 L457.23,289.62 L458.12,290.07 L459.02,290.51 L459.92,290.92 L460.82,291.32 L461.71,291.69 L462.61,292.04 L463.51,292.36 L464.41,292.66 L465.30,292.93 L466.20,293.18 L467.10,293.39 L468.00,293.57 L468.89,293.71 L469.79,293.82 L470.69,293.89 L471.59,293.93 L472.48,293.92 L473.38,293.87 L474.28,293.78 L475.18,293.65 L476.07,293.47 L476.97,293.26 L477.87,293.00 L478.77,292.71 L479.66,292.38 L480.56,292.01 L481.46,291.61 L482.36,291.17 L483.25,290.71 L484.15,290.21 L485.05,289.69 L485.95,289.14 L486.84,288.56 L487.74,287.95 L488.64,287.32 L489.54,286.67 L490.43,286.00 L491.33,285.31 L492.23,284.60 L493.13,283.88 L494.02,283.13 L494.92,282.38 L495.82,281.61 L496.72,280.83 L497.61,280.03 L498.51,279.23 L499.41,278.42 L500.31,277.60 L501.20,276.78 L502.10,275.95 L503.00,275.12 L503.90,274.28 L504.79,273.43 L505.69,272.57 L506.59,271.71 L507.49,270.85 L508.38,269.98 L509.28,269.10 L510.18,268.22 L511.08,267.33 L511.97,266.43 L512.87,265.53 L513.77,264.63 L514.67,263.72 L515.56,262.80 L516.46,261.88 L517.36,260.95 L518.26,260.02 L519.15,259.08 L520.05,258.14 L520.95,257.19 L521.85,256.24 L522.74,255.29 L523.64,254.32 L524.54,253.36 L525.44,252.39 L526.33,251.41 L527.23,250.43 L528.13,249.45 L529.03,248.46 L529.92,247.47 L530.82,246.47 L531.72,245.47 L532.62,244.46 L533.51,243.45 L534.41,242.44 L535.31,241.42 L536.21,240.40 L537.10,239.38 L538.00,238.35" fill="none" stroke="#5b2585" stroke-width="1.6" stroke-dasharray="2.4 0.9" stroke-linejoin="round" stroke-linecap="butt" />
<path d="M431.20,284.51 L432.10,284.62 L432.99,284.75 L433.89,284.91 L434.79,285.10 L435.69,285.31 L436.58,285.54 L437.48,285.80 L438.38,286.07 L439.28,286.36 L440.17,286.66 L441.07,286.98 L441.97,287.31 L442.87,287.65 L443.76,288.00 L444.66,288.36 L445.56,288.72 L446.46,289.09 L447.35,289.47 L448.25,289.84 L449.15,290.22 L450.05,290.59 L450.94,290.96 L451.84,291.32 L452.74,291.68 L453.64,292.03 L454.53,292.37 L455.43,292.71 L456.33,293.02 L457.23,293.33 L458.12,293.62 L459.02,293.89 L459.92,294.14 L460.82,294.38 L461.71,294.59 L462.61,294.78 L463.51,294.94 L464.41,295.08 L465.30,295.19 L466.20,295.27 L467.10,295.32 L468.00,295.33 L468.89,295.32 L469.79,295.26 L470.69,295.17 L471.59,295.04 L472.48,294.87 L473.38,294.67 L474.28,294.42 L475.18,294.14 L476.07,293.83 L476.97,293.48 L477.87,293.10 L478.77,292.68 L479.66,292.24 L480.56,291.76 L481.46,291.26 L482.36,290.73 L483.25,290.18 L484.15,289.59 L485.05,288.99 L485.95,288.36 L486.84,287.71 L487.74,287.04 L488.64,286.34 L489.54,285.63 L490.43,284.90 L491.33,284.16 L492.23,283.40 L493.13,282.62 L494.02,281.84 L494.92,281.04 L495.82,280.22 L496.72,279.40 L497.61,278.57 L498.51,277.73 L499.41,276.89 L500.31,276.03 L501.20,275.17 L502.10,274.30 L503.00,273.43 L503.90,272.54 L504.79,271.66 L505.69,270.76 L506.59,269.86 L507.49,268.95 L508.38,268.03 L509.28,267.11 L510.18,266.18 L511.08,265.25 L511.97,264.31 L512.87,263.36 L513.77,262.41 L514.67,261.45 L515.56,260.49 L516.46,259.52 L517.36,258.55 L518.26,257.57 L519.15,256.59 L520.05,255.60 L520.95,254.61 L521.85,253.61 L522.74,252.61 L523.64,251.60 L524.54,250.59 L525.44,249.57 L526.33,248.55 L527.23,247.53 L528.13,246.50 L529.03,245.47 L529.92,244.43 L530.82,243.39 L531.72,242.35 L532.62,241.30 L533.51,240.25 L534.41,239.20 L535.31,238.14 L536.21,237.08 L537.10,236.02 L538.00,234.96" fill="none" stroke="#f39a2b" stroke-width="1.6" stroke-dasharray="2.4 0.9" stroke-linejoin="round" stroke-linecap="butt" />
<path d="M431.20,296.79 L432.10,297.01 L432.99,297.26 L433.89,297.53 L434.79,297.82 L435.69,298.13 L436.58,298.46 L437.48,298.81 L438.38,299.18 L439.28,299.55 L440.17,299.94 L441.07,300.34 L441.97,300.75 L442.87,301.16 L443.76,301.58 L444.66,302.00 L445.56,302.43 L446.46,302.85 L447.35,303.28 L448.25,303.69 L449.15,304.11 L450.05,304.51 L450.94,304.91 L451.84,305.30 L452.74,305.68 L453.64,306.04 L454.53,306.39 L455.43,306.71 L456.33,307.03 L457.23,307.32 L458.12,307.58 L459.02,307.83 L459.92,308.04 L460.82,308.24 L461.71,308.40 L462.61,308.53 L463.51,308.63 L464.41,308.69 L465.30,308.72 L466.20,308.71 L467.10,308.66 L468.00,308.57 L468.89,308.44 L469.79,308.27 L470.69,308.06 L471.59,307.82 L472.48,307.54 L473.38,307.22 L474.28,306.88 L475.18,306.49 L476.07,306.08 L476.97,305.64 L477.87,305.17 L478.77,304.67 L479.66,304.15 L480.56,303.60 L481.46,303.02 L482.36,302.42 L483.25,301.80 L484.15,301.16 L485.05,300.50 L485.95,299.82 L486.84,299.12 L487.74,298.41 L488.64,297.68 L489.54,296.94 L490.43,296.18 L491.33,295.42 L492.23,294.64 L493.13,293.85 L494.02,293.06 L494.92,292.25 L495.82,291.45 L496.72,290.63 L497.61,289.81 L498.51,288.99 L499.41,288.16 L500.31,287.32 L501.20,286.48 L502.10,285.64 L503.00,284.79 L503.90,283.94 L504.79,283.08 L505.69,282.21 L506.59,281.34 L507.49,280.47 L508.38,279.59 L509.28,278.71 L510.18,277.82 L511.08,276.92 L511.97,276.03 L512.87,275.12 L513.77,274.22 L514.67,273.31 L515.56,272.39 L516.46,271.47 L517.36,270.54 L518.26,269.61 L519.15,268.68 L520.05,267.74 L520.95,266.80 L521.85,265.85 L522.74,264.90 L523.64,263.94 L524.54,262.98 L525.44,262.02 L526.33,261.05 L527.23,260.08 L528.13,259.10 L529.03,258.12 L529.92,257.13 L530.82,256.14 L531.72,255.15 L532.62,254.15 L533.51,253.15 L534.41,252.15 L535.31,251.14 L536.21,250.12 L537.10,249.11 L538.00,248.09" fill="none" stroke="#2ac5cc" stroke-width="1.6" stroke-dasharray="2.4 0.9" stroke-linejoin="round" stroke-linecap="butt" />
</g>
<line x1="444.80" y1="234.90" x2="456.80" y2="234.90" stroke="#3b84d8" stroke-width="1.0" />
<circle cx="450.80" cy="234.90" r="1.1" fill="#3b84d8"/>
<text x="458.30" y="235.10" font-size="5.6" fill="#222" text-anchor="start" font-weight="bold" dominant-baseline="central"  stroke="#222" stroke-width="0.18">1×10<tspan dy="-2.2" font-size="3.8">5</tspan><tspan dy="2.2">/mL</tspan></text>
<line x1="483.30" y1="234.90" x2="495.30" y2="234.90" stroke="#33a97a" stroke-width="1.0" />
<circle cx="489.30" cy="234.90" r="1.1" fill="#33a97a"/>
<text x="496.80" y="235.10" font-size="5.6" fill="#222" text-anchor="start" font-weight="bold" dominant-baseline="central"  stroke="#222" stroke-width="0.18">2×10<tspan dy="-2.2" font-size="3.8">5</tspan><tspan dy="2.2">/mL</tspan></text>
<line x1="444.80" y1="242.60" x2="456.80" y2="242.60" stroke="#5b2585" stroke-width="1.0" />
<circle cx="450.80" cy="242.60" r="1.1" fill="#5b2585"/>
<text x="458.30" y="242.80" font-size="5.6" fill="#222" text-anchor="start" font-weight="bold" dominant-baseline="central"  stroke="#222" stroke-width="0.18">3×10<tspan dy="-2.2" font-size="3.8">5</tspan><tspan dy="2.2">/mL</tspan></text>
<line x1="483.30" y1="242.60" x2="495.30" y2="242.60" stroke="#f39a2b" stroke-width="1.0" />
<circle cx="489.30" cy="242.60" r="1.1" fill="#f39a2b"/>
<text x="496.80" y="242.80" font-size="5.6" fill="#222" text-anchor="start" font-weight="bold" dominant-baseline="central"  stroke="#222" stroke-width="0.18">4×10<tspan dy="-2.2" font-size="3.8">5</tspan><tspan dy="2.2">/mL</tspan></text>
<line x1="444.80" y1="250.10" x2="456.80" y2="250.10" stroke="#2ac5cc" stroke-width="1.0" />
<circle cx="450.80" cy="250.10" r="1.1" fill="#2ac5cc"/>
<text x="458.30" y="250.30" font-size="5.6" fill="#222" text-anchor="start" font-weight="bold" dominant-baseline="central"  stroke="#222" stroke-width="0.18">5×10<tspan dy="-2.2" font-size="3.8">5</tspan><tspan dy="2.2">/mL</tspan></text>
<line x1="431.20" y1="230.30" x2="538.00" y2="230.30" stroke="#555" stroke-width="0.9" />
<line x1="538.00" y1="230.30" x2="538.00" y2="315.00" stroke="#555" stroke-width="0.9" />
<line x1="431.20" y1="230.30" x2="431.20" y2="315.00" stroke="#444" stroke-width="1.0" />
<line x1="431.20" y1="315.00" x2="538.00" y2="315.00" stroke="#444" stroke-width="1.0" />
<line x1="428.70" y1="230.30" x2="431.20" y2="230.30" stroke="#444" stroke-width="0.8" />
<text x="428.00" y="230.50" font-size="7.3" fill="#111" text-anchor="end" font-weight="bold" dominant-baseline="central"  stroke="#111" stroke-width="0.18">-9.0</text>
<line x1="428.70" y1="251.48" x2="431.20" y2="251.48" stroke="#444" stroke-width="0.8" />
<text x="428.00" y="251.68" font-size="7.3" fill="#111" text-anchor="end" font-weight="bold" dominant-baseline="central"  stroke="#111" stroke-width="0.18">-9.5</text>
<line x1="428.70" y1="272.65" x2="431.20" y2="272.65" stroke="#444" stroke-width="0.8" />
<text x="428.00" y="272.85" font-size="7.3" fill="#111" text-anchor="end" font-weight="bold" dominant-baseline="central"  stroke="#111" stroke-width="0.18">-10.0</text>
<line x1="428.70" y1="293.82" x2="431.20" y2="293.82" stroke="#444" stroke-width="0.8" />
<text x="428.00" y="294.02" font-size="7.3" fill="#111" text-anchor="end" font-weight="bold" dominant-baseline="central"  stroke="#111" stroke-width="0.18">-10.5</text>
<line x1="428.70" y1="315.00" x2="431.20" y2="315.00" stroke="#444" stroke-width="0.8" />
<text x="428.00" y="315.20" font-size="7.3" fill="#111" text-anchor="end" font-weight="bold" dominant-baseline="central"  stroke="#111" stroke-width="0.18">-11.0</text>
<line x1="431.20" y1="315.00" x2="431.20" y2="313.00" stroke="#444" stroke-width="0.8" />
<text x="431.20" y="320.80" font-size="7.0" fill="#111" text-anchor="middle" font-weight="bold" dominant-baseline="central"  stroke="#111" stroke-width="0.18">3.9</text>
<line x1="457.90" y1="315.00" x2="457.90" y2="313.00" stroke="#444" stroke-width="0.8" />
<text x="457.90" y="320.80" font-size="7.0" fill="#111" text-anchor="middle" font-weight="bold" dominant-baseline="central"  stroke="#111" stroke-width="0.18">4.0</text>
<line x1="484.60" y1="315.00" x2="484.60" y2="313.00" stroke="#444" stroke-width="0.8" />
<text x="484.60" y="320.80" font-size="7.0" fill="#111" text-anchor="middle" font-weight="bold" dominant-baseline="central"  stroke="#111" stroke-width="0.18">4.1</text>
<line x1="511.30" y1="315.00" x2="511.30" y2="313.00" stroke="#444" stroke-width="0.8" />
<text x="511.30" y="320.80" font-size="7.0" fill="#111" text-anchor="middle" font-weight="bold" dominant-baseline="central"  stroke="#111" stroke-width="0.18">4.2</text>
<line x1="538.00" y1="315.00" x2="538.00" y2="313.00" stroke="#444" stroke-width="0.8" />
<text x="538.00" y="320.80" font-size="7.0" fill="#111" text-anchor="middle" font-weight="bold" dominant-baseline="central"  stroke="#111" stroke-width="0.18">4.3</text>
<text x="485.10" y="328.00" font-size="9.6" fill="#111" text-anchor="middle" font-weight="bold" dominant-baseline="central"  stroke="#111" stroke-width="0.35">Frequency(GHz)</text>
<text x="408.50" y="270.80" font-size="9.0" fill="#111" text-anchor="middle" font-weight="bold" transform="rotate(-90 408.50 270.80)" dominant-baseline="central"  stroke="#111" stroke-width="0.35">S-Parameter(dB)</text>
<text x="461.40" y="261.60" font-size="9.3" fill="#5e2b86" text-anchor="start" font-weight="bold" dominant-baseline="central"  stroke="#5e2b86" stroke-width="0.35">Resonator-4</text>
<text x="415.50" y="221.60" font-size="9.2" fill="#333" text-anchor="start" font-weight="normal" dominant-baseline="central"  stroke="#333" stroke-width="0.2">(iv)</text>
<path d="M192,347.0 L24.8,347.0 A21.0,21.0 0 0 0 3.8,368.0 L3.8,440.5 A21.0,21.0 0 0 0 24.8,461.5 L526.8,461.5 A21.0,21.0 0 0 0 547.8,440.5 L547.8,368.0 A21.0,21.0 0 0 0 526.8,347.0 L352.7,347.0" fill="none" stroke="#3bb6c6" stroke-width="1.6" stroke-dasharray="3.8 2.0"/>
<text x="7.30" y="346.60" font-size="12.5" fill="#111" text-anchor="start" font-weight="bold" dominant-baseline="central"  stroke="#111" stroke-width="0.45">d</text>
<text x="208.20" y="346.80" font-size="11.2" fill="#22a7c1" text-anchor="start" font-weight="bold" dominant-baseline="central"  stroke="#22a7c1" stroke-width="0.45">Capacitor results in <tspan font-style="italic">E. coli</tspan></text>
<rect x="31.80" y="366.80" width="72.00" height="13.20" stroke="#bbb" stroke-width="0.5" fill="#fff" />
<rect x="37.50" y="369.70" width="2.4" height="2.4" fill="#111"/>
<text x="45.30" y="371.00" font-size="5.0" fill="#222" text-anchor="start" font-weight="bold" dominant-baseline="central"  stroke="#222" stroke-width="0.18">Mean value with error bar</text>
<line x1="33.10" y1="377.00" x2="43.80" y2="377.00" stroke="#ea4a4a" stroke-width="0.8" />
<text x="45.30" y="377.30" font-size="5.0" fill="#222" text-anchor="start" font-weight="bold" dominant-baseline="central"  stroke="#222" stroke-width="0.18">Linearly fitted value</text>
<clipPath id="ins1"><rect x="96.60" y="413.40" width="38.20" height="27.50"/></clipPath>
<g clip-path="url(#ins1)">
<rect x="96.60" y="413.40" width="38.20" height="27.50" fill="#a6a6a4"/>
<path d="M104.24,440.90 L134.80,435.40 L134.80,440.90 Z" fill="#d8d8d6"/>
<path d="M103.86,416.15 L116.08,414.22 L121.43,423.57 L106.91,426.46 Z" fill="#cdc63c"/>
<line x1="100.42" y1="420.27" x2="102.33" y2="434.85" stroke="#d4cc50" stroke-width="0.6" />
<line x1="119.52" y1="416.70" x2="130.22" y2="428.52" stroke="#d4cc50" stroke-width="0.6" />
<line x1="98.51" y1="421.65" x2="100.42" y2="435.40" stroke="#d4cc50" stroke-width="0.6" />
<ellipse cx="102.71" cy="436.50" rx="2.20" ry="3.40" transform="rotate(-20 102.71 436.50)" fill="#efe414"/>
<ellipse cx="131.55" cy="430.17" rx="2.10" ry="3.00" transform="rotate(-30 131.55 430.17)" fill="#efe414"/>
</g>
<line x1="42.70" y1="420.00" x2="42.70" y2="425.00" stroke="#c8c8c8" stroke-width="0.6" />
<line x1="41.20" y1="420.00" x2="44.20" y2="420.00" stroke="#c8c8c8" stroke-width="0.5" />
<line x1="41.20" y1="425.00" x2="44.20" y2="425.00" stroke="#c8c8c8" stroke-width="0.5" />
<line x1="63.20" y1="418.20" x2="63.20" y2="422.20" stroke="#c8c8c8" stroke-width="0.6" />
<line x1="61.70" y1="418.20" x2="64.70" y2="418.20" stroke="#c8c8c8" stroke-width="0.5" />
<line x1="61.70" y1="422.20" x2="64.70" y2="422.20" stroke="#c8c8c8" stroke-width="0.5" />
<line x1="83.60" y1="408.80" x2="83.60" y2="414.80" stroke="#c8c8c8" stroke-width="0.6" />
<line x1="82.10" y1="408.80" x2="85.10" y2="408.80" stroke="#c8c8c8" stroke-width="0.5" />
<line x1="82.10" y1="414.80" x2="85.10" y2="414.80" stroke="#c8c8c8" stroke-width="0.5" />
<line x1="103.60" y1="396.20" x2="103.60" y2="409.20" stroke="#c8c8c8" stroke-width="0.6" />
<line x1="102.10" y1="396.20" x2="105.10" y2="396.20" stroke="#c8c8c8" stroke-width="0.5" />
<line x1="102.10" y1="409.20" x2="105.10" y2="409.20" stroke="#c8c8c8" stroke-width="0.5" />
<line x1="124.00" y1="377.30" x2="124.00" y2="397.30" stroke="#c8c8c8" stroke-width="0.6" />
<line x1="122.50" y1="377.30" x2="125.50" y2="377.30" stroke="#c8c8c8" stroke-width="0.5" />
<line x1="122.50" y1="397.30" x2="125.50" y2="397.30" stroke="#c8c8c8" stroke-width="0.5" />
<line x1="42.70" y1="424.80" x2="124.00" y2="396.40" stroke="#ea5a5a" stroke-width="0.9" />
<rect x="41.40" y="421.20" width="2.6" height="2.6" fill="#111"/>
<rect x="61.90" y="418.90" width="2.6" height="2.6" fill="#111"/>
<rect x="82.30" y="410.50" width="2.6" height="2.6" fill="#111"/>
<rect x="102.30" y="401.40" width="2.6" height="2.6" fill="#111"/>
<rect x="122.70" y="386.00" width="2.6" height="2.6" fill="#111"/>
<line x1="31.80" y1="366.80" x2="134.80" y2="366.80" stroke="#777" stroke-width="0.7" />
<line x1="134.80" y1="366.80" x2="134.80" y2="441.40" stroke="#777" stroke-width="0.7" />
<line x1="31.80" y1="366.80" x2="31.80" y2="441.40" stroke="#444" stroke-width="0.9" />
<line x1="31.80" y1="441.40" x2="134.80" y2="441.40" stroke="#444" stroke-width="0.9" />
<line x1="29.80" y1="441.40" x2="31.80" y2="441.40" stroke="#444" stroke-width="0.7" />
<text x="29.60" y="441.60" font-size="6.2" fill="#111" text-anchor="end" font-weight="bold" dominant-baseline="central"  stroke="#111" stroke-width="0.18">0</text>
<line x1="29.80" y1="430.74" x2="31.80" y2="430.74" stroke="#444" stroke-width="0.7" />
<text x="29.60" y="430.94" font-size="6.2" fill="#111" text-anchor="end" font-weight="bold" dominant-baseline="central"  stroke="#111" stroke-width="0.18">50</text>
<line x1="29.80" y1="420.09" x2="31.80" y2="420.09" stroke="#444" stroke-width="0.7" />
<text x="29.60" y="420.29" font-size="6.2" fill="#111" text-anchor="end" font-weight="bold" dominant-baseline="central"  stroke="#111" stroke-width="0.18">100</text>
<line x1="29.80" y1="409.43" x2="31.80" y2="409.43" stroke="#444" stroke-width="0.7" />
<text x="29.60" y="409.63" font-size="6.2" fill="#111" text-anchor="end" font-weight="bold" dominant-baseline="central"  stroke="#111" stroke-width="0.18">150</text>
<line x1="29.80" y1="398.77" x2="31.80" y2="398.77" stroke="#444" stroke-width="0.7" />
<text x="29.60" y="398.97" font-size="6.2" fill="#111" text-anchor="end" font-weight="bold" dominant-baseline="central"  stroke="#111" stroke-width="0.18">200</text>
<line x1="29.80" y1="388.11" x2="31.80" y2="388.11" stroke="#444" stroke-width="0.7" />
<text x="29.60" y="388.31" font-size="6.2" fill="#111" text-anchor="end" font-weight="bold" dominant-baseline="central"  stroke="#111" stroke-width="0.18">250</text>
<line x1="29.80" y1="377.46" x2="31.80" y2="377.46" stroke="#444" stroke-width="0.7" />
<text x="29.60" y="377.66" font-size="6.2" fill="#111" text-anchor="end" font-weight="bold" dominant-baseline="central"  stroke="#111" stroke-width="0.18">300</text>
<line x1="29.80" y1="366.80" x2="31.80" y2="366.80" stroke="#444" stroke-width="0.7" />
<text x="29.60" y="367.00" font-size="6.2" fill="#111" text-anchor="end" font-weight="bold" dominant-baseline="central"  stroke="#111" stroke-width="0.18">350</text>
<line x1="42.70" y1="441.40" x2="42.70" y2="443.40" stroke="#444" stroke-width="0.7" />
<text x="42.70" y="447.40" font-size="6.6" fill="#111" text-anchor="middle" font-weight="bold" dominant-baseline="central"  stroke="#111" stroke-width="0.18">1</text>
<line x1="63.20" y1="441.40" x2="63.20" y2="443.40" stroke="#444" stroke-width="0.7" />
<text x="63.20" y="447.40" font-size="6.6" fill="#111" text-anchor="middle" font-weight="bold" dominant-baseline="central"  stroke="#111" stroke-width="0.18">2</text>
<line x1="83.60" y1="441.40" x2="83.60" y2="443.40" stroke="#444" stroke-width="0.7" />
<text x="83.60" y="447.40" font-size="6.6" fill="#111" text-anchor="middle" font-weight="bold" dominant-baseline="central"  stroke="#111" stroke-width="0.18">3</text>
<line x1="103.60" y1="441.40" x2="103.60" y2="443.40" stroke="#444" stroke-width="0.7" />
<text x="103.60" y="447.40" font-size="6.6" fill="#111" text-anchor="middle" font-weight="bold" dominant-baseline="central"  stroke="#111" stroke-width="0.18">4</text>
<line x1="124.00" y1="441.40" x2="124.00" y2="443.40" stroke="#444" stroke-width="0.7" />
<text x="124.00" y="447.40" font-size="6.6" fill="#111" text-anchor="middle" font-weight="bold" dominant-baseline="central"  stroke="#111" stroke-width="0.18">5</text>
<text x="43.90" y="395.20" font-size="6.8" fill="#222" text-anchor="start" font-weight="bold" dominant-baseline="central"  stroke="#222" stroke-width="0.18">y=46.484+32.86x</text>
<text x="43.90" y="402.70" font-size="6.8" fill="#222" text-anchor="start" font-weight="bold" dominant-baseline="central"  stroke="#222" stroke-width="0.18">R<tspan dy="-2.4" font-size="4.4">2</tspan><tspan dy="2.4">=0.847</tspan></text>
<text x="43.90" y="431.60" font-size="9.3" fill="#22a7c1" text-anchor="start" font-weight="bold" dominant-baseline="central"  stroke="#22a7c1" stroke-width="0.35">Capacitor-1</text>
<text x="21.00" y="358.60" font-size="9.3" fill="#333" text-anchor="start" font-weight="normal" dominant-baseline="central"  stroke="#333" stroke-width="0.2">(i)</text>
<text x="16.00" y="402.40" font-size="8.0" fill="#111" text-anchor="middle" font-weight="bold" transform="rotate(-90 16.00 402.40)" dominant-baseline="central"  stroke="#111" stroke-width="0.35">Capacitance(nF)</text>
<text x="83.10" y="453.80" font-size="8.8" fill="#111" text-anchor="middle" font-weight="bold" dominant-baseline="central"  stroke="#111" stroke-width="0.35">Concentration(×10<tspan dy="-3.2" font-size="5.5">5</tspan><tspan dy="3.2">/mL)</tspan></text>
<rect x="165.70" y="367.00" width="72.00" height="13.20" stroke="#bbb" stroke-width="0.5" fill="#fff" />
<rect x="171.40" y="369.90" width="2.4" height="2.4" fill="#111"/>
<text x="179.20" y="371.20" font-size="5.0" fill="#222" text-anchor="start" font-weight="bold" dominant-baseline="central"  stroke="#222" stroke-width="0.18">Mean value with error bar</text>
<line x1="167.00" y1="377.20" x2="177.70" y2="377.20" stroke="#ea4a4a" stroke-width="0.8" />
<text x="179.20" y="377.50" font-size="5.0" fill="#222" text-anchor="start" font-weight="bold" dominant-baseline="central"  stroke="#222" stroke-width="0.18">Linearly fitted value</text>
<clipPath id="ins2"><rect x="230.50" y="412.40" width="39.20" height="30.10"/></clipPath>
<g clip-path="url(#ins2)">
<rect x="230.50" y="412.40" width="39.20" height="30.10" fill="#a6a6a4"/>
<path d="M238.34,442.50 L269.70,436.48 L269.70,442.50 Z" fill="#d8d8d6"/>
<path d="M237.95,415.41 L250.49,413.30 L255.98,423.54 L241.08,426.70 Z" fill="#cdc63c"/>
<line x1="234.42" y1="419.92" x2="236.38" y2="435.88" stroke="#d4cc50" stroke-width="0.6" />
<line x1="254.02" y1="416.01" x2="265.00" y2="428.95" stroke="#d4cc50" stroke-width="0.6" />
<line x1="232.46" y1="421.43" x2="234.42" y2="436.48" stroke="#d4cc50" stroke-width="0.6" />
<ellipse cx="236.77" cy="437.68" rx="2.20" ry="3.40" transform="rotate(-20 236.77 437.68)" fill="#efe414"/>
<ellipse cx="266.37" cy="430.76" rx="2.10" ry="3.00" transform="rotate(-30 266.37 430.76)" fill="#efe414"/>
</g>
<line x1="176.00" y1="416.30" x2="176.00" y2="424.30" stroke="#c8c8c8" stroke-width="0.6" />
<line x1="174.50" y1="416.30" x2="177.50" y2="416.30" stroke="#c8c8c8" stroke-width="0.5" />
<line x1="174.50" y1="424.30" x2="177.50" y2="424.30" stroke="#c8c8c8" stroke-width="0.5" />
<line x1="196.20" y1="415.00" x2="196.20" y2="423.00" stroke="#c8c8c8" stroke-width="0.6" />
<line x1="194.70" y1="415.00" x2="197.70" y2="415.00" stroke="#c8c8c8" stroke-width="0.5" />
<line x1="194.70" y1="423.00" x2="197.70" y2="423.00" stroke="#c8c8c8" stroke-width="0.5" />
<line x1="217.00" y1="407.40" x2="217.00" y2="417.40" stroke="#c8c8c8" stroke-width="0.6" />
<line x1="215.50" y1="407.40" x2="218.50" y2="407.40" stroke="#c8c8c8" stroke-width="0.5" />
<line x1="215.50" y1="417.40" x2="218.50" y2="417.40" stroke="#c8c8c8" stroke-width="0.5" />
<line x1="237.30" y1="395.70" x2="237.30" y2="409.70" stroke="#c8c8c8" stroke-width="0.6" />
<line x1="235.80" y1="395.70" x2="238.80" y2="395.70" stroke="#c8c8c8" stroke-width="0.5" />
<line x1="235.80" y1="409.70" x2="238.80" y2="409.70" stroke="#c8c8c8" stroke-width="0.5" />
<line x1="257.60" y1="376.80" x2="257.60" y2="398.80" stroke="#c8c8c8" stroke-width="0.6" />
<line x1="256.10" y1="376.80" x2="259.10" y2="376.80" stroke="#c8c8c8" stroke-width="0.5" />
<line x1="256.10" y1="398.80" x2="259.10" y2="398.80" stroke="#c8c8c8" stroke-width="0.5" />
<line x1="176.00" y1="423.80" x2="257.60" y2="395.40" stroke="#ea5a5a" stroke-width="0.9" />
<rect x="174.70" y="419.00" width="2.6" height="2.6" fill="#111"/>
<rect x="194.90" y="417.70" width="2.6" height="2.6" fill="#111"/>
<rect x="215.70" y="411.10" width="2.6" height="2.6" fill="#111"/>
<rect x="236.00" y="401.40" width="2.6" height="2.6" fill="#111"/>
<rect x="256.30" y="386.50" width="2.6" height="2.6" fill="#111"/>
<line x1="165.70" y1="367.00" x2="269.70" y2="367.00" stroke="#777" stroke-width="0.7" />
<line x1="269.70" y1="367.00" x2="269.70" y2="442.70" stroke="#777" stroke-width="0.7" />
<line x1="165.70" y1="367.00" x2="165.70" y2="442.70" stroke="#444" stroke-width="0.9" />
<line x1="165.70" y1="442.70" x2="269.70" y2="442.70" stroke="#444" stroke-width="0.9" />
<line x1="163.70" y1="442.70" x2="165.70" y2="442.70" stroke="#444" stroke-width="0.7" />
<text x="163.50" y="442.90" font-size="6.2" fill="#111" text-anchor="end" font-weight="bold" dominant-baseline="central"  stroke="#111" stroke-width="0.18">0</text>
<line x1="163.70" y1="423.77" x2="165.70" y2="423.77" stroke="#444" stroke-width="0.7" />
<text x="163.50" y="423.97" font-size="6.2" fill="#111" text-anchor="end" font-weight="bold" dominant-baseline="central"  stroke="#111" stroke-width="0.18">50</text>
<line x1="163.70" y1="404.85" x2="165.70" y2="404.85" stroke="#444" stroke-width="0.7" />
<text x="163.50" y="405.05" font-size="6.2" fill="#111" text-anchor="end" font-weight="bold" dominant-baseline="central"  stroke="#111" stroke-width="0.18">100</text>
<line x1="163.70" y1="385.93" x2="165.70" y2="385.93" stroke="#444" stroke-width="0.7" />
<text x="163.50" y="386.12" font-size="6.2" fill="#111" text-anchor="end" font-weight="bold" dominant-baseline="central"  stroke="#111" stroke-width="0.18">150</text>
<line x1="163.70" y1="367.00" x2="165.70" y2="367.00" stroke="#444" stroke-width="0.7" />
<text x="163.50" y="367.20" font-size="6.2" fill="#111" text-anchor="end" font-weight="bold" dominant-baseline="central"  stroke="#111" stroke-width="0.18">200</text>
<line x1="176.00" y1="442.70" x2="176.00" y2="444.70" stroke="#444" stroke-width="0.7" />
<text x="176.00" y="447.40" font-size="6.6" fill="#111" text-anchor="middle" font-weight="bold" dominant-baseline="central"  stroke="#111" stroke-width="0.18">1</text>
<line x1="196.20" y1="442.70" x2="196.20" y2="444.70" stroke="#444" stroke-width="0.7" />
<text x="196.20" y="447.40" font-size="6.6" fill="#111" text-anchor="middle" font-weight="bold" dominant-baseline="central"  stroke="#111" stroke-width="0.18">2</text>
<line x1="217.00" y1="442.70" x2="217.00" y2="444.70" stroke="#444" stroke-width="0.7" />
<text x="217.00" y="447.40" font-size="6.6" fill="#111" text-anchor="middle" font-weight="bold" dominant-baseline="central"  stroke="#111" stroke-width="0.18">3</text>
<line x1="237.30" y1="442.70" x2="237.30" y2="444.70" stroke="#444" stroke-width="0.7" />
<text x="237.30" y="447.40" font-size="6.6" fill="#111" text-anchor="middle" font-weight="bold" dominant-baseline="central"  stroke="#111" stroke-width="0.18">4</text>
<line x1="257.60" y1="442.70" x2="257.60" y2="444.70" stroke="#444" stroke-width="0.7" />
<text x="257.60" y="447.40" font-size="6.6" fill="#111" text-anchor="middle" font-weight="bold" dominant-baseline="central"  stroke="#111" stroke-width="0.18">5</text>
<text x="176.50" y="393.50" font-size="6.8" fill="#222" text-anchor="start" font-weight="bold" dominant-baseline="central"  stroke="#222" stroke-width="0.18">y=30.539+18.75x</text>
<text x="176.50" y="402.70" font-size="6.8" fill="#222" text-anchor="start" font-weight="bold" dominant-baseline="central"  stroke="#222" stroke-width="0.18">R<tspan dy="-2.4" font-size="4.4">2</tspan><tspan dy="2.4">=0.819</tspan></text>
<text x="173.00" y="432.00" font-size="9.3" fill="#22a7c1" text-anchor="start" font-weight="bold" dominant-baseline="central"  stroke="#22a7c1" stroke-width="0.35">Capacitor- 2</text>
<text x="145.40" y="358.60" font-size="9.3" fill="#333" text-anchor="start" font-weight="normal" dominant-baseline="central"  stroke="#333" stroke-width="0.2">(ii)</text>
<text x="150.00" y="402.40" font-size="8.0" fill="#111" text-anchor="middle" font-weight="bold" transform="rotate(-90 150.00 402.40)" dominant-baseline="central"  stroke="#111" stroke-width="0.35">Capacitance(nF)</text>
<text x="217.50" y="455.50" font-size="8.8" fill="#111" text-anchor="middle" font-weight="bold" dominant-baseline="central"  stroke="#111" stroke-width="0.35">Concentration(×10<tspan dy="-3.2" font-size="5.5">5</tspan><tspan dy="3.2">/mL)</tspan></text>
<rect x="298.40" y="367.30" width="72.00" height="13.20" stroke="#bbb" stroke-width="0.5" fill="#fff" />
<rect x="304.10" y="370.20" width="2.4" height="2.4" fill="#111"/>
<text x="311.90" y="371.50" font-size="5.0" fill="#222" text-anchor="start" font-weight="bold" dominant-baseline="central"  stroke="#222" stroke-width="0.18">Mean value with error bar</text>
<line x1="299.70" y1="377.50" x2="310.40" y2="377.50" stroke="#ea4a4a" stroke-width="0.8" />
<text x="311.90" y="377.80" font-size="5.0" fill="#222" text-anchor="start" font-weight="bold" dominant-baseline="central"  stroke="#222" stroke-width="0.18">Linearly fitted value</text>
<clipPath id="ins3"><rect x="362.80" y="413.60" width="38.70" height="28.40"/></clipPath>
<g clip-path="url(#ins3)">
<rect x="362.80" y="413.60" width="38.70" height="28.40" fill="#a6a6a4"/>
<path d="M370.54,442.00 L401.50,436.32 L401.50,442.00 Z" fill="#d8d8d6"/>
<path d="M370.15,416.44 L382.54,414.45 L387.95,424.11 L373.25,427.09 Z" fill="#cdc63c"/>
<line x1="366.67" y1="420.70" x2="368.61" y2="435.75" stroke="#d4cc50" stroke-width="0.6" />
<line x1="386.02" y1="417.01" x2="396.86" y2="429.22" stroke="#d4cc50" stroke-width="0.6" />
<line x1="364.74" y1="422.12" x2="366.67" y2="436.32" stroke="#d4cc50" stroke-width="0.6" />
<ellipse cx="368.99" cy="437.46" rx="2.20" ry="3.40" transform="rotate(-20 368.99 437.46)" fill="#efe414"/>
<ellipse cx="398.21" cy="430.92" rx="2.10" ry="3.00" transform="rotate(-30 398.21 430.92)" fill="#efe414"/>
</g>
<line x1="308.90" y1="426.20" x2="308.90" y2="434.20" stroke="#c8c8c8" stroke-width="0.6" />
<line x1="307.40" y1="426.20" x2="310.40" y2="426.20" stroke="#c8c8c8" stroke-width="0.5" />
<line x1="307.40" y1="434.20" x2="310.40" y2="434.20" stroke="#c8c8c8" stroke-width="0.5" />
<line x1="329.20" y1="412.20" x2="329.20" y2="424.20" stroke="#c8c8c8" stroke-width="0.6" />
<line x1="327.70" y1="412.20" x2="330.70" y2="412.20" stroke="#c8c8c8" stroke-width="0.5" />
<line x1="327.70" y1="424.20" x2="330.70" y2="424.20" stroke="#c8c8c8" stroke-width="0.5" />
<line x1="349.60" y1="394.00" x2="349.60" y2="414.00" stroke="#c8c8c8" stroke-width="0.6" />
<line x1="348.10" y1="394.00" x2="351.10" y2="394.00" stroke="#c8c8c8" stroke-width="0.5" />
<line x1="348.10" y1="414.00" x2="351.10" y2="414.00" stroke="#c8c8c8" stroke-width="0.5" />
<line x1="370.40" y1="385.30" x2="370.40" y2="401.30" stroke="#c8c8c8" stroke-width="0.6" />
<line x1="368.90" y1="385.30" x2="371.90" y2="385.30" stroke="#c8c8c8" stroke-width="0.5" />
<line x1="368.90" y1="401.30" x2="371.90" y2="401.30" stroke="#c8c8c8" stroke-width="0.5" />
<line x1="390.80" y1="379.60" x2="390.80" y2="391.60" stroke="#c8c8c8" stroke-width="0.6" />
<line x1="389.30" y1="379.60" x2="392.30" y2="379.60" stroke="#c8c8c8" stroke-width="0.5" />
<line x1="389.30" y1="391.60" x2="392.30" y2="391.60" stroke="#c8c8c8" stroke-width="0.5" />
<line x1="308.90" y1="431.00" x2="390.80" y2="384.40" stroke="#ea5a5a" stroke-width="0.9" />
<rect x="307.60" y="428.90" width="2.6" height="2.6" fill="#111"/>
<rect x="327.90" y="416.90" width="2.6" height="2.6" fill="#111"/>
<rect x="348.30" y="402.70" width="2.6" height="2.6" fill="#111"/>
<rect x="369.10" y="392.00" width="2.6" height="2.6" fill="#111"/>
<rect x="389.50" y="384.30" width="2.6" height="2.6" fill="#111"/>
<line x1="298.40" y1="367.30" x2="401.50" y2="367.30" stroke="#777" stroke-width="0.7" />
<line x1="401.50" y1="367.30" x2="401.50" y2="442.10" stroke="#777" stroke-width="0.7" />
<line x1="298.40" y1="367.30" x2="298.40" y2="442.10" stroke="#444" stroke-width="0.9" />
<line x1="298.40" y1="442.10" x2="401.50" y2="442.10" stroke="#444" stroke-width="0.9" />
<line x1="296.40" y1="442.10" x2="298.40" y2="442.10" stroke="#444" stroke-width="0.7" />
<text x="296.20" y="442.30" font-size="6.2" fill="#111" text-anchor="end" font-weight="bold" dominant-baseline="central"  stroke="#111" stroke-width="0.18">20</text>
<line x1="296.40" y1="429.63" x2="298.40" y2="429.63" stroke="#444" stroke-width="0.7" />
<text x="296.20" y="429.83" font-size="6.2" fill="#111" text-anchor="end" font-weight="bold" dominant-baseline="central"  stroke="#111" stroke-width="0.18">40</text>
<line x1="296.40" y1="417.17" x2="298.40" y2="417.17" stroke="#444" stroke-width="0.7" />
<text x="296.20" y="417.37" font-size="6.2" fill="#111" text-anchor="end" font-weight="bold" dominant-baseline="central"  stroke="#111" stroke-width="0.18">60</text>
<line x1="296.40" y1="404.70" x2="298.40" y2="404.70" stroke="#444" stroke-width="0.7" />
<text x="296.20" y="404.90" font-size="6.2" fill="#111" text-anchor="end" font-weight="bold" dominant-baseline="central"  stroke="#111" stroke-width="0.18">80</text>
<line x1="296.40" y1="392.23" x2="298.40" y2="392.23" stroke="#444" stroke-width="0.7" />
<text x="296.20" y="392.43" font-size="6.2" fill="#111" text-anchor="end" font-weight="bold" dominant-baseline="central"  stroke="#111" stroke-width="0.18">100</text>
<line x1="296.40" y1="379.77" x2="298.40" y2="379.77" stroke="#444" stroke-width="0.7" />
<text x="296.20" y="379.97" font-size="6.2" fill="#111" text-anchor="end" font-weight="bold" dominant-baseline="central"  stroke="#111" stroke-width="0.18">120</text>
<line x1="296.40" y1="367.30" x2="298.40" y2="367.30" stroke="#444" stroke-width="0.7" />
<text x="296.20" y="367.50" font-size="6.2" fill="#111" text-anchor="end" font-weight="bold" dominant-baseline="central"  stroke="#111" stroke-width="0.18">140</text>
<line x1="308.90" y1="442.10" x2="308.90" y2="444.10" stroke="#444" stroke-width="0.7" />
<text x="308.90" y="447.40" font-size="6.6" fill="#111" text-anchor="middle" font-weight="bold" dominant-baseline="central"  stroke="#111" stroke-width="0.18">1</text>
<line x1="329.20" y1="442.10" x2="329.20" y2="444.10" stroke="#444" stroke-width="0.7" />
<text x="329.20" y="447.40" font-size="6.6" fill="#111" text-anchor="middle" font-weight="bold" dominant-baseline="central"  stroke="#111" stroke-width="0.18">2</text>
<line x1="349.60" y1="442.10" x2="349.60" y2="444.10" stroke="#444" stroke-width="0.7" />
<text x="349.60" y="447.40" font-size="6.6" fill="#111" text-anchor="middle" font-weight="bold" dominant-baseline="central"  stroke="#111" stroke-width="0.18">3</text>
<line x1="370.40" y1="442.10" x2="370.40" y2="444.10" stroke="#444" stroke-width="0.7" />
<text x="370.40" y="447.40" font-size="6.6" fill="#111" text-anchor="middle" font-weight="bold" dominant-baseline="central"  stroke="#111" stroke-width="0.18">4</text>
<line x1="390.80" y1="442.10" x2="390.80" y2="444.10" stroke="#444" stroke-width="0.7" />
<text x="390.80" y="447.40" font-size="6.6" fill="#111" text-anchor="middle" font-weight="bold" dominant-baseline="central"  stroke="#111" stroke-width="0.18">5</text>
<text x="305.00" y="390.20" font-size="6.8" fill="#222" text-anchor="start" font-weight="bold" dominant-baseline="central"  stroke="#222" stroke-width="0.18">y=21.457+18.36x</text>
<text x="305.00" y="400.00" font-size="6.8" fill="#222" text-anchor="start" font-weight="bold" dominant-baseline="central"  stroke="#222" stroke-width="0.18">R<tspan dy="-2.4" font-size="4.4">2</tspan><tspan dy="2.4">=0.992</tspan></text>
<text x="303.50" y="436.50" font-size="9.3" fill="#22a7c1" text-anchor="start" font-weight="bold" dominant-baseline="central"  stroke="#22a7c1" stroke-width="0.35">Capacitor- 3</text>
<text x="285.20" y="358.60" font-size="9.3" fill="#333" text-anchor="start" font-weight="normal" dominant-baseline="central"  stroke="#333" stroke-width="0.2">(iii)</text>
<text x="282.30" y="406.00" font-size="8.0" fill="#111" text-anchor="middle" font-weight="bold" transform="rotate(-90 282.30 406.00)" dominant-baseline="central"  stroke="#111" stroke-width="0.35">Capacitance(nF)</text>
<text x="348.50" y="454.50" font-size="8.8" fill="#111" text-anchor="middle" font-weight="bold" dominant-baseline="central"  stroke="#111" stroke-width="0.35">Concentration(×10<tspan dy="-3.2" font-size="5.5">5</tspan><tspan dy="3.2">/mL)</tspan></text>
<rect x="433.80" y="367.00" width="72.00" height="13.20" stroke="#bbb" stroke-width="0.5" fill="#fff" />
<rect x="439.50" y="369.90" width="2.4" height="2.4" fill="#111"/>
<text x="447.30" y="371.20" font-size="5.0" fill="#222" text-anchor="start" font-weight="bold" dominant-baseline="central"  stroke="#222" stroke-width="0.18">Mean value with error bar</text>
<line x1="435.10" y1="377.20" x2="445.80" y2="377.20" stroke="#ea4a4a" stroke-width="0.8" />
<text x="447.30" y="377.50" font-size="5.0" fill="#222" text-anchor="start" font-weight="bold" dominant-baseline="central"  stroke="#222" stroke-width="0.18">Linearly fitted value</text>
<clipPath id="ins4"><rect x="501.90" y="414.30" width="35.70" height="28.20"/></clipPath>
<g clip-path="url(#ins4)">
<rect x="501.90" y="414.30" width="35.70" height="28.20" fill="#a6a6a4"/>
<path d="M509.04,442.50 L537.60,436.86 L537.60,442.50 Z" fill="#d8d8d6"/>
<path d="M508.68,417.12 L520.11,415.15 L525.11,424.73 L511.54,427.69 Z" fill="#cdc63c"/>
<line x1="505.47" y1="421.35" x2="507.25" y2="436.30" stroke="#d4cc50" stroke-width="0.6" />
<line x1="523.32" y1="417.68" x2="533.32" y2="429.81" stroke="#d4cc50" stroke-width="0.6" />
<line x1="503.69" y1="422.76" x2="505.47" y2="436.86" stroke="#d4cc50" stroke-width="0.6" />
<ellipse cx="507.61" cy="437.99" rx="2.20" ry="3.40" transform="rotate(-20 507.61 437.99)" fill="#efe414"/>
<ellipse cx="534.57" cy="431.50" rx="2.10" ry="3.00" transform="rotate(-30 534.57 431.50)" fill="#efe414"/>
</g>
<line x1="443.20" y1="431.00" x2="443.20" y2="437.00" stroke="#c8c8c8" stroke-width="0.6" />
<line x1="441.70" y1="431.00" x2="444.70" y2="431.00" stroke="#c8c8c8" stroke-width="0.5" />
<line x1="441.70" y1="437.00" x2="444.70" y2="437.00" stroke="#c8c8c8" stroke-width="0.5" />
<line x1="464.00" y1="419.80" x2="464.00" y2="427.80" stroke="#c8c8c8" stroke-width="0.6" />
<line x1="462.50" y1="419.80" x2="465.50" y2="419.80" stroke="#c8c8c8" stroke-width="0.5" />
<line x1="462.50" y1="427.80" x2="465.50" y2="427.80" stroke="#c8c8c8" stroke-width="0.5" />
<line x1="484.30" y1="402.00" x2="484.30" y2="416.00" stroke="#c8c8c8" stroke-width="0.6" />
<line x1="482.80" y1="402.00" x2="485.80" y2="402.00" stroke="#c8c8c8" stroke-width="0.5" />
<line x1="482.80" y1="416.00" x2="485.80" y2="416.00" stroke="#c8c8c8" stroke-width="0.5" />
<line x1="504.60" y1="394.70" x2="504.60" y2="410.70" stroke="#c8c8c8" stroke-width="0.6" />
<line x1="503.10" y1="394.70" x2="506.10" y2="394.70" stroke="#c8c8c8" stroke-width="0.5" />
<line x1="503.10" y1="410.70" x2="506.10" y2="410.70" stroke="#c8c8c8" stroke-width="0.5" />
<line x1="525.70" y1="375.40" x2="525.70" y2="395.40" stroke="#c8c8c8" stroke-width="0.6" />
<line x1="524.20" y1="375.40" x2="527.20" y2="375.40" stroke="#c8c8c8" stroke-width="0.5" />
<line x1="524.20" y1="395.40" x2="527.20" y2="395.40" stroke="#c8c8c8" stroke-width="0.5" />
<line x1="443.20" y1="433.20" x2="525.70" y2="387.30" stroke="#ea5a5a" stroke-width="0.9" />
<rect x="441.90" y="432.70" width="2.6" height="2.6" fill="#111"/>
<rect x="462.70" y="422.50" width="2.6" height="2.6" fill="#111"/>
<rect x="483.00" y="407.70" width="2.6" height="2.6" fill="#111"/>
<rect x="503.30" y="401.40" width="2.6" height="2.6" fill="#111"/>
<rect x="524.40" y="384.10" width="2.6" height="2.6" fill="#111"/>
<line x1="433.80" y1="367.00" x2="537.60" y2="367.00" stroke="#777" stroke-width="0.7" />
<line x1="537.60" y1="367.00" x2="537.60" y2="442.70" stroke="#777" stroke-width="0.7" />
<line x1="433.80" y1="367.00" x2="433.80" y2="442.70" stroke="#444" stroke-width="0.9" />
<line x1="433.80" y1="442.70" x2="537.60" y2="442.70" stroke="#444" stroke-width="0.9" />
<line x1="431.80" y1="442.70" x2="433.80" y2="442.70" stroke="#444" stroke-width="0.7" />
<text x="431.60" y="442.90" font-size="6.2" fill="#111" text-anchor="end" font-weight="bold" dominant-baseline="central"  stroke="#111" stroke-width="0.18">30</text>
<line x1="431.80" y1="434.29" x2="433.80" y2="434.29" stroke="#444" stroke-width="0.7" />
<text x="431.60" y="434.49" font-size="6.2" fill="#111" text-anchor="end" font-weight="bold" dominant-baseline="central"  stroke="#111" stroke-width="0.18">40</text>
<line x1="431.80" y1="425.88" x2="433.80" y2="425.88" stroke="#444" stroke-width="0.7" />
<text x="431.60" y="426.08" font-size="6.2" fill="#111" text-anchor="end" font-weight="bold" dominant-baseline="central"  stroke="#111" stroke-width="0.18">50</text>
<line x1="431.80" y1="417.47" x2="433.80" y2="417.47" stroke="#444" stroke-width="0.7" />
<text x="431.60" y="417.67" font-size="6.2" fill="#111" text-anchor="end" font-weight="bold" dominant-baseline="central"  stroke="#111" stroke-width="0.18">60</text>
<line x1="431.80" y1="409.06" x2="433.80" y2="409.06" stroke="#444" stroke-width="0.7" />
<text x="431.60" y="409.26" font-size="6.2" fill="#111" text-anchor="end" font-weight="bold" dominant-baseline="central"  stroke="#111" stroke-width="0.18">70</text>
<line x1="431.80" y1="400.64" x2="433.80" y2="400.64" stroke="#444" stroke-width="0.7" />
<text x="431.60" y="400.84" font-size="6.2" fill="#111" text-anchor="end" font-weight="bold" dominant-baseline="central"  stroke="#111" stroke-width="0.18">80</text>
<line x1="431.80" y1="392.23" x2="433.80" y2="392.23" stroke="#444" stroke-width="0.7" />
<text x="431.60" y="392.43" font-size="6.2" fill="#111" text-anchor="end" font-weight="bold" dominant-baseline="central"  stroke="#111" stroke-width="0.18">90</text>
<line x1="431.80" y1="383.82" x2="433.80" y2="383.82" stroke="#444" stroke-width="0.7" />
<text x="431.60" y="384.02" font-size="6.2" fill="#111" text-anchor="end" font-weight="bold" dominant-baseline="central"  stroke="#111" stroke-width="0.18">100</text>
<line x1="431.80" y1="375.41" x2="433.80" y2="375.41" stroke="#444" stroke-width="0.7" />
<text x="431.60" y="375.61" font-size="6.2" fill="#111" text-anchor="end" font-weight="bold" dominant-baseline="central"  stroke="#111" stroke-width="0.18">110</text>
<line x1="431.80" y1="367.00" x2="433.80" y2="367.00" stroke="#444" stroke-width="0.7" />
<text x="431.60" y="367.20" font-size="6.2" fill="#111" text-anchor="end" font-weight="bold" dominant-baseline="central"  stroke="#111" stroke-width="0.18">120</text>
<line x1="443.20" y1="442.70" x2="443.20" y2="444.70" stroke="#444" stroke-width="0.7" />
<text x="443.20" y="447.40" font-size="6.6" fill="#111" text-anchor="middle" font-weight="bold" dominant-baseline="central"  stroke="#111" stroke-width="0.18">1</text>
<line x1="464.00" y1="442.70" x2="464.00" y2="444.70" stroke="#444" stroke-width="0.7" />
<text x="464.00" y="447.40" font-size="6.6" fill="#111" text-anchor="middle" font-weight="bold" dominant-baseline="central"  stroke="#111" stroke-width="0.18">2</text>
<line x1="484.30" y1="442.70" x2="484.30" y2="444.70" stroke="#444" stroke-width="0.7" />
<text x="484.30" y="447.40" font-size="6.6" fill="#111" text-anchor="middle" font-weight="bold" dominant-baseline="central"  stroke="#111" stroke-width="0.18">3</text>
<line x1="504.60" y1="442.70" x2="504.60" y2="444.70" stroke="#444" stroke-width="0.7" />
<text x="504.60" y="447.40" font-size="6.6" fill="#111" text-anchor="middle" font-weight="bold" dominant-baseline="central"  stroke="#111" stroke-width="0.18">4</text>
<line x1="525.70" y1="442.70" x2="525.70" y2="444.70" stroke="#444" stroke-width="0.7" />
<text x="525.70" y="447.40" font-size="6.6" fill="#111" text-anchor="middle" font-weight="bold" dominant-baseline="central"  stroke="#111" stroke-width="0.18">5</text>
<text x="441.00" y="392.70" font-size="6.8" fill="#222" text-anchor="start" font-weight="bold" dominant-baseline="central"  stroke="#222" stroke-width="0.18">y=25.179+13.97x</text>
<text x="441.00" y="401.60" font-size="6.8" fill="#222" text-anchor="start" font-weight="bold" dominant-baseline="central"  stroke="#222" stroke-width="0.18">R<tspan dy="-2.4" font-size="4.4">2</tspan><tspan dy="2.4">=0.986</tspan></text>
<text x="447.80" y="436.00" font-size="9.3" fill="#22a7c1" text-anchor="start" font-weight="bold" dominant-baseline="central"  stroke="#22a7c1" stroke-width="0.35">Capacitor- 4</text>
<text x="415.40" y="358.60" font-size="9.3" fill="#333" text-anchor="start" font-weight="normal" dominant-baseline="central"  stroke="#333" stroke-width="0.2">(iv)</text>
<text x="416.60" y="404.60" font-size="8.0" fill="#111" text-anchor="middle" font-weight="bold" transform="rotate(-90 416.60 404.60)" dominant-baseline="central"  stroke="#111" stroke-width="0.35">Capacitance(nF)</text>
<text x="484.80" y="454.90" font-size="8.8" fill="#111" text-anchor="middle" font-weight="bold" dominant-baseline="central"  stroke="#111" stroke-width="0.35">Concentration(×10<tspan dy="-3.2" font-size="5.5">5</tspan><tspan dy="3.2">/mL)</tspan></text>
</svg>
</body></html>
